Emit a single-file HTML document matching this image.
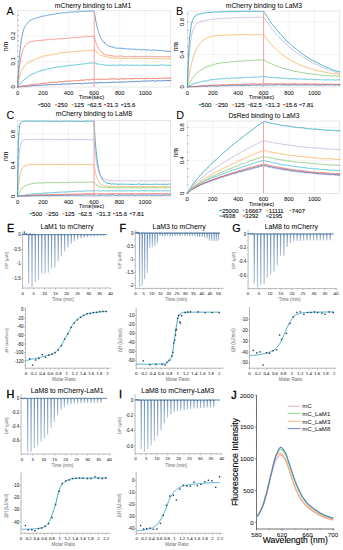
<!DOCTYPE html>
<html><head><meta charset="utf-8"><style>
html,body{margin:0;padding:0;background:#fff;}
svg{display:block;}
text{font-family:"Liberation Sans", sans-serif;}
</style></head><body>
<svg width="343" height="550" viewBox="0 0 343 550">
<defs><linearGradient id="sg" x1="0" y1="0" x2="0" y2="1"><stop offset="0" stop-color="#6d90b6"/><stop offset="1" stop-color="#c9d7e5"/></linearGradient>
<linearGradient id="sl" x1="0" y1="0" x2="0" y2="1"><stop offset="0" stop-color="#2f5f91"/><stop offset="1" stop-color="#7d9dc0"/></linearGradient></defs>
<rect width="343" height="550" fill="#fff"/>
<line x1="43.13" y1="10.80" x2="43.13" y2="87.00" stroke="#e6e6e6" stroke-width="0.5"/>
<line x1="68.67" y1="10.80" x2="68.67" y2="87.00" stroke="#e6e6e6" stroke-width="0.5"/>
<line x1="119.73" y1="10.80" x2="119.73" y2="87.00" stroke="#e6e6e6" stroke-width="0.5"/>
<line x1="145.27" y1="10.80" x2="145.27" y2="87.00" stroke="#e6e6e6" stroke-width="0.5"/>
<line x1="17.60" y1="61.40" x2="170.80" y2="61.40" stroke="#e6e6e6" stroke-width="0.5"/>
<line x1="17.60" y1="35.80" x2="170.80" y2="35.80" stroke="#e6e6e6" stroke-width="0.5"/>
<rect x="17.60" y="10.80" width="153.20" height="76.20" fill="none" stroke="#d6d6d6" stroke-width="0.6"/>
<line x1="17.60" y1="87.00" x2="18.80" y2="87.00" stroke="#555" stroke-width="0.6"/>
<line x1="17.60" y1="81.88" x2="18.80" y2="81.88" stroke="#555" stroke-width="0.6"/>
<line x1="17.60" y1="76.76" x2="18.80" y2="76.76" stroke="#555" stroke-width="0.6"/>
<line x1="17.60" y1="71.64" x2="18.80" y2="71.64" stroke="#555" stroke-width="0.6"/>
<line x1="17.60" y1="66.52" x2="18.80" y2="66.52" stroke="#555" stroke-width="0.6"/>
<line x1="17.60" y1="61.40" x2="18.80" y2="61.40" stroke="#555" stroke-width="0.6"/>
<line x1="17.60" y1="56.28" x2="18.80" y2="56.28" stroke="#555" stroke-width="0.6"/>
<line x1="17.60" y1="51.16" x2="18.80" y2="51.16" stroke="#555" stroke-width="0.6"/>
<line x1="17.60" y1="46.04" x2="18.80" y2="46.04" stroke="#555" stroke-width="0.6"/>
<line x1="17.60" y1="40.92" x2="18.80" y2="40.92" stroke="#555" stroke-width="0.6"/>
<line x1="17.60" y1="35.80" x2="18.80" y2="35.80" stroke="#555" stroke-width="0.6"/>
<line x1="17.60" y1="30.68" x2="18.80" y2="30.68" stroke="#555" stroke-width="0.6"/>
<line x1="17.60" y1="25.56" x2="18.80" y2="25.56" stroke="#555" stroke-width="0.6"/>
<line x1="17.60" y1="20.44" x2="18.80" y2="20.44" stroke="#555" stroke-width="0.6"/>
<line x1="17.60" y1="15.32" x2="18.80" y2="15.32" stroke="#555" stroke-width="0.6"/>
<path d="M17.6,87.0L17.9,86.9L18.2,87.0L18.6,87.0L18.9,86.9L19.2,87.0L19.5,86.8L19.8,86.5L20.2,86.8L20.5,86.8L20.8,86.5L21.1,86.5L21.4,86.6L21.7,86.7L22.1,86.5L22.4,86.3L22.7,86.7L23.0,86.5L23.3,86.8L23.7,86.6L24.0,86.7L24.3,86.4L24.6,86.5L24.9,86.2L25.3,86.2L25.6,86.2L26.4,86.7L27.1,86.2L27.9,86.0L28.7,85.9L29.4,86.2L30.2,85.9L31.0,86.0L31.7,85.9L32.5,85.5L33.3,85.8L34.1,85.6L34.8,85.4L35.6,85.6L36.4,85.5L37.1,85.4L37.9,85.4L38.7,85.6L39.5,85.3L40.2,85.0L41.0,85.5L41.8,85.0L42.5,85.1L43.3,85.2L44.1,84.6L44.9,84.8L45.6,85.2L46.4,84.9L47.2,84.8L47.9,84.9L48.7,84.7L49.5,84.8L50.3,84.6L51.0,84.4L51.8,84.8L52.6,84.6L53.3,84.7L54.1,84.5L54.9,84.8L55.6,84.6L56.4,84.5L57.2,84.3L58.0,84.2L58.7,84.6L59.5,84.5L60.3,84.2L61.0,84.7L61.8,84.3L62.6,84.2L63.4,83.9L64.1,84.0L64.9,84.2L65.7,84.1L66.4,84.1L67.2,83.7L68.0,84.1L68.8,84.0L69.5,83.8L70.3,83.9L71.1,83.9L71.8,84.0L72.6,83.8L73.4,83.8L74.2,83.5L74.9,83.6L75.7,83.7L76.5,83.5L77.2,83.7L78.0,83.3L78.8,83.5L79.6,83.4L80.3,83.7L81.1,83.4L81.9,83.8L82.6,83.8L83.4,83.4L84.2,83.5L84.9,83.2L85.7,82.8L86.5,83.4L87.3,83.3L88.0,83.1L88.8,83.0L89.6,83.1L90.3,83.1L91.1,82.9L91.9,82.9L92.7,83.2L93.4,83.0L94.2,82.9L94.2,83.1L94.5,82.8L94.9,83.1L95.2,82.7L95.5,82.8L95.8,82.8L96.2,83.0L96.5,82.9L96.8,83.2L97.1,83.0L97.5,82.7L97.8,83.2L98.1,82.6L98.5,83.1L98.8,82.6L99.1,82.9L99.4,82.6L99.8,82.7L100.1,83.0L100.4,82.4L100.7,82.4L101.1,82.7L101.4,82.7L101.7,82.7L102.1,82.8L102.4,82.4L102.7,82.7L103.0,82.6L103.4,82.8L103.7,82.7L104.0,82.8L104.3,82.3L104.7,82.6L105.0,82.3L105.3,82.5L105.7,82.7L106.0,82.6L106.3,82.6L106.6,82.5L107.0,82.6L107.3,82.5L108.3,82.7L109.2,82.6L110.1,82.0L111.0,82.5L111.9,82.5L112.9,82.2L113.8,82.0L114.7,82.5L115.6,82.2L116.5,82.3L117.5,82.5L118.4,81.9L119.3,82.1L120.2,82.0L121.1,82.2L122.1,81.9L123.0,82.1L123.9,81.9L124.8,82.1L125.7,82.1L126.7,81.5L127.6,81.9L128.5,81.7L129.4,81.7L130.3,81.8L131.3,81.8L132.2,81.5L133.1,81.7L134.0,81.6L134.9,81.5L135.9,81.3L136.8,81.3L137.7,81.4L138.6,81.5L139.5,81.7L140.5,81.2L141.4,81.1L142.3,81.3L143.2,81.2L144.1,81.1L145.1,81.0L146.0,81.0L146.9,81.2L147.8,80.8L148.7,81.3L149.6,80.9L150.6,80.9L151.5,80.8L152.4,80.6L153.3,80.6L154.2,81.1L155.2,81.2L156.1,80.7L157.0,81.0L157.9,80.8L158.8,80.6L159.8,81.0L160.7,81.1L161.6,80.6L162.5,80.6L163.4,80.6L164.4,80.6L165.3,80.7L166.2,80.8L167.1,80.5L168.0,80.6L169.0,80.7L169.9,80.3L170.8,80.4" fill="none" stroke="#3a6db8" stroke-width="0.85" stroke-linejoin="round" stroke-linecap="round"/>
<path d="M17.6,86.9L17.9,87.0L18.2,87.0L18.6,87.0L18.9,86.9L19.2,86.6L19.5,86.8L19.8,86.5L20.2,86.4L20.5,86.0L20.8,86.7L21.1,86.2L21.4,86.3L21.7,86.2L22.1,86.5L22.4,86.2L22.7,85.9L23.0,86.0L23.3,85.9L23.7,86.0L24.0,85.6L24.3,85.8L24.6,86.2L24.9,85.8L25.3,86.0L25.6,86.3L26.4,85.6L27.1,85.1L27.9,85.2L28.7,85.4L29.4,85.2L30.2,84.7L31.0,84.8L31.7,84.7L32.5,84.6L33.3,84.5L34.1,84.3L34.8,84.2L35.6,84.2L36.4,84.4L37.1,84.0L37.9,84.1L38.7,83.7L39.5,84.1L40.2,83.7L41.0,83.6L41.8,83.8L42.5,83.1L43.3,83.1L44.1,83.4L44.9,83.1L45.6,83.1L46.4,83.6L47.2,83.0L47.9,82.9L48.7,82.8L49.5,83.0L50.3,82.8L51.0,82.7L51.8,82.3L52.6,82.4L53.3,82.4L54.1,82.1L54.9,82.4L55.6,82.3L56.4,82.6L57.2,81.8L58.0,81.9L58.7,81.8L59.5,81.8L60.3,81.8L61.0,81.8L61.8,81.8L62.6,81.7L63.4,81.6L64.1,81.2L64.9,81.4L65.7,81.4L66.4,81.5L67.2,81.4L68.0,80.9L68.8,81.1L69.5,81.1L70.3,81.2L71.1,81.3L71.8,81.0L72.6,80.7L73.4,80.9L74.2,80.8L74.9,80.8L75.7,80.7L76.5,80.9L77.2,80.6L78.0,80.7L78.8,80.3L79.6,80.6L80.3,80.2L81.1,80.0L81.9,80.3L82.6,80.3L83.4,80.1L84.2,80.1L84.9,80.2L85.7,79.9L86.5,79.5L87.3,79.9L88.0,79.8L88.8,80.0L89.6,79.6L90.3,79.9L91.1,79.8L91.9,79.3L92.7,79.7L93.4,79.2L94.2,79.1L94.2,79.3L94.5,79.2L94.9,78.9L95.2,79.3L95.5,79.4L95.8,79.6L96.2,79.3L96.5,79.0L96.8,79.1L97.1,79.5L97.5,79.4L97.8,79.4L98.1,79.2L98.5,79.3L98.8,79.2L99.1,79.2L99.4,79.3L99.8,79.2L100.1,79.2L100.4,79.2L100.7,79.1L101.1,78.8L101.4,79.1L101.7,79.2L102.1,79.5L102.4,79.1L102.7,79.6L103.0,79.5L103.4,79.0L103.7,79.0L104.0,79.2L104.3,79.5L104.7,79.2L105.0,79.3L105.3,79.0L105.7,78.7L106.0,79.1L106.3,79.3L106.6,79.4L107.0,79.1L107.3,79.1L108.3,79.3L109.2,79.0L110.1,79.3L111.0,78.8L111.9,78.8L112.9,78.8L113.8,79.1L114.7,78.9L115.6,79.0L116.5,79.0L117.5,79.0L118.4,79.2L119.3,79.2L120.2,78.7L121.1,78.9L122.1,78.8L123.0,78.6L123.9,79.2L124.8,79.0L125.7,78.8L126.7,78.7L127.6,78.8L128.5,78.5L129.4,78.7L130.3,79.0L131.3,78.9L132.2,78.5L133.1,78.6L134.0,79.0L134.9,78.4L135.9,78.5L136.8,78.3L137.7,78.7L138.6,78.6L139.5,78.8L140.5,78.0L141.4,78.6L142.3,78.2L143.2,78.6L144.1,78.5L145.1,78.8L146.0,78.5L146.9,78.2L147.8,78.7L148.7,78.2L149.6,78.3L150.6,78.6L151.5,78.5L152.4,78.4L153.3,78.3L154.2,78.4L155.2,78.5L156.1,78.3L157.0,78.5L157.9,78.5L158.8,78.2L159.8,78.0L160.7,78.5L161.6,78.2L162.5,78.3L163.4,78.4L164.4,78.0L165.3,78.2L166.2,77.8L167.1,78.3L168.0,78.0L169.0,78.1L169.9,78.2L170.8,77.9" fill="none" stroke="#e8604f" stroke-width="0.85" stroke-linejoin="round" stroke-linecap="round"/>
<path d="M17.6,87.0L17.9,86.4L18.2,86.1L18.6,85.9L18.9,85.3L19.2,84.9L19.5,84.3L19.8,84.3L20.2,83.7L20.5,83.7L20.8,82.9L21.1,82.9L21.4,82.7L21.7,82.0L22.1,81.4L22.4,81.6L22.7,81.2L23.0,80.8L23.3,80.6L23.7,80.0L24.0,80.0L24.3,79.7L24.6,79.1L24.9,79.1L25.3,78.6L25.6,78.7L26.4,78.1L27.1,77.7L27.9,76.4L28.7,76.3L29.4,75.7L30.2,75.3L31.0,74.8L31.7,74.4L32.5,73.6L33.3,73.9L34.1,73.6L34.8,73.2L35.6,72.9L36.4,72.1L37.1,71.8L37.9,71.9L38.7,71.7L39.5,71.2L40.2,70.6L41.0,71.3L41.8,70.3L42.5,70.4L43.3,69.8L44.1,70.0L44.9,69.7L45.6,69.7L46.4,69.4L47.2,68.8L47.9,68.7L48.7,68.8L49.5,68.7L50.3,68.8L51.0,68.3L51.8,68.1L52.6,67.9L53.3,67.8L54.1,67.9L54.9,67.5L55.6,67.4L56.4,67.0L57.2,66.8L58.0,67.0L58.7,67.1L59.5,66.8L60.3,66.8L61.0,66.7L61.8,66.5L62.6,66.6L63.4,66.1L64.1,66.2L64.9,66.0L65.7,66.0L66.4,66.0L67.2,65.9L68.0,65.7L68.8,65.6L69.5,65.4L70.3,65.3L71.1,65.5L71.8,65.1L72.6,65.3L73.4,65.1L74.2,64.9L74.9,65.2L75.7,64.7L76.5,64.6L77.2,64.6L78.0,64.5L78.8,64.4L79.6,64.5L80.3,64.2L81.1,64.2L81.9,64.0L82.6,64.2L83.4,63.8L84.2,63.7L84.9,63.7L85.7,63.7L86.5,63.4L87.3,63.8L88.0,63.3L88.8,63.2L89.6,63.1L90.3,63.0L91.1,63.2L91.9,63.0L92.7,62.8L93.4,62.7L94.2,62.7L94.2,63.0L94.5,62.7L94.9,62.7L95.2,62.9L95.5,63.2L95.8,63.7L96.2,63.3L96.5,63.6L96.8,64.2L97.1,63.7L97.5,64.2L97.8,64.2L98.1,64.2L98.5,63.9L98.8,64.3L99.1,64.2L99.4,64.0L99.8,64.1L100.1,64.5L100.4,64.5L100.7,64.8L101.1,64.7L101.4,64.5L101.7,64.6L102.1,64.7L102.4,64.5L102.7,64.9L103.0,64.8L103.4,64.7L103.7,64.7L104.0,64.6L104.3,64.8L104.7,65.0L105.0,64.9L105.3,65.2L105.7,65.3L106.0,64.9L106.3,65.0L106.6,65.0L107.0,65.4L107.3,65.1L108.3,65.2L109.2,65.3L110.1,65.6L111.0,65.2L111.9,65.0L112.9,65.1L113.8,65.3L114.7,65.2L115.6,65.0L116.5,65.8L117.5,65.2L118.4,65.1L119.3,65.1L120.2,64.9L121.1,65.0L122.1,65.2L123.0,65.2L123.9,65.1L124.8,65.3L125.7,65.2L126.7,65.0L127.6,64.8L128.5,65.3L129.4,65.2L130.3,65.2L131.3,65.0L132.2,65.2L133.1,64.9L134.0,65.4L134.9,65.3L135.9,65.3L136.8,65.1L137.7,65.0L138.6,65.5L139.5,65.4L140.5,65.2L141.4,65.4L142.3,65.6L143.2,65.0L144.1,65.1L145.1,65.1L146.0,65.3L146.9,65.0L147.8,65.3L148.7,65.0L149.6,65.4L150.6,65.4L151.5,65.2L152.4,65.4L153.3,65.1L154.2,65.2L155.2,65.4L156.1,65.2L157.0,65.3L157.9,65.1L158.8,65.4L159.8,65.3L160.7,65.0L161.6,64.8L162.5,64.8L163.4,65.2L164.4,65.2L165.3,64.9L166.2,65.3L167.1,65.4L168.0,65.2L169.0,65.1L169.9,65.4L170.8,65.6" fill="none" stroke="#3cb8cc" stroke-width="0.85" stroke-linejoin="round" stroke-linecap="round"/>
<path d="M17.6,87.0L17.9,84.7L18.2,83.0L18.6,81.2L18.9,79.5L19.2,78.0L19.5,76.9L19.8,75.5L20.2,74.7L20.5,73.7L20.8,72.9L21.1,71.6L21.4,71.1L21.7,70.6L22.1,69.9L22.4,69.3L22.7,68.5L23.0,68.5L23.3,67.9L23.7,67.3L24.0,66.3L24.3,66.2L24.6,66.1L24.9,65.5L25.3,64.9L25.6,65.1L26.4,64.4L27.1,63.4L27.9,63.0L28.7,62.4L29.4,62.1L30.2,61.2L31.0,60.8L31.7,60.6L32.5,60.2L33.3,60.4L34.1,59.5L34.8,59.3L35.6,58.9L36.4,58.5L37.1,58.4L37.9,58.4L38.7,57.7L39.5,57.7L40.2,57.4L41.0,57.2L41.8,56.9L42.5,57.1L43.3,56.1L44.1,56.1L44.9,55.8L45.6,55.4L46.4,55.6L47.2,55.8L47.9,55.5L48.7,55.4L49.5,55.0L50.3,54.8L51.0,55.1L51.8,54.4L52.6,54.7L53.3,54.2L54.1,54.1L54.9,54.0L55.6,53.9L56.4,53.8L57.2,53.7L58.0,53.8L58.7,53.4L59.5,52.9L60.3,52.8L61.0,52.8L61.8,52.8L62.6,53.0L63.4,52.5L64.1,52.7L64.9,52.6L65.7,52.6L66.4,52.4L67.2,52.4L68.0,52.3L68.8,52.4L69.5,52.2L70.3,51.5L71.1,51.9L71.8,51.9L72.6,51.7L73.4,51.6L74.2,51.9L74.9,51.6L75.7,51.3L76.5,51.4L77.2,51.3L78.0,51.0L78.8,51.4L79.6,51.1L80.3,51.2L81.1,50.7L81.9,51.4L82.6,51.0L83.4,50.9L84.2,50.6L84.9,50.6L85.7,50.4L86.5,50.9L87.3,50.4L88.0,50.5L88.8,50.5L89.6,50.2L90.3,50.5L91.1,50.6L91.9,50.2L92.7,50.4L93.4,50.2L94.2,49.9L94.2,49.0L94.5,49.2L94.9,50.0L95.2,50.7L95.5,50.9L95.8,51.3L96.2,51.8L96.5,51.7L96.8,52.3L97.1,52.9L97.5,52.6L97.8,53.0L98.1,53.2L98.5,53.5L98.8,53.6L99.1,54.0L99.4,53.9L99.8,54.3L100.1,54.5L100.4,54.7L100.7,55.2L101.1,55.1L101.4,55.3L101.7,55.4L102.1,55.8L102.4,55.3L102.7,55.8L103.0,56.2L103.4,56.4L103.7,56.2L104.0,56.3L104.3,56.5L104.7,56.4L105.0,56.7L105.3,56.5L105.7,56.8L106.0,56.8L106.3,56.6L106.6,56.4L107.0,57.2L107.3,57.2L108.3,57.4L109.2,57.2L110.1,57.7L111.0,57.7L111.9,57.7L112.9,58.0L113.8,58.0L114.7,58.0L115.6,58.4L116.5,58.3L117.5,58.2L118.4,58.1L119.3,58.2L120.2,58.5L121.1,58.3L122.1,58.1L123.0,58.1L123.9,58.3L124.8,58.5L125.7,58.2L126.7,58.5L127.6,58.6L128.5,58.5L129.4,58.1L130.3,58.4L131.3,58.2L132.2,58.5L133.1,58.2L134.0,58.6L134.9,58.5L135.9,58.0L136.8,58.3L137.7,58.6L138.6,58.5L139.5,58.5L140.5,58.3L141.4,58.6L142.3,58.9L143.2,58.6L144.1,58.6L145.1,58.6L146.0,58.3L146.9,58.5L147.8,58.4L148.7,58.8L149.6,58.4L150.6,58.2L151.5,58.5L152.4,58.6L153.3,58.6L154.2,58.3L155.2,58.9L156.1,58.7L157.0,58.6L157.9,58.6L158.8,58.8L159.8,58.7L160.7,58.8L161.6,58.7L162.5,58.8L163.4,59.0L164.4,58.8L165.3,58.6L166.2,59.0L167.1,58.9L168.0,58.7L169.0,59.0L169.9,58.8L170.8,59.1" fill="none" stroke="#f5b25c" stroke-width="0.85" stroke-linejoin="round" stroke-linecap="round"/>
<path d="M17.6,86.8L17.9,82.2L18.2,78.4L18.6,75.4L18.9,72.0L19.2,69.2L19.5,66.6L19.8,64.0L20.2,62.4L20.5,60.0L20.8,58.4L21.1,56.5L21.4,55.3L21.7,54.2L22.1,52.8L22.4,51.7L22.7,50.8L23.0,49.8L23.3,49.3L23.7,48.9L24.0,47.6L24.3,47.0L24.6,46.6L24.9,46.1L25.3,45.4L25.6,45.3L26.4,44.5L27.1,43.7L27.9,42.9L28.7,43.0L29.4,42.1L30.2,42.2L31.0,42.0L31.7,41.3L32.5,41.4L33.3,41.5L34.1,41.2L34.8,40.8L35.6,40.7L36.4,40.9L37.1,40.6L37.9,40.5L38.7,40.7L39.5,40.4L40.2,40.4L41.0,40.5L41.8,40.4L42.5,40.2L43.3,40.1L44.1,40.2L44.9,40.1L45.6,39.7L46.4,39.9L47.2,39.7L47.9,39.5L48.7,39.6L49.5,39.2L50.3,39.8L51.0,39.4L51.8,39.5L52.6,39.0L53.3,39.0L54.1,39.7L54.9,39.4L55.6,39.0L56.4,38.9L57.2,38.9L58.0,39.0L58.7,38.8L59.5,38.7L60.3,38.8L61.0,38.5L61.8,39.1L62.6,38.5L63.4,38.7L64.1,38.3L64.9,38.5L65.7,38.5L66.4,38.2L67.2,38.4L68.0,38.3L68.8,38.4L69.5,38.0L70.3,37.9L71.1,37.7L71.8,37.9L72.6,37.6L73.4,37.7L74.2,37.7L74.9,37.5L75.7,37.3L76.5,37.5L77.2,37.5L78.0,37.4L78.8,37.3L79.6,37.4L80.3,37.0L81.1,37.2L81.9,37.0L82.6,37.2L83.4,36.8L84.2,36.8L84.9,36.9L85.7,36.3L86.5,36.6L87.3,36.2L88.0,36.4L88.8,36.6L89.6,36.5L90.3,36.3L91.1,36.3L91.9,36.2L92.7,36.2L93.4,36.5L94.2,36.1L94.2,36.5L94.5,37.4L94.9,38.9L95.2,40.2L95.5,41.2L95.8,42.1L96.2,43.5L96.5,44.4L96.8,45.2L97.1,46.1L97.5,46.7L97.8,46.8L98.1,48.0L98.5,48.2L98.8,49.2L99.1,49.4L99.4,50.0L99.8,50.3L100.1,50.6L100.4,50.8L100.7,51.4L101.1,51.8L101.4,52.3L101.7,52.3L102.1,52.7L102.4,52.7L102.7,53.1L103.0,53.0L103.4,54.0L103.7,53.8L104.0,53.7L104.3,54.1L104.7,54.4L105.0,54.4L105.3,54.8L105.7,54.6L106.0,54.2L106.3,54.6L106.6,55.1L107.0,55.2L107.3,55.2L108.3,55.1L109.2,55.6L110.1,55.8L111.0,55.5L111.9,55.6L112.9,56.0L113.8,56.2L114.7,56.3L115.6,56.2L116.5,56.6L117.5,56.0L118.4,56.3L119.3,56.1L120.2,55.8L121.1,56.0L122.1,56.5L123.0,56.1L123.9,56.1L124.8,56.5L125.7,56.5L126.7,56.4L127.6,56.7L128.5,56.1L129.4,56.9L130.3,56.6L131.3,56.4L132.2,56.4L133.1,56.4L134.0,56.4L134.9,56.5L135.9,56.2L136.8,56.9L137.7,56.5L138.6,56.6L139.5,56.5L140.5,56.4L141.4,56.7L142.3,56.6L143.2,56.4L144.1,56.5L145.1,56.7L146.0,56.1L146.9,56.1L147.8,56.9L148.7,56.5L149.6,56.1L150.6,56.4L151.5,56.6L152.4,56.7L153.3,56.7L154.2,56.7L155.2,56.7L156.1,56.5L157.0,56.7L157.9,56.8L158.8,56.9L159.8,56.7L160.7,56.9L161.6,56.7L162.5,56.5L163.4,56.6L164.4,56.6L165.3,56.7L166.2,56.7L167.1,56.8L168.0,56.8L169.0,56.6L169.9,57.0L170.8,56.5" fill="none" stroke="#f3877a" stroke-width="0.85" stroke-linejoin="round" stroke-linecap="round"/>
<path d="M17.6,87.0L17.9,80.5L18.2,74.4L18.6,69.1L18.9,64.1L19.2,59.9L19.5,55.7L19.8,52.6L20.2,49.8L20.5,46.7L20.8,44.4L21.1,41.7L21.4,39.4L21.7,37.7L22.1,36.4L22.4,34.8L22.7,32.9L23.0,32.0L23.3,30.9L23.7,29.7L24.0,28.5L24.3,27.9L24.6,27.4L24.9,26.6L25.3,26.0L25.6,25.6L26.4,24.5L27.1,23.3L27.9,22.6L28.7,21.7L29.4,21.1L30.2,20.1L31.0,20.3L31.7,19.7L32.5,19.4L33.3,18.9L34.1,18.5L34.8,18.5L35.6,18.3L36.4,18.2L37.1,17.8L37.9,17.3L38.7,17.1L39.5,17.1L40.2,16.8L41.0,16.5L41.8,16.2L42.5,16.3L43.3,16.0L44.1,16.2L44.9,15.9L45.6,15.2L46.4,15.8L47.2,15.3L47.9,15.0L48.7,15.0L49.5,14.9L50.3,14.7L51.0,14.5L51.8,14.4L52.6,14.7L53.3,14.2L54.1,14.2L54.9,14.0L55.6,13.8L56.4,13.6L57.2,13.4L58.0,13.6L58.7,13.2L59.5,13.1L60.3,13.0L61.0,12.9L61.8,13.1L62.6,13.0L63.4,12.7L64.1,13.1L64.9,12.7L65.7,12.8L66.4,12.7L67.2,12.9L68.0,12.6L68.8,12.4L69.5,12.1L70.3,12.1L71.1,12.2L71.8,12.2L72.6,12.2L73.4,11.9L74.2,12.0L74.9,11.8L75.7,11.5L76.5,11.8L77.2,12.0L78.0,11.8L78.8,11.9L79.6,11.8L80.3,11.2L81.1,11.4L81.9,11.7L82.6,11.2L83.4,11.1L84.2,11.3L84.9,11.4L85.7,11.2L86.5,11.1L87.3,11.1L88.0,11.1L88.8,11.1L89.6,11.1L90.3,11.1L91.1,11.1L91.9,11.1L92.7,11.1L93.4,11.1L94.2,11.1L94.2,11.1L94.5,13.1L94.9,15.3L95.2,16.9L95.5,18.9L95.8,20.8L96.2,22.3L96.5,23.8L96.8,25.5L97.1,27.4L97.5,28.3L97.8,29.5L98.1,30.8L98.5,31.6L98.8,32.4L99.1,33.7L99.4,34.7L99.8,34.9L100.1,36.2L100.4,37.1L100.7,37.4L101.1,38.1L101.4,38.9L101.7,39.2L102.1,40.0L102.4,40.5L102.7,40.8L103.0,41.1L103.4,41.8L103.7,42.0L104.0,42.5L104.3,42.2L104.7,43.3L105.0,43.2L105.3,43.7L105.7,44.0L106.0,44.1L106.3,44.3L106.6,44.5L107.0,44.9L107.3,45.3L108.3,45.8L109.2,46.0L110.1,46.4L111.0,46.5L111.9,47.0L112.9,47.1L113.8,47.2L114.7,47.7L115.6,48.1L116.5,48.2L117.5,48.4L118.4,47.9L119.3,48.5L120.2,48.1L121.1,48.4L122.1,48.2L123.0,48.4L123.9,48.7L124.8,48.8L125.7,48.8L126.7,48.8L127.6,49.0L128.5,49.0L129.4,48.7L130.3,49.4L131.3,49.1L132.2,49.4L133.1,49.2L134.0,49.1L134.9,49.4L135.9,49.2L136.8,49.8L137.7,49.3L138.6,49.7L139.5,49.5L140.5,49.6L141.4,50.2L142.3,49.9L143.2,49.7L144.1,49.5L145.1,49.8L146.0,49.9L146.9,50.2L147.8,49.7L148.7,49.7L149.6,50.1L150.6,50.2L151.5,50.5L152.4,50.1L153.3,49.7L154.2,50.2L155.2,50.1L156.1,50.3L157.0,50.7L157.9,50.2L158.8,50.8L159.8,50.6L160.7,50.6L161.6,50.5L162.5,50.7L163.4,50.7L164.4,51.0L165.3,51.1L166.2,50.9L167.1,51.1L168.0,51.3L169.0,51.3L169.9,51.2L170.8,51.5" fill="none" stroke="#4a8fd0" stroke-width="0.85" stroke-linejoin="round" stroke-linecap="round"/>
<line x1="94.20" y1="10.80" x2="94.20" y2="87.00" stroke="#f4a2a2" stroke-width="1.0"/>
<text x="17.60" y="94.89" font-size="5.8" fill="#111" text-anchor="middle" stroke="#111" stroke-width="0.05">0</text>
<text x="43.13" y="94.89" font-size="5.8" fill="#111" text-anchor="middle" stroke="#111" stroke-width="0.05">200</text>
<text x="68.67" y="94.89" font-size="5.8" fill="#111" text-anchor="middle" stroke="#111" stroke-width="0.05">400</text>
<text x="94.20" y="94.89" font-size="5.8" fill="#111" text-anchor="middle" stroke="#111" stroke-width="0.05">600</text>
<text x="119.73" y="94.89" font-size="5.8" fill="#111" text-anchor="middle" stroke="#111" stroke-width="0.05">800</text>
<text x="145.27" y="94.89" font-size="5.8" fill="#111" text-anchor="middle" stroke="#111" stroke-width="0.05">1000</text>
<text x="15.29" y="87.00" font-size="5.8" fill="#111" text-anchor="middle" stroke="#111" stroke-width="0.05" transform="rotate(-90 15.29 87.00)">0</text>
<text x="15.29" y="61.40" font-size="5.8" fill="#111" text-anchor="middle" stroke="#111" stroke-width="0.05" transform="rotate(-90 15.29 61.40)">0.1</text>
<text x="15.29" y="35.80" font-size="5.8" fill="#111" text-anchor="middle" stroke="#111" stroke-width="0.05" transform="rotate(-90 15.29 35.80)">0.2</text>
<text x="8.15" y="46.50" font-size="6.8" fill="#111" text-anchor="middle" stroke="#111" stroke-width="0.08" transform="rotate(-90 8.15 46.50)">nm</text>
<text x="91.50" y="99.39" font-size="5.8" fill="#111" text-anchor="middle" stroke="#111" stroke-width="0.05">Time(sec)</text>
<text x="93.00" y="8.15" font-size="6.8" fill="#000" text-anchor="middle">mCherry binding to LaM1</text>
<line x1="38.00" y1="104.70" x2="40.40" y2="104.70" stroke="#4a8fd0" stroke-width="1.4"/>
<text x="40.50" y="106.86" font-size="6.0" fill="#111" stroke="#111" stroke-width="0.1">500</text>
<line x1="55.00" y1="104.70" x2="57.40" y2="104.70" stroke="#f3877a" stroke-width="1.4"/>
<text x="57.50" y="106.86" font-size="6.0" fill="#111" stroke="#111" stroke-width="0.1">250</text>
<line x1="71.50" y1="104.70" x2="73.90" y2="104.70" stroke="#f5b25c" stroke-width="1.4"/>
<text x="74.00" y="106.86" font-size="6.0" fill="#111" stroke="#111" stroke-width="0.1">125</text>
<line x1="87.40" y1="104.70" x2="89.80" y2="104.70" stroke="#3cb8cc" stroke-width="1.4"/>
<text x="89.90" y="106.86" font-size="6.0" fill="#111" stroke="#111" stroke-width="0.1">62.5</text>
<line x1="103.90" y1="104.70" x2="106.30" y2="104.70" stroke="#e8604f" stroke-width="1.4"/>
<text x="106.40" y="106.86" font-size="6.0" fill="#111" stroke="#111" stroke-width="0.1">31.3</text>
<line x1="121.10" y1="104.70" x2="123.50" y2="104.70" stroke="#3a6db8" stroke-width="1.4"/>
<text x="123.60" y="106.86" font-size="6.0" fill="#111" stroke="#111" stroke-width="0.1">15.6</text>
<line x1="212.80" y1="11.00" x2="212.80" y2="87.00" stroke="#e6e6e6" stroke-width="0.5"/>
<line x1="238.20" y1="11.00" x2="238.20" y2="87.00" stroke="#e6e6e6" stroke-width="0.5"/>
<line x1="289.00" y1="11.00" x2="289.00" y2="87.00" stroke="#e6e6e6" stroke-width="0.5"/>
<line x1="314.40" y1="11.00" x2="314.40" y2="87.00" stroke="#e6e6e6" stroke-width="0.5"/>
<line x1="187.40" y1="54.50" x2="339.80" y2="54.50" stroke="#e6e6e6" stroke-width="0.5"/>
<line x1="187.40" y1="22.00" x2="339.80" y2="22.00" stroke="#e6e6e6" stroke-width="0.5"/>
<rect x="187.40" y="11.00" width="152.40" height="76.00" fill="none" stroke="#d6d6d6" stroke-width="0.6"/>
<line x1="187.40" y1="87.00" x2="188.60" y2="87.00" stroke="#555" stroke-width="0.6"/>
<line x1="187.40" y1="78.88" x2="188.60" y2="78.88" stroke="#555" stroke-width="0.6"/>
<line x1="187.40" y1="70.75" x2="188.60" y2="70.75" stroke="#555" stroke-width="0.6"/>
<line x1="187.40" y1="62.62" x2="188.60" y2="62.62" stroke="#555" stroke-width="0.6"/>
<line x1="187.40" y1="54.50" x2="188.60" y2="54.50" stroke="#555" stroke-width="0.6"/>
<line x1="187.40" y1="46.38" x2="188.60" y2="46.38" stroke="#555" stroke-width="0.6"/>
<line x1="187.40" y1="38.25" x2="188.60" y2="38.25" stroke="#555" stroke-width="0.6"/>
<line x1="187.40" y1="30.13" x2="188.60" y2="30.13" stroke="#555" stroke-width="0.6"/>
<line x1="187.40" y1="22.00" x2="188.60" y2="22.00" stroke="#555" stroke-width="0.6"/>
<line x1="187.40" y1="13.88" x2="188.60" y2="13.88" stroke="#555" stroke-width="0.6"/>
<path d="M187.4,87.0L187.7,87.0L188.0,86.9L188.4,86.9L188.7,86.6L189.0,87.0L189.3,87.0L189.6,86.7L189.9,86.9L190.3,86.9L190.6,86.5L190.9,86.9L191.2,87.0L191.5,87.0L191.8,86.7L192.2,86.7L192.5,87.0L192.8,86.9L193.1,86.6L193.4,86.6L193.8,86.8L194.1,86.6L194.4,86.5L194.7,86.9L195.0,86.7L195.3,86.5L196.1,86.7L196.9,86.9L197.6,86.5L198.4,86.3L199.2,86.2L199.9,86.8L200.7,86.0L201.5,86.5L202.2,86.2L203.0,86.1L203.8,86.1L204.5,86.2L205.3,86.4L206.1,86.1L206.8,86.3L207.6,86.6L208.4,85.7L209.1,86.0L209.9,85.8L210.7,86.2L211.4,85.8L212.2,85.8L213.0,85.7L213.7,86.0L214.5,86.1L215.3,86.0L216.0,86.3L216.8,86.2L217.6,85.9L218.3,86.0L219.1,85.9L219.9,85.8L220.6,85.5L221.4,85.6L222.2,85.8L222.9,85.5L223.7,85.9L224.5,85.8L225.3,85.5L226.0,85.9L226.8,85.7L227.6,85.9L228.3,85.6L229.1,85.3L229.9,85.7L230.6,85.5L231.4,85.7L232.2,85.7L232.9,85.7L233.7,85.3L234.5,85.1L235.2,85.4L236.0,85.6L236.8,85.3L237.5,85.5L238.3,85.3L239.1,85.4L239.8,85.4L240.6,85.3L241.4,85.5L242.1,85.4L242.9,85.6L243.7,85.4L244.4,85.5L245.2,85.3L246.0,85.4L246.7,85.3L247.5,85.2L248.3,85.5L249.0,85.4L249.8,85.4L250.6,85.1L251.3,84.9L252.1,85.0L252.9,85.2L253.6,84.9L254.4,85.4L255.2,84.9L255.9,85.2L256.7,85.6L257.5,84.7L258.2,84.8L259.0,85.2L259.8,85.0L260.5,85.1L261.3,85.0L262.1,85.3L262.8,85.1L263.6,84.9L263.6,84.9L263.9,84.8L264.3,85.0L264.6,84.6L264.9,85.1L265.2,84.9L265.6,85.3L265.9,85.2L266.2,84.8L266.5,85.1L266.9,84.9L267.2,85.0L267.5,85.1L267.8,85.0L268.2,85.1L268.5,85.0L268.8,84.8L269.1,84.9L269.5,85.1L269.8,85.1L270.1,84.9L270.4,85.0L270.8,84.8L271.1,84.5L271.4,84.8L271.7,85.0L272.1,85.0L272.4,85.1L272.7,85.1L273.0,85.1L273.4,85.0L273.7,85.0L274.0,84.8L274.3,85.0L274.7,85.0L275.0,85.2L275.3,84.7L275.6,84.9L276.0,84.7L276.3,84.8L276.7,84.7L277.6,85.0L278.5,84.9L279.4,84.5L280.3,85.2L281.3,84.8L282.2,84.7L283.1,84.9L284.0,84.8L284.9,84.8L285.8,85.1L286.7,84.9L287.7,85.1L288.6,85.1L289.5,85.1L290.4,85.0L291.3,84.9L292.2,84.9L293.1,85.2L294.1,84.6L295.0,84.8L295.9,84.8L296.8,85.0L297.7,85.0L298.6,84.9L299.6,84.9L300.5,85.2L301.4,84.8L302.3,84.5L303.2,85.3L304.1,84.8L305.0,84.9L306.0,85.0L306.9,84.7L307.8,85.2L308.7,84.9L309.6,84.7L310.5,85.0L311.4,85.0L312.4,84.9L313.3,85.0L314.2,84.7L315.1,85.1L316.0,84.8L316.9,85.2L317.8,84.9L318.8,85.0L319.7,85.4L320.6,85.0L321.5,85.1L322.4,85.0L323.3,84.7L324.2,85.2L325.2,85.1L326.1,84.7L327.0,84.9L327.9,84.7L328.8,84.9L329.7,85.1L330.7,85.0L331.6,84.8L332.5,84.8L333.4,85.0L334.3,85.0L335.2,85.0L336.1,85.1L337.1,84.6L338.0,85.0L338.9,85.2L339.8,85.0" fill="none" stroke="#3a6db8" stroke-width="0.85" stroke-linejoin="round" stroke-linecap="round"/>
<path d="M187.4,86.9L187.7,86.9L188.0,87.0L188.4,87.0L188.7,86.9L189.0,87.0L189.3,87.0L189.6,86.6L189.9,86.8L190.3,86.7L190.6,86.5L190.9,86.5L191.2,86.6L191.5,86.2L191.8,86.5L192.2,86.6L192.5,86.4L192.8,86.4L193.1,86.6L193.4,86.4L193.8,86.4L194.1,86.7L194.4,86.4L194.7,86.4L195.0,86.4L195.3,86.6L196.1,86.3L196.9,86.2L197.6,86.1L198.4,86.2L199.2,85.9L199.9,86.2L200.7,85.9L201.5,85.6L202.2,85.9L203.0,85.8L203.8,85.5L204.5,85.7L205.3,85.7L206.1,85.5L206.8,85.4L207.6,85.9L208.4,85.6L209.1,85.6L209.9,85.6L210.7,85.5L211.4,85.5L212.2,85.2L213.0,85.4L213.7,85.2L214.5,85.1L215.3,85.3L216.0,85.1L216.8,84.8L217.6,85.0L218.3,85.1L219.1,85.0L219.9,85.1L220.6,84.9L221.4,84.8L222.2,85.0L222.9,84.9L223.7,84.7L224.5,84.9L225.3,84.8L226.0,84.9L226.8,84.9L227.6,84.8L228.3,84.3L229.1,84.7L229.9,84.7L230.6,84.7L231.4,84.6L232.2,84.5L232.9,84.5L233.7,84.2L234.5,84.5L235.2,84.3L236.0,84.4L236.8,84.3L237.5,84.7L238.3,84.4L239.1,84.4L239.8,84.4L240.6,84.7L241.4,84.2L242.1,84.4L242.9,84.4L243.7,84.3L244.4,84.3L245.2,84.2L246.0,84.4L246.7,84.3L247.5,84.1L248.3,84.1L249.0,84.2L249.8,84.2L250.6,84.2L251.3,84.1L252.1,83.9L252.9,84.2L253.6,83.8L254.4,83.9L255.2,84.0L255.9,83.8L256.7,84.2L257.5,84.2L258.2,84.1L259.0,84.0L259.8,83.9L260.5,83.9L261.3,83.8L262.1,84.2L262.8,83.7L263.6,84.0L263.6,83.9L263.9,83.8L264.3,83.9L264.6,84.0L264.9,83.9L265.2,83.8L265.6,83.7L265.9,83.7L266.2,83.9L266.5,83.9L266.9,83.9L267.2,83.7L267.5,84.1L267.8,83.6L268.2,83.9L268.5,83.9L268.8,83.7L269.1,83.6L269.5,83.7L269.8,83.6L270.1,83.8L270.4,83.6L270.8,83.6L271.1,83.8L271.4,83.6L271.7,83.8L272.1,83.8L272.4,84.0L272.7,83.9L273.0,83.7L273.4,84.0L273.7,83.7L274.0,83.8L274.3,83.8L274.7,84.2L275.0,83.8L275.3,83.7L275.6,84.0L276.0,83.8L276.3,84.2L276.7,83.7L277.6,83.9L278.5,83.7L279.4,84.2L280.3,83.7L281.3,83.9L282.2,83.7L283.1,84.0L284.0,84.0L284.9,83.5L285.8,84.0L286.7,84.0L287.7,83.9L288.6,84.1L289.5,83.7L290.4,83.6L291.3,84.0L292.2,84.2L293.1,83.7L294.1,83.8L295.0,83.8L295.9,83.8L296.8,84.1L297.7,84.0L298.6,84.2L299.6,84.2L300.5,83.8L301.4,84.1L302.3,83.6L303.2,84.0L304.1,84.1L305.0,83.9L306.0,83.7L306.9,83.9L307.8,84.2L308.7,84.0L309.6,83.8L310.5,84.1L311.4,84.2L312.4,83.9L313.3,84.0L314.2,84.3L315.1,84.1L316.0,84.2L316.9,84.0L317.8,84.1L318.8,83.9L319.7,84.0L320.6,84.4L321.5,84.1L322.4,84.0L323.3,84.1L324.2,84.0L325.2,84.2L326.1,84.3L327.0,84.0L327.9,84.3L328.8,84.5L329.7,84.0L330.7,84.3L331.6,84.2L332.5,84.4L333.4,84.4L334.3,84.4L335.2,84.3L336.1,84.2L337.1,84.6L338.0,84.1L338.9,84.4L339.8,84.4" fill="none" stroke="#e8604f" stroke-width="0.85" stroke-linejoin="round" stroke-linecap="round"/>
<path d="M187.4,86.9L187.7,86.8L188.0,86.9L188.4,86.1L188.7,86.4L189.0,86.0L189.3,85.9L189.6,85.5L189.9,85.7L190.3,85.3L190.6,85.4L190.9,84.9L191.2,85.1L191.5,84.9L191.8,84.4L192.2,84.5L192.5,84.4L192.8,83.9L193.1,84.1L193.4,84.1L193.8,83.8L194.1,83.9L194.4,83.5L194.7,83.3L195.0,83.5L195.3,83.4L196.1,83.0L196.9,82.8L197.6,82.7L198.4,82.2L199.2,82.5L199.9,82.0L200.7,81.8L201.5,81.6L202.2,81.3L203.0,81.4L203.8,81.0L204.5,81.0L205.3,80.9L206.1,80.9L206.8,80.7L207.6,80.3L208.4,80.4L209.1,80.2L209.9,79.9L210.7,79.8L211.4,79.6L212.2,79.8L213.0,79.9L213.7,79.4L214.5,79.5L215.3,79.2L216.0,79.4L216.8,79.1L217.6,79.1L218.3,79.0L219.1,79.0L219.9,78.9L220.6,78.9L221.4,78.8L222.2,78.7L222.9,78.9L223.7,78.4L224.5,78.7L225.3,78.4L226.0,78.6L226.8,78.5L227.6,78.1L228.3,78.5L229.1,78.6L229.9,78.4L230.6,78.3L231.4,77.9L232.2,78.2L232.9,78.0L233.7,78.3L234.5,78.0L235.2,77.9L236.0,77.7L236.8,78.1L237.5,77.8L238.3,77.8L239.1,78.0L239.8,77.8L240.6,77.8L241.4,78.1L242.1,77.6L242.9,77.6L243.7,77.7L244.4,77.8L245.2,77.3L246.0,77.5L246.7,77.3L247.5,77.2L248.3,77.5L249.0,77.2L249.8,77.4L250.6,77.3L251.3,77.3L252.1,77.2L252.9,77.0L253.6,77.2L254.4,77.2L255.2,77.2L255.9,77.0L256.7,77.2L257.5,77.1L258.2,77.0L259.0,77.1L259.8,77.0L260.5,77.0L261.3,76.5L262.1,76.6L262.8,76.7L263.6,76.8L263.6,76.4L263.9,76.7L264.3,76.8L264.6,76.8L264.9,76.8L265.2,76.7L265.6,77.0L265.9,76.6L266.2,77.2L266.5,76.9L266.9,77.2L267.2,76.8L267.5,77.2L267.8,77.2L268.2,77.0L268.5,77.0L268.8,77.4L269.1,77.3L269.5,77.5L269.8,77.3L270.1,77.4L270.4,77.4L270.8,77.5L271.1,77.5L271.4,77.6L271.7,77.4L272.1,77.3L272.4,77.8L272.7,77.6L273.0,77.7L273.4,77.5L273.7,77.8L274.0,77.7L274.3,77.8L274.7,77.6L275.0,77.7L275.3,77.8L275.6,77.7L276.0,77.8L276.3,78.1L276.7,77.8L277.6,77.9L278.5,78.0L279.4,77.9L280.3,77.9L281.3,78.3L282.2,78.3L283.1,78.0L284.0,78.1L284.9,78.5L285.8,78.6L286.7,78.6L287.7,78.6L288.6,78.8L289.5,78.6L290.4,78.9L291.3,78.9L292.2,78.6L293.1,78.9L294.1,78.8L295.0,78.8L295.9,78.8L296.8,79.0L297.7,79.0L298.6,79.1L299.6,78.8L300.5,79.0L301.4,79.3L302.3,79.1L303.2,79.1L304.1,79.1L305.0,78.9L306.0,79.0L306.9,79.4L307.8,79.3L308.7,79.6L309.6,79.3L310.5,79.4L311.4,79.0L312.4,79.4L313.3,79.8L314.2,79.6L315.1,79.5L316.0,79.8L316.9,79.7L317.8,79.7L318.8,79.6L319.7,79.7L320.6,79.8L321.5,79.6L322.4,79.8L323.3,79.8L324.2,80.0L325.2,79.9L326.1,79.7L327.0,80.1L327.9,79.8L328.8,79.7L329.7,79.9L330.7,79.8L331.6,80.1L332.5,79.7L333.4,79.7L334.3,79.9L335.2,80.2L336.1,80.1L337.1,79.8L338.0,79.7L338.9,79.9L339.8,79.8" fill="none" stroke="#45bbd3" stroke-width="0.85" stroke-linejoin="round" stroke-linecap="round"/>
<path d="M187.4,87.0L187.7,86.4L188.0,85.7L188.4,85.0L188.7,84.7L189.0,83.7L189.3,83.1L189.6,82.9L189.9,82.4L190.3,81.6L190.6,81.2L190.9,81.0L191.2,80.0L191.5,79.6L191.8,79.3L192.2,78.4L192.5,78.3L192.8,78.0L193.1,77.4L193.4,77.2L193.8,76.8L194.1,76.2L194.4,76.0L194.7,75.6L195.0,74.9L195.3,74.7L196.1,73.9L196.9,73.2L197.6,72.5L198.4,71.7L199.2,71.3L199.9,70.4L200.7,70.3L201.5,69.7L202.2,69.4L203.0,68.8L203.8,68.2L204.5,67.6L205.3,67.6L206.1,67.1L206.8,66.9L207.6,66.6L208.4,66.4L209.1,65.9L209.9,65.9L210.7,65.4L211.4,65.2L212.2,65.0L213.0,64.9L213.7,64.7L214.5,64.0L215.3,64.4L216.0,63.7L216.8,63.7L217.6,63.7L218.3,63.7L219.1,63.2L219.9,63.0L220.6,63.3L221.4,63.1L222.2,62.7L222.9,62.7L223.7,62.4L224.5,62.7L225.3,62.4L226.0,62.6L226.8,62.0L227.6,62.3L228.3,62.5L229.1,62.1L229.9,62.0L230.6,61.6L231.4,61.9L232.2,61.8L232.9,61.6L233.7,61.4L234.5,61.6L235.2,61.3L236.0,61.4L236.8,61.4L237.5,61.3L238.3,61.3L239.1,61.4L239.8,61.0L240.6,61.3L241.4,60.9L242.1,60.9L242.9,61.0L243.7,61.0L244.4,60.9L245.2,60.7L246.0,60.6L246.7,60.7L247.5,60.5L248.3,60.7L249.0,60.5L249.8,60.8L250.6,60.4L251.3,60.4L252.1,60.5L252.9,60.2L253.6,60.2L254.4,60.7L255.2,60.2L255.9,60.4L256.7,60.0L257.5,59.7L258.2,60.2L259.0,60.0L259.8,60.0L260.5,59.9L261.3,59.8L262.1,59.7L262.8,60.0L263.6,59.6L263.6,59.9L263.9,59.9L264.3,60.0L264.6,60.2L264.9,60.7L265.2,60.8L265.6,60.9L265.9,61.1L266.2,61.0L266.5,61.6L266.9,61.5L267.2,61.6L267.5,61.8L267.8,62.0L268.2,62.0L268.5,62.3L268.8,62.4L269.1,62.6L269.5,62.6L269.8,63.3L270.1,63.0L270.4,63.4L270.8,63.5L271.1,63.8L271.4,64.1L271.7,64.0L272.1,64.2L272.4,64.1L272.7,64.6L273.0,64.3L273.4,64.6L273.7,64.8L274.0,65.0L274.3,65.2L274.7,65.3L275.0,65.4L275.3,65.4L275.6,65.6L276.0,65.9L276.3,65.9L276.7,66.1L277.6,66.3L278.5,66.3L279.4,66.9L280.3,67.3L281.3,67.8L282.2,68.1L283.1,68.4L284.0,68.3L284.9,68.8L285.8,69.0L286.7,69.3L287.7,69.5L288.6,69.5L289.5,70.1L290.4,70.3L291.3,70.6L292.2,70.5L293.1,71.0L294.1,71.2L295.0,71.5L295.9,71.7L296.8,71.6L297.7,71.4L298.6,72.2L299.6,72.0L300.5,72.3L301.4,72.7L302.3,72.7L303.2,72.8L304.1,73.1L305.0,72.8L306.0,73.6L306.9,73.3L307.8,73.5L308.7,73.7L309.6,73.7L310.5,73.8L311.4,74.0L312.4,74.1L313.3,74.1L314.2,74.7L315.1,74.2L316.0,74.2L316.9,74.5L317.8,74.6L318.8,75.1L319.7,75.0L320.6,75.2L321.5,75.2L322.4,75.0L323.3,75.4L324.2,75.4L325.2,75.7L326.1,75.5L327.0,75.6L327.9,75.8L328.8,75.8L329.7,75.5L330.7,76.0L331.6,76.1L332.5,76.1L333.4,75.8L334.3,75.7L335.2,76.1L336.1,76.3L337.1,76.3L338.0,76.1L338.9,76.5L339.8,76.2" fill="none" stroke="#84c877" stroke-width="0.85" stroke-linejoin="round" stroke-linecap="round"/>
<path d="M187.4,86.8L187.7,84.7L188.0,82.4L188.4,80.2L188.7,78.1L189.0,76.6L189.3,74.4L189.6,72.9L189.9,71.3L190.3,69.5L190.6,68.0L190.9,66.7L191.2,65.4L191.5,63.9L191.8,62.3L192.2,61.0L192.5,60.0L192.8,58.8L193.1,58.0L193.4,56.9L193.8,55.9L194.1,55.2L194.4,54.3L194.7,53.2L195.0,52.5L195.3,51.8L196.1,49.8L196.9,48.4L197.6,46.8L198.4,45.7L199.2,44.6L199.9,43.5L200.7,42.7L201.5,42.0L202.2,41.2L203.0,40.4L203.8,39.8L204.5,39.2L205.3,39.2L206.1,38.6L206.8,38.2L207.6,37.7L208.4,37.5L209.1,37.3L209.9,36.8L210.7,36.7L211.4,36.7L212.2,36.1L213.0,36.0L213.7,36.1L214.5,35.8L215.3,35.9L216.0,35.5L216.8,35.6L217.6,35.7L218.3,35.5L219.1,35.5L219.9,35.3L220.6,35.2L221.4,35.2L222.2,35.3L222.9,35.7L223.7,35.1L224.5,35.4L225.3,35.0L226.0,34.8L226.8,34.9L227.6,35.0L228.3,35.0L229.1,34.9L229.9,35.0L230.6,35.0L231.4,35.0L232.2,34.7L232.9,34.8L233.7,34.7L234.5,34.9L235.2,34.8L236.0,34.8L236.8,34.7L237.5,34.6L238.3,34.7L239.1,34.9L239.8,34.9L240.6,34.5L241.4,34.8L242.1,34.8L242.9,34.5L243.7,34.5L244.4,34.6L245.2,34.8L246.0,34.3L246.7,34.6L247.5,34.6L248.3,34.7L249.0,34.9L249.8,34.9L250.6,34.6L251.3,34.6L252.1,34.7L252.9,34.8L253.6,34.9L254.4,34.7L255.2,34.9L255.9,34.5L256.7,34.4L257.5,34.2L258.2,34.5L259.0,34.7L259.8,34.8L260.5,35.2L261.3,34.7L262.1,34.6L262.8,34.4L263.6,34.5L263.6,34.5L263.9,35.0L264.3,35.4L264.6,35.7L264.9,36.6L265.2,36.9L265.6,37.5L265.9,37.5L266.2,37.9L266.5,38.5L266.9,39.2L267.2,39.4L267.5,39.9L267.8,40.2L268.2,40.7L268.5,40.9L268.8,41.5L269.1,41.7L269.5,42.2L269.8,42.6L270.1,43.0L270.4,43.4L270.8,43.6L271.1,44.1L271.4,44.4L271.7,44.8L272.1,45.4L272.4,45.3L272.7,46.0L273.0,46.1L273.4,46.4L273.7,47.1L274.0,47.3L274.3,47.6L274.7,48.0L275.0,48.3L275.3,48.4L275.6,48.8L276.0,49.0L276.3,49.5L276.7,49.7L277.6,50.7L278.5,51.4L279.4,52.1L280.3,53.0L281.3,53.8L282.2,54.6L283.1,55.1L284.0,55.7L284.9,56.5L285.8,57.2L286.7,57.6L287.7,57.9L288.6,59.0L289.5,59.4L290.4,60.0L291.3,61.0L292.2,61.1L293.1,61.7L294.1,61.8L295.0,62.6L295.9,63.1L296.8,63.5L297.7,63.8L298.6,64.4L299.6,64.7L300.5,65.3L301.4,65.5L302.3,65.7L303.2,65.9L304.1,66.4L305.0,66.9L306.0,67.0L306.9,67.4L307.8,67.6L308.7,68.0L309.6,68.5L310.5,68.7L311.4,69.0L312.4,69.2L313.3,69.5L314.2,69.9L315.1,70.4L316.0,70.4L316.9,70.8L317.8,70.7L318.8,70.9L319.7,71.4L320.6,71.2L321.5,71.4L322.4,71.7L323.3,71.7L324.2,71.8L325.2,72.5L326.1,72.3L327.0,72.6L327.9,72.7L328.8,72.8L329.7,73.2L330.7,73.3L331.6,73.5L332.5,73.6L333.4,73.7L334.3,74.0L335.2,74.1L336.1,73.9L337.1,74.2L338.0,74.2L338.9,74.7L339.8,74.6" fill="none" stroke="#f5b25c" stroke-width="0.85" stroke-linejoin="round" stroke-linecap="round"/>
<path d="M187.4,87.0L187.7,79.6L188.0,73.2L188.4,67.1L188.7,62.2L189.0,57.6L189.3,53.6L189.6,50.0L189.9,47.0L190.3,44.0L190.6,41.6L190.9,39.5L191.2,37.5L191.5,35.7L191.8,34.1L192.2,32.8L192.5,31.6L192.8,30.5L193.1,29.6L193.4,28.6L193.8,28.0L194.1,27.7L194.4,26.5L194.7,26.1L195.0,25.8L195.3,25.2L196.1,24.4L196.9,23.2L197.6,22.9L198.4,22.8L199.2,22.0L199.9,21.8L200.7,21.2L201.5,21.4L202.2,21.4L203.0,20.8L203.8,20.7L204.5,20.6L205.3,20.7L206.1,20.1L206.8,19.8L207.6,20.3L208.4,19.7L209.1,19.8L209.9,19.2L210.7,19.5L211.4,19.5L212.2,19.2L213.0,19.2L213.7,19.3L214.5,19.0L215.3,19.1L216.0,19.2L216.8,18.5L217.6,18.8L218.3,18.8L219.1,18.6L219.9,18.9L220.6,18.8L221.4,18.6L222.2,18.5L222.9,18.4L223.7,18.2L224.5,18.4L225.3,18.2L226.0,18.1L226.8,18.3L227.6,18.1L228.3,18.2L229.1,17.9L229.9,17.9L230.6,18.0L231.4,18.2L232.2,17.9L232.9,18.0L233.7,17.7L234.5,17.8L235.2,17.9L236.0,17.6L236.8,17.6L237.5,17.8L238.3,17.5L239.1,17.7L239.8,17.7L240.6,17.6L241.4,17.7L242.1,17.7L242.9,17.6L243.7,17.3L244.4,17.3L245.2,17.6L246.0,17.2L246.7,17.5L247.5,17.4L248.3,17.3L249.0,17.4L249.8,17.0L250.6,17.4L251.3,17.6L252.1,17.2L252.9,17.5L253.6,17.4L254.4,17.9L255.2,17.2L255.9,17.2L256.7,17.2L257.5,17.2L258.2,17.0L259.0,17.3L259.8,17.2L260.5,17.4L261.3,17.4L262.1,17.1L262.8,17.2L263.6,17.5L263.6,17.2L263.9,17.8L264.3,18.4L264.6,18.7L264.9,19.3L265.2,19.9L265.6,20.3L265.9,20.3L266.2,21.3L266.5,21.5L266.9,21.9L267.2,22.4L267.5,23.1L267.8,23.4L268.2,23.8L268.5,24.1L268.8,24.8L269.1,25.3L269.5,25.4L269.8,25.8L270.1,26.4L270.4,26.9L270.8,27.2L271.1,27.7L271.4,28.0L271.7,28.7L272.1,28.9L272.4,29.4L272.7,29.9L273.0,30.1L273.4,30.5L273.7,31.0L274.0,31.3L274.3,31.9L274.7,32.1L275.0,32.4L275.3,32.8L275.6,33.1L276.0,33.8L276.3,34.2L276.7,34.4L277.6,35.4L278.5,36.1L279.4,37.3L280.3,38.6L281.3,39.2L282.2,40.4L283.1,41.5L284.0,41.7L284.9,42.9L285.8,43.7L286.7,44.6L287.7,45.2L288.6,46.3L289.5,46.9L290.4,48.1L291.3,48.9L292.2,49.2L293.1,49.9L294.1,50.8L295.0,51.5L295.9,52.2L296.8,53.1L297.7,53.4L298.6,54.2L299.6,54.8L300.5,55.5L301.4,56.0L302.3,56.7L303.2,57.2L304.1,58.1L305.0,58.4L306.0,58.7L306.9,59.7L307.8,60.1L308.7,60.5L309.6,61.0L310.5,61.6L311.4,62.4L312.4,62.6L313.3,63.3L314.2,63.7L315.1,64.0L316.0,64.5L316.9,64.8L317.8,64.9L318.8,65.7L319.7,66.1L320.6,66.8L321.5,67.1L322.4,67.6L323.3,67.9L324.2,68.3L325.2,68.6L326.1,68.9L327.0,69.4L327.9,69.8L328.8,70.2L329.7,70.2L330.7,70.6L331.6,70.7L332.5,71.1L333.4,71.6L334.3,71.7L335.2,72.4L336.1,72.1L337.1,72.5L338.0,73.0L338.9,73.4L339.8,73.5" fill="none" stroke="#c3b3e2" stroke-width="0.85" stroke-linejoin="round" stroke-linecap="round"/>
<path d="M187.4,87.0L187.7,76.4L188.0,67.0L188.4,59.3L188.7,52.8L189.0,47.0L189.3,42.6L189.6,38.3L189.9,35.0L190.3,32.1L190.6,29.4L190.9,27.5L191.2,25.2L191.5,24.1L191.8,22.3L192.2,21.7L192.5,20.4L192.8,19.9L193.1,19.2L193.4,18.3L193.8,17.7L194.1,17.5L194.4,16.7L194.7,16.6L195.0,16.2L195.3,15.9L196.1,15.3L196.9,15.2L197.6,14.3L198.4,14.2L199.2,14.1L199.9,14.0L200.7,14.0L201.5,13.7L202.2,13.3L203.0,13.3L203.8,13.3L204.5,13.1L205.3,12.7L206.1,12.9L206.8,12.8L207.6,12.4L208.4,12.5L209.1,12.5L209.9,12.5L210.7,12.6L211.4,12.5L212.2,12.3L213.0,12.2L213.7,12.1L214.5,12.0L215.3,12.0L216.0,11.9L216.8,12.1L217.6,12.2L218.3,11.9L219.1,12.0L219.9,11.9L220.6,11.8L221.4,11.9L222.2,11.9L222.9,11.7L223.7,11.6L224.5,11.7L225.3,11.5L226.0,11.6L226.8,11.7L227.6,11.6L228.3,11.3L229.1,11.6L229.9,11.3L230.6,11.3L231.4,11.3L232.2,11.6L232.9,11.3L233.7,11.4L234.5,11.5L235.2,11.5L236.0,11.3L236.8,11.4L237.5,11.4L238.3,11.3L239.1,11.5L239.8,11.6L240.6,11.3L241.4,11.3L242.1,11.3L242.9,11.5L243.7,11.3L244.4,11.3L245.2,11.3L246.0,11.5L246.7,11.3L247.5,11.4L248.3,11.6L249.0,11.4L249.8,11.3L250.6,11.4L251.3,11.4L252.1,11.3L252.9,11.3L253.6,11.3L254.4,11.4L255.2,11.3L255.9,11.3L256.7,11.4L257.5,11.4L258.2,11.3L259.0,11.3L259.8,11.5L260.5,11.7L261.3,11.5L262.1,11.5L262.8,11.3L263.6,11.3L263.6,11.5L263.9,12.1L264.3,12.5L264.6,13.1L264.9,13.5L265.2,14.1L265.6,14.1L265.9,14.9L266.2,15.6L266.5,16.2L266.9,16.6L267.2,17.3L267.5,17.6L267.8,18.1L268.2,18.3L268.5,19.0L268.8,19.5L269.1,20.1L269.5,20.5L269.8,20.8L270.1,21.3L270.4,21.5L270.8,22.2L271.1,22.4L271.4,23.0L271.7,23.5L272.1,24.2L272.4,24.5L272.7,24.6L273.0,25.0L273.4,25.6L273.7,25.9L274.0,26.5L274.3,26.9L274.7,27.4L275.0,27.6L275.3,28.1L275.6,28.6L276.0,29.0L276.3,29.2L276.7,29.7L277.6,31.0L278.5,31.7L279.4,33.0L280.3,34.1L281.3,34.9L282.2,35.9L283.1,37.1L284.0,38.0L284.9,39.2L285.8,40.0L286.7,41.2L287.7,41.5L288.6,42.9L289.5,43.3L290.4,44.4L291.3,45.3L292.2,45.9L293.1,46.7L294.1,47.4L295.0,48.0L295.9,48.9L296.8,49.6L297.7,50.5L298.6,51.0L299.6,51.8L300.5,52.6L301.4,53.2L302.3,53.8L303.2,54.4L304.1,55.0L305.0,55.8L306.0,56.4L306.9,56.8L307.8,57.8L308.7,58.2L309.6,58.4L310.5,59.6L311.4,59.8L312.4,60.1L313.3,61.0L314.2,60.8L315.1,62.2L316.0,62.0L316.9,62.5L317.8,63.0L318.8,63.7L319.7,64.0L320.6,64.7L321.5,64.8L322.4,65.6L323.3,65.8L324.2,66.1L325.2,66.8L326.1,67.1L327.0,67.4L327.9,68.0L328.8,68.0L329.7,68.5L330.7,69.1L331.6,69.2L332.5,69.7L333.4,70.0L334.3,70.2L335.2,70.7L336.1,70.7L337.1,71.3L338.0,71.3L338.9,71.8L339.8,71.9" fill="none" stroke="#2aa3bf" stroke-width="0.85" stroke-linejoin="round" stroke-linecap="round"/>
<line x1="263.60" y1="11.00" x2="263.60" y2="87.00" stroke="#f4a2a2" stroke-width="1.0"/>
<text x="187.40" y="94.89" font-size="5.8" fill="#111" text-anchor="middle" stroke="#111" stroke-width="0.05">0</text>
<text x="212.80" y="94.89" font-size="5.8" fill="#111" text-anchor="middle" stroke="#111" stroke-width="0.05">200</text>
<text x="238.20" y="94.89" font-size="5.8" fill="#111" text-anchor="middle" stroke="#111" stroke-width="0.05">400</text>
<text x="263.60" y="94.89" font-size="5.8" fill="#111" text-anchor="middle" stroke="#111" stroke-width="0.05">600</text>
<text x="289.00" y="94.89" font-size="5.8" fill="#111" text-anchor="middle" stroke="#111" stroke-width="0.05">800</text>
<text x="314.40" y="94.89" font-size="5.8" fill="#111" text-anchor="middle" stroke="#111" stroke-width="0.05">1000</text>
<text x="184.09" y="87.00" font-size="5.8" fill="#111" text-anchor="middle" stroke="#111" stroke-width="0.05" transform="rotate(-90 184.09 87.00)">0</text>
<text x="184.09" y="54.50" font-size="5.8" fill="#111" text-anchor="middle" stroke="#111" stroke-width="0.05" transform="rotate(-90 184.09 54.50)">0.4</text>
<text x="184.09" y="22.00" font-size="5.8" fill="#111" text-anchor="middle" stroke="#111" stroke-width="0.05" transform="rotate(-90 184.09 22.00)">0.8</text>
<text x="177.75" y="46.70" font-size="6.8" fill="#111" text-anchor="middle" stroke="#111" stroke-width="0.08" transform="rotate(-90 177.75 46.70)">nm</text>
<text x="261.50" y="99.39" font-size="5.8" fill="#111" text-anchor="middle" stroke="#111" stroke-width="0.05">Time(sec)</text>
<text x="263.90" y="8.15" font-size="6.8" fill="#000" text-anchor="middle">mCherry binding to LaM3</text>
<line x1="198.80" y1="104.70" x2="201.20" y2="104.70" stroke="#2aa3bf" stroke-width="1.4"/>
<text x="201.30" y="106.86" font-size="6.0" fill="#111" stroke="#111" stroke-width="0.1">500</text>
<line x1="215.40" y1="104.70" x2="217.80" y2="104.70" stroke="#c3b3e2" stroke-width="1.4"/>
<text x="217.90" y="106.86" font-size="6.0" fill="#111" stroke="#111" stroke-width="0.1">250</text>
<line x1="232.00" y1="104.70" x2="234.40" y2="104.70" stroke="#f5b25c" stroke-width="1.4"/>
<text x="234.50" y="106.86" font-size="6.0" fill="#111" stroke="#111" stroke-width="0.1">125</text>
<line x1="247.60" y1="104.70" x2="250.00" y2="104.70" stroke="#84c877" stroke-width="1.4"/>
<text x="250.10" y="106.86" font-size="6.0" fill="#111" stroke="#111" stroke-width="0.1">62.5</text>
<line x1="265.60" y1="104.70" x2="268.00" y2="104.70" stroke="#45bbd3" stroke-width="1.4"/>
<text x="268.10" y="106.86" font-size="6.0" fill="#111" stroke="#111" stroke-width="0.1">31.3</text>
<line x1="283.00" y1="104.70" x2="285.40" y2="104.70" stroke="#e8604f" stroke-width="1.4"/>
<text x="285.50" y="106.86" font-size="6.0" fill="#111" stroke="#111" stroke-width="0.1">15.6</text>
<line x1="299.40" y1="104.70" x2="301.80" y2="104.70" stroke="#3a6db8" stroke-width="1.4"/>
<text x="301.90" y="106.86" font-size="6.0" fill="#111" stroke="#111" stroke-width="0.1">7.81</text>
<line x1="43.00" y1="120.30" x2="43.00" y2="196.30" stroke="#e6e6e6" stroke-width="0.5"/>
<line x1="68.50" y1="120.30" x2="68.50" y2="196.30" stroke="#e6e6e6" stroke-width="0.5"/>
<line x1="119.50" y1="120.30" x2="119.50" y2="196.30" stroke="#e6e6e6" stroke-width="0.5"/>
<line x1="145.00" y1="120.30" x2="145.00" y2="196.30" stroke="#e6e6e6" stroke-width="0.5"/>
<line x1="17.50" y1="165.20" x2="170.50" y2="165.20" stroke="#e6e6e6" stroke-width="0.5"/>
<line x1="17.50" y1="134.10" x2="170.50" y2="134.10" stroke="#e6e6e6" stroke-width="0.5"/>
<rect x="17.50" y="120.30" width="153.00" height="76.00" fill="none" stroke="#d6d6d6" stroke-width="0.6"/>
<line x1="17.50" y1="196.30" x2="18.70" y2="196.30" stroke="#555" stroke-width="0.6"/>
<line x1="17.50" y1="188.53" x2="18.70" y2="188.53" stroke="#555" stroke-width="0.6"/>
<line x1="17.50" y1="180.75" x2="18.70" y2="180.75" stroke="#555" stroke-width="0.6"/>
<line x1="17.50" y1="172.98" x2="18.70" y2="172.98" stroke="#555" stroke-width="0.6"/>
<line x1="17.50" y1="165.20" x2="18.70" y2="165.20" stroke="#555" stroke-width="0.6"/>
<line x1="17.50" y1="157.43" x2="18.70" y2="157.43" stroke="#555" stroke-width="0.6"/>
<line x1="17.50" y1="149.65" x2="18.70" y2="149.65" stroke="#555" stroke-width="0.6"/>
<line x1="17.50" y1="141.88" x2="18.70" y2="141.88" stroke="#555" stroke-width="0.6"/>
<line x1="17.50" y1="134.10" x2="18.70" y2="134.10" stroke="#555" stroke-width="0.6"/>
<line x1="17.50" y1="126.33" x2="18.70" y2="126.33" stroke="#555" stroke-width="0.6"/>
<path d="M17.5,196.3L17.8,196.3L18.1,196.3L18.5,196.2L18.8,196.1L19.1,195.9L19.4,196.0L19.7,196.1L20.1,196.2L20.4,196.1L20.7,196.1L21.0,195.9L21.3,196.0L21.6,196.2L22.0,196.2L22.3,195.9L22.6,196.0L22.9,196.1L23.2,195.8L23.6,196.1L23.9,196.0L24.2,196.1L24.5,196.3L24.8,195.8L25.1,196.1L25.5,196.0L26.2,196.0L27.0,195.8L27.8,195.9L28.5,195.8L29.3,196.1L30.1,195.8L30.9,196.0L31.6,195.7L32.4,195.7L33.2,195.7L33.9,195.4L34.7,195.6L35.5,195.6L36.2,195.6L37.0,195.7L37.8,195.5L38.6,195.5L39.3,195.8L40.1,195.4L40.9,195.5L41.6,195.4L42.4,195.5L43.2,195.7L43.9,195.7L44.7,195.2L45.5,195.5L46.3,195.7L47.0,195.4L47.8,195.5L48.6,195.8L49.3,195.8L50.1,195.7L50.9,195.4L51.6,195.5L52.4,195.5L53.2,195.4L54.0,195.3L54.7,195.7L55.5,195.4L56.3,195.5L57.0,195.6L57.8,195.5L58.6,195.4L59.3,195.4L60.1,195.6L60.9,195.4L61.7,195.0L62.4,195.5L63.2,195.6L64.0,195.3L64.7,195.2L65.5,195.2L66.3,195.5L67.0,195.1L67.8,195.4L68.6,195.5L69.4,195.4L70.1,195.3L70.9,195.1L71.7,195.1L72.4,195.2L73.2,195.1L74.0,195.2L74.7,195.1L75.5,195.4L76.3,195.5L77.1,195.1L77.8,195.4L78.6,195.2L79.4,195.2L80.1,195.2L80.9,195.2L81.7,194.9L82.4,195.5L83.2,195.0L84.0,194.8L84.8,195.1L85.5,195.1L86.3,195.0L87.1,194.8L87.8,195.3L88.6,195.1L89.4,195.1L90.1,195.0L90.9,195.1L91.7,195.0L92.5,195.1L93.2,195.1L94.0,195.2L94.0,195.2L94.3,195.2L94.7,195.2L95.0,195.3L95.3,194.9L95.6,195.2L96.0,195.3L96.3,195.0L96.6,195.3L96.9,195.1L97.3,195.1L97.6,195.1L97.9,195.1L98.2,195.2L98.6,195.1L98.9,194.8L99.2,195.5L99.6,195.1L99.9,195.1L100.2,195.3L100.5,195.3L100.9,194.8L101.2,195.2L101.5,194.8L101.8,195.1L102.2,195.1L102.5,195.1L102.8,195.0L103.2,195.0L103.5,195.1L103.8,195.1L104.1,195.1L104.5,194.9L104.8,195.0L105.1,195.3L105.4,195.2L105.8,195.1L106.1,195.2L106.4,195.2L106.8,195.3L107.1,195.2L108.1,195.1L109.0,195.0L109.9,195.1L110.8,194.8L111.7,195.1L112.6,194.6L113.6,195.0L114.5,195.1L115.4,195.2L116.3,195.6L117.2,195.2L118.2,195.1L119.1,194.8L120.0,195.3L120.9,194.8L121.8,195.2L122.7,195.0L123.7,195.5L124.6,195.1L125.5,195.2L126.4,195.0L127.3,195.1L128.3,195.3L129.2,195.0L130.1,195.0L131.0,195.0L131.9,195.0L132.8,195.0L133.8,195.1L134.7,195.3L135.6,195.3L136.5,194.9L137.4,195.0L138.4,195.1L139.3,195.2L140.2,195.1L141.1,195.1L142.0,195.2L142.9,195.2L143.9,194.8L144.8,195.1L145.7,195.2L146.6,195.3L147.5,195.2L148.5,195.0L149.4,195.0L150.3,195.2L151.2,195.1L152.1,195.2L153.1,195.3L154.0,194.9L154.9,195.1L155.8,194.7L156.7,195.3L157.6,195.2L158.6,195.0L159.5,195.2L160.4,195.3L161.3,195.3L162.2,195.1L163.2,195.1L164.1,195.1L165.0,195.0L165.9,195.0L166.8,195.1L167.7,195.1L168.7,195.2L169.6,195.0L170.5,195.0" fill="none" stroke="#3a6db8" stroke-width="0.85" stroke-linejoin="round" stroke-linecap="round"/>
<path d="M17.5,196.3L17.8,196.2L18.1,196.3L18.5,196.3L18.8,196.3L19.1,196.0L19.4,196.0L19.7,195.8L20.1,196.0L20.4,195.9L20.7,195.8L21.0,195.8L21.3,196.0L21.6,195.9L22.0,195.9L22.3,196.0L22.6,195.7L22.9,195.6L23.2,195.8L23.6,195.4L23.9,195.8L24.2,195.7L24.5,195.7L24.8,195.8L25.1,195.6L25.5,195.6L26.2,195.3L27.0,195.4L27.8,195.4L28.5,195.5L29.3,195.6L30.1,195.4L30.9,195.4L31.6,195.1L32.4,195.2L33.2,194.9L33.9,195.0L34.7,195.0L35.5,195.1L36.2,195.0L37.0,194.9L37.8,194.9L38.6,195.1L39.3,194.9L40.1,194.5L40.9,194.9L41.6,194.9L42.4,195.0L43.2,195.0L43.9,194.6L44.7,194.8L45.5,194.7L46.3,194.4L47.0,194.3L47.8,194.8L48.6,194.5L49.3,194.6L50.1,194.6L50.9,194.5L51.6,194.6L52.4,194.3L53.2,194.5L54.0,194.5L54.7,194.3L55.5,194.4L56.3,194.4L57.0,194.4L57.8,194.2L58.6,194.3L59.3,194.4L60.1,194.5L60.9,194.4L61.7,194.5L62.4,194.3L63.2,194.3L64.0,194.6L64.7,194.3L65.5,194.2L66.3,194.2L67.0,194.4L67.8,194.0L68.6,194.3L69.4,194.4L70.1,194.4L70.9,194.2L71.7,194.0L72.4,194.0L73.2,194.1L74.0,194.3L74.7,194.2L75.5,194.2L76.3,194.1L77.1,194.3L77.8,194.0L78.6,193.9L79.4,194.0L80.1,193.9L80.9,194.1L81.7,194.2L82.4,194.1L83.2,193.8L84.0,193.8L84.8,194.0L85.5,193.7L86.3,193.9L87.1,193.6L87.8,193.8L88.6,193.9L89.4,193.7L90.1,193.9L90.9,193.9L91.7,194.0L92.5,193.7L93.2,193.8L94.0,193.7L94.0,193.8L94.3,193.5L94.7,193.8L95.0,193.8L95.3,193.5L95.6,193.5L96.0,193.7L96.3,194.0L96.6,193.8L96.9,193.6L97.3,193.7L97.6,193.5L97.9,193.9L98.2,193.6L98.6,193.8L98.9,193.5L99.2,193.7L99.6,193.6L99.9,193.8L100.2,194.0L100.5,193.9L100.9,193.8L101.2,193.9L101.5,193.5L101.8,193.5L102.2,193.7L102.5,193.9L102.8,193.8L103.2,193.8L103.5,193.5L103.8,193.7L104.1,193.7L104.5,193.8L104.8,194.0L105.1,193.9L105.4,193.9L105.8,193.7L106.1,193.7L106.4,193.9L106.8,193.8L107.1,193.5L108.1,193.9L109.0,193.9L109.9,193.8L110.8,193.8L111.7,193.8L112.6,193.7L113.6,193.5L114.5,194.0L115.4,193.7L116.3,193.7L117.2,193.7L118.2,193.8L119.1,193.8L120.0,193.6L120.9,193.8L121.8,193.8L122.7,193.7L123.7,193.7L124.6,193.8L125.5,193.6L126.4,193.7L127.3,193.7L128.3,193.7L129.2,193.9L130.1,193.9L131.0,193.9L131.9,193.7L132.8,193.8L133.8,193.9L134.7,193.7L135.6,193.7L136.5,194.0L137.4,193.5L138.4,193.7L139.3,193.8L140.2,193.6L141.1,193.7L142.0,193.8L142.9,193.4L143.9,193.9L144.8,193.7L145.7,193.6L146.6,193.9L147.5,193.8L148.5,193.7L149.4,193.4L150.3,193.9L151.2,193.7L152.1,193.6L153.1,193.7L154.0,193.9L154.9,193.7L155.8,193.7L156.7,193.7L157.6,193.6L158.6,193.6L159.5,193.7L160.4,193.7L161.3,193.9L162.2,193.8L163.2,193.7L164.1,193.8L165.0,193.7L165.9,193.9L166.8,193.5L167.7,193.4L168.7,193.8L169.6,193.7L170.5,193.8" fill="none" stroke="#e8604f" stroke-width="0.85" stroke-linejoin="round" stroke-linecap="round"/>
<path d="M17.5,196.1L17.8,196.2L18.1,196.1L18.5,196.1L18.8,196.0L19.1,196.1L19.4,195.8L19.7,195.9L20.1,195.7L20.4,195.7L20.7,195.5L21.0,195.6L21.3,195.4L21.6,195.6L22.0,195.3L22.3,195.4L22.6,195.3L22.9,195.2L23.2,195.1L23.6,195.5L23.9,195.1L24.2,195.3L24.5,194.8L24.8,195.3L25.1,195.1L25.5,195.1L26.2,194.5L27.0,194.9L27.8,194.5L28.5,194.5L29.3,194.7L30.1,194.3L30.9,194.1L31.6,194.1L32.4,193.9L33.2,194.0L33.9,193.9L34.7,193.9L35.5,193.7L36.2,193.4L37.0,193.6L37.8,193.5L38.6,193.6L39.3,193.6L40.1,193.1L40.9,193.5L41.6,193.4L42.4,193.2L43.2,193.2L43.9,192.8L44.7,193.4L45.5,192.9L46.3,192.8L47.0,193.1L47.8,193.0L48.6,192.7L49.3,192.5L50.1,192.9L50.9,192.9L51.6,192.5L52.4,192.4L53.2,192.6L54.0,192.9L54.7,192.2L55.5,192.5L56.3,192.2L57.0,192.4L57.8,192.4L58.6,192.3L59.3,192.0L60.1,192.0L60.9,192.5L61.7,192.3L62.4,191.8L63.2,192.1L64.0,192.2L64.7,192.0L65.5,191.9L66.3,191.9L67.0,191.9L67.8,191.9L68.6,191.8L69.4,191.7L70.1,191.8L70.9,191.7L71.7,191.7L72.4,191.4L73.2,191.5L74.0,191.5L74.7,191.4L75.5,191.4L76.3,191.3L77.1,191.3L77.8,191.1L78.6,191.1L79.4,191.3L80.1,191.3L80.9,191.1L81.7,191.1L82.4,191.2L83.2,191.3L84.0,191.4L84.8,191.0L85.5,190.9L86.3,190.8L87.1,191.1L87.8,190.7L88.6,191.0L89.4,190.8L90.1,190.7L90.9,190.9L91.7,190.8L92.5,191.0L93.2,190.8L94.0,190.9L94.0,190.6L94.3,190.6L94.7,190.5L95.0,190.6L95.3,190.8L95.6,190.7L96.0,190.8L96.3,190.6L96.6,190.7L96.9,190.9L97.3,190.8L97.6,190.8L97.9,190.8L98.2,190.7L98.6,190.5L98.9,190.9L99.2,190.9L99.6,191.2L99.9,190.8L100.2,190.9L100.5,191.2L100.9,190.8L101.2,190.7L101.5,190.9L101.8,190.9L102.2,191.0L102.5,190.7L102.8,191.1L103.2,190.9L103.5,190.5L103.8,190.8L104.1,190.8L104.5,190.9L104.8,191.0L105.1,190.9L105.4,190.8L105.8,191.0L106.1,190.8L106.4,190.7L106.8,190.7L107.1,191.1L108.1,191.0L109.0,191.1L109.9,190.7L110.8,190.8L111.7,190.7L112.6,191.0L113.6,191.0L114.5,190.8L115.4,190.8L116.3,191.0L117.2,190.8L118.2,190.8L119.1,190.8L120.0,191.0L120.9,191.2L121.8,190.9L122.7,190.8L123.7,190.9L124.6,190.9L125.5,191.0L126.4,190.7L127.3,190.9L128.3,190.8L129.2,191.0L130.1,191.0L131.0,190.8L131.9,191.0L132.8,191.1L133.8,190.9L134.7,190.7L135.6,190.8L136.5,190.6L137.4,190.9L138.4,190.9L139.3,191.1L140.2,190.9L141.1,190.6L142.0,190.8L142.9,190.7L143.9,190.7L144.8,190.9L145.7,190.9L146.6,190.8L147.5,190.8L148.5,190.8L149.4,190.8L150.3,190.8L151.2,191.0L152.1,190.9L153.1,191.0L154.0,190.7L154.9,191.2L155.8,190.9L156.7,190.5L157.6,190.9L158.6,191.0L159.5,190.9L160.4,190.7L161.3,190.9L162.2,190.8L163.2,190.8L164.1,190.9L165.0,190.4L165.9,190.8L166.8,190.9L167.7,190.9L168.7,190.8L169.6,190.8L170.5,190.7" fill="none" stroke="#45bbd3" stroke-width="0.85" stroke-linejoin="round" stroke-linecap="round"/>
<path d="M17.5,196.3L17.8,195.7L18.1,194.7L18.5,194.1L18.8,193.4L19.1,193.0L19.4,192.2L19.7,191.7L20.1,191.1L20.4,190.8L20.7,190.1L21.0,189.7L21.3,189.5L21.6,189.0L22.0,188.7L22.3,188.1L22.6,188.3L22.9,187.6L23.2,187.6L23.6,187.1L23.9,186.7L24.2,186.7L24.5,186.3L24.8,186.3L25.1,185.6L25.5,185.6L26.2,185.2L27.0,185.2L27.8,184.9L28.5,184.3L29.3,184.3L30.1,184.1L30.9,183.8L31.6,183.9L32.4,183.5L33.2,183.5L33.9,183.3L34.7,183.4L35.5,183.2L36.2,183.3L37.0,183.0L37.8,182.9L38.6,182.9L39.3,182.9L40.1,182.9L40.9,183.4L41.6,182.8L42.4,182.9L43.2,182.8L43.9,182.9L44.7,183.0L45.5,182.9L46.3,182.7L47.0,182.5L47.8,182.8L48.6,182.9L49.3,182.5L50.1,182.8L50.9,182.4L51.6,182.7L52.4,182.8L53.2,182.5L54.0,182.4L54.7,182.9L55.5,182.4L56.3,182.7L57.0,182.4L57.8,182.7L58.6,182.8L59.3,182.5L60.1,182.4L60.9,182.2L61.7,182.3L62.4,182.4L63.2,182.6L64.0,182.6L64.7,182.6L65.5,182.6L66.3,182.5L67.0,182.9L67.8,182.4L68.6,182.5L69.4,182.1L70.1,182.3L70.9,182.5L71.7,182.3L72.4,182.6L73.2,182.5L74.0,182.7L74.7,182.2L75.5,182.3L76.3,182.5L77.1,182.4L77.8,182.2L78.6,182.3L79.4,182.3L80.1,182.5L80.9,182.4L81.7,182.3L82.4,182.1L83.2,182.4L84.0,182.4L84.8,182.1L85.5,182.4L86.3,182.1L87.1,182.2L87.8,182.1L88.6,181.9L89.4,182.1L90.1,182.1L90.9,182.3L91.7,182.3L92.5,182.1L93.2,181.9L94.0,181.9L94.0,181.8L94.3,182.6L94.7,183.0L95.0,183.3L95.3,183.8L95.6,184.1L96.0,184.6L96.3,184.5L96.6,185.1L96.9,185.1L97.3,185.6L97.6,185.4L97.9,185.9L98.2,185.8L98.6,186.3L98.9,186.3L99.2,186.1L99.6,186.6L99.9,186.5L100.2,186.7L100.5,187.1L100.9,186.8L101.2,186.8L101.5,187.1L101.8,186.9L102.2,187.2L102.5,187.3L102.8,187.2L103.2,187.3L103.5,186.9L103.8,187.6L104.1,187.2L104.5,187.2L104.8,187.7L105.1,187.7L105.4,187.4L105.8,187.6L106.1,187.5L106.4,187.4L106.8,187.6L107.1,187.7L108.1,188.0L109.0,187.6L109.9,187.8L110.8,187.6L111.7,187.7L112.6,187.9L113.6,187.4L114.5,187.6L115.4,187.6L116.3,187.9L117.2,187.8L118.2,187.8L119.1,187.8L120.0,187.9L120.9,187.7L121.8,187.7L122.7,187.7L123.7,187.8L124.6,187.5L125.5,187.7L126.4,188.2L127.3,187.8L128.3,187.8L129.2,187.6L130.1,187.8L131.0,187.8L131.9,187.9L132.8,187.6L133.8,187.8L134.7,187.8L135.6,187.9L136.5,187.7L137.4,187.8L138.4,188.0L139.3,187.7L140.2,187.9L141.1,187.7L142.0,187.7L142.9,187.6L143.9,187.6L144.8,187.8L145.7,187.8L146.6,187.9L147.5,187.5L148.5,187.7L149.4,187.5L150.3,187.8L151.2,188.1L152.1,187.5L153.1,187.7L154.0,187.7L154.9,187.7L155.8,187.6L156.7,187.7L157.6,188.0L158.6,187.6L159.5,187.8L160.4,187.8L161.3,187.5L162.2,187.6L163.2,187.8L164.1,188.0L165.0,187.7L165.9,187.7L166.8,187.8L167.7,187.9L168.7,187.9L169.6,187.9L170.5,187.7" fill="none" stroke="#84c877" stroke-width="0.85" stroke-linejoin="round" stroke-linecap="round"/>
<path d="M17.5,196.2L17.8,192.0L18.1,188.7L18.5,185.4L18.8,182.6L19.1,180.4L19.4,178.3L19.7,176.1L20.1,174.9L20.4,173.4L20.7,172.4L21.0,171.3L21.3,170.7L21.6,169.7L22.0,168.8L22.3,168.1L22.6,167.7L22.9,167.3L23.2,167.0L23.6,166.8L23.9,166.4L24.2,166.1L24.5,166.0L24.8,165.6L25.1,165.7L25.5,165.7L26.2,165.3L27.0,165.2L27.8,165.0L28.5,164.5L29.3,164.6L30.1,164.5L30.9,164.3L31.6,164.3L32.4,164.5L33.2,164.3L33.9,164.4L34.7,164.4L35.5,164.4L36.2,164.7L37.0,164.6L37.8,164.4L38.6,164.3L39.3,164.5L40.1,164.4L40.9,164.3L41.6,164.2L42.4,164.3L43.2,164.2L43.9,164.5L44.7,164.5L45.5,164.4L46.3,164.5L47.0,164.5L47.8,164.2L48.6,164.5L49.3,164.6L50.1,164.3L50.9,164.1L51.6,164.4L52.4,164.2L53.2,164.5L54.0,164.5L54.7,164.5L55.5,164.4L56.3,164.1L57.0,164.6L57.8,164.2L58.6,164.6L59.3,164.5L60.1,164.3L60.9,164.3L61.7,164.4L62.4,164.7L63.2,164.4L64.0,164.6L64.7,164.0L65.5,164.5L66.3,164.4L67.0,164.6L67.8,164.5L68.6,164.6L69.4,164.3L70.1,164.5L70.9,164.3L71.7,164.5L72.4,164.5L73.2,164.2L74.0,164.6L74.7,164.7L75.5,164.4L76.3,164.6L77.1,164.5L77.8,164.3L78.6,164.5L79.4,164.3L80.1,164.5L80.9,164.2L81.7,164.2L82.4,164.5L83.2,164.5L84.0,164.6L84.8,164.4L85.5,164.2L86.3,164.6L87.1,164.3L87.8,164.6L88.6,164.6L89.4,164.7L90.1,164.1L90.9,164.4L91.7,164.4L92.5,164.5L93.2,164.3L94.0,164.7L94.0,164.4L94.3,166.2L94.7,168.6L95.0,170.3L95.3,171.8L95.6,173.4L96.0,174.6L96.3,175.6L96.6,176.8L96.9,177.7L97.3,178.7L97.6,179.4L97.9,180.1L98.2,180.5L98.6,181.2L98.9,181.9L99.2,182.7L99.6,182.6L99.9,183.0L100.2,183.6L100.5,184.0L100.9,184.2L101.2,184.1L101.5,184.7L101.8,184.8L102.2,184.8L102.5,184.9L102.8,185.2L103.2,185.3L103.5,185.5L103.8,185.3L104.1,185.5L104.5,185.8L104.8,186.0L105.1,186.0L105.4,185.9L105.8,186.1L106.1,185.9L106.4,186.1L106.8,186.1L107.1,186.1L108.1,186.2L109.0,186.5L109.9,186.5L110.8,186.1L111.7,186.7L112.6,186.6L113.6,186.4L114.5,186.6L115.4,186.7L116.3,186.8L117.2,186.5L118.2,186.4L119.1,186.4L120.0,186.6L120.9,186.4L121.8,186.7L122.7,186.6L123.7,186.7L124.6,186.6L125.5,186.5L126.4,186.4L127.3,186.7L128.3,186.4L129.2,186.7L130.1,186.7L131.0,186.6L131.9,186.8L132.8,186.6L133.8,186.5L134.7,186.6L135.6,186.5L136.5,186.6L137.4,186.6L138.4,186.8L139.3,186.6L140.2,186.7L141.1,186.7L142.0,186.6L142.9,186.6L143.9,186.8L144.8,186.8L145.7,186.6L146.6,186.5L147.5,186.5L148.5,186.4L149.4,186.4L150.3,186.5L151.2,186.6L152.1,186.7L153.1,186.7L154.0,186.7L154.9,186.5L155.8,186.5L156.7,186.6L157.6,186.6L158.6,186.5L159.5,186.5L160.4,186.5L161.3,186.5L162.2,186.7L163.2,186.7L164.1,186.5L165.0,186.5L165.9,186.6L166.8,186.6L167.7,186.2L168.7,186.7L169.6,186.6L170.5,186.5" fill="none" stroke="#f5b25c" stroke-width="0.85" stroke-linejoin="round" stroke-linecap="round"/>
<path d="M17.5,196.3L17.8,183.7L18.1,173.7L18.5,166.2L18.8,160.3L19.1,155.7L19.4,152.2L19.7,149.3L20.1,147.2L20.4,145.6L20.7,144.2L21.0,143.0L21.3,142.3L21.6,141.6L22.0,141.6L22.3,140.7L22.6,140.2L22.9,140.1L23.2,140.2L23.6,140.2L23.9,139.9L24.2,140.0L24.5,139.7L24.8,139.8L25.1,139.5L25.5,139.4L26.2,139.9L27.0,139.5L27.8,139.7L28.5,139.8L29.3,139.6L30.1,139.6L30.9,139.4L31.6,139.8L32.4,139.4L33.2,139.2L33.9,139.4L34.7,139.5L35.5,139.5L36.2,139.7L37.0,139.5L37.8,139.5L38.6,139.4L39.3,139.1L40.1,139.4L40.9,139.5L41.6,139.3L42.4,139.8L43.2,139.7L43.9,139.6L44.7,139.6L45.5,139.4L46.3,139.6L47.0,139.3L47.8,139.3L48.6,139.4L49.3,139.6L50.1,139.4L50.9,139.4L51.6,139.7L52.4,139.5L53.2,139.4L54.0,139.5L54.7,139.3L55.5,139.4L56.3,139.7L57.0,139.5L57.8,139.7L58.6,139.5L59.3,139.7L60.1,139.4L60.9,139.5L61.7,139.4L62.4,139.6L63.2,139.8L64.0,139.3L64.7,139.6L65.5,139.3L66.3,139.5L67.0,139.4L67.8,139.3L68.6,139.5L69.4,139.3L70.1,139.8L70.9,139.4L71.7,139.6L72.4,139.6L73.2,139.5L74.0,139.5L74.7,139.3L75.5,139.8L76.3,139.5L77.1,139.7L77.8,139.4L78.6,139.6L79.4,139.5L80.1,139.6L80.9,139.4L81.7,139.4L82.4,139.6L83.2,139.5L84.0,139.8L84.8,139.5L85.5,139.4L86.3,139.6L87.1,139.4L87.8,139.9L88.6,139.8L89.4,139.8L90.1,139.6L90.9,139.5L91.7,139.6L92.5,139.6L93.2,139.4L94.0,139.6L94.0,139.7L94.3,143.8L94.7,146.9L95.0,150.8L95.3,153.4L95.6,155.8L96.0,158.4L96.3,160.8L96.6,162.6L96.9,164.2L97.3,165.8L97.6,167.6L97.9,168.6L98.2,169.8L98.6,170.8L98.9,171.7L99.2,172.8L99.6,173.8L99.9,174.2L100.2,174.6L100.5,175.3L100.9,175.9L101.2,176.1L101.5,177.0L101.8,177.1L102.2,177.7L102.5,177.9L102.8,178.2L103.2,178.2L103.5,178.8L103.8,178.9L104.1,179.3L104.5,179.1L104.8,179.4L105.1,179.4L105.4,179.8L105.8,179.8L106.1,179.7L106.4,179.9L106.8,179.9L107.1,180.0L108.1,180.3L109.0,180.6L109.9,180.3L110.8,180.5L111.7,180.4L112.6,180.9L113.6,180.9L114.5,181.0L115.4,180.8L116.3,180.6L117.2,180.6L118.2,180.7L119.1,180.7L120.0,180.6L120.9,180.8L121.8,180.7L122.7,180.7L123.7,181.1L124.6,180.8L125.5,180.5L126.4,180.8L127.3,180.8L128.3,180.8L129.2,180.8L130.1,180.6L131.0,180.8L131.9,180.9L132.8,181.2L133.8,180.8L134.7,181.1L135.6,181.0L136.5,180.6L137.4,180.6L138.4,181.0L139.3,180.6L140.2,180.7L141.1,180.9L142.0,180.6L142.9,181.0L143.9,180.9L144.8,181.0L145.7,180.9L146.6,180.6L147.5,181.0L148.5,180.9L149.4,180.9L150.3,180.7L151.2,180.8L152.1,180.6L153.1,180.9L154.0,181.0L154.9,180.8L155.8,180.7L156.7,180.9L157.6,180.7L158.6,180.5L159.5,180.8L160.4,180.7L161.3,180.5L162.2,180.9L163.2,180.9L164.1,180.9L165.0,180.7L165.9,180.7L166.8,180.8L167.7,180.7L168.7,180.6L169.6,180.6L170.5,181.0" fill="none" stroke="#c3b3e2" stroke-width="0.85" stroke-linejoin="round" stroke-linecap="round"/>
<path d="M17.5,196.3L17.8,170.7L18.1,153.8L18.5,142.8L18.8,135.5L19.1,130.7L19.4,127.7L19.7,125.3L20.1,124.0L20.4,123.0L20.7,122.6L21.0,122.1L21.3,121.9L21.6,121.8L22.0,121.4L22.3,121.5L22.6,121.3L22.9,121.5L23.2,121.3L23.6,121.6L23.9,121.4L24.2,121.4L24.5,121.2L24.8,121.3L25.1,121.3L25.5,121.1L26.2,121.2L27.0,121.2L27.8,121.2L28.5,121.3L29.3,121.3L30.1,121.2L30.9,121.3L31.6,121.2L32.4,121.1L33.2,121.1L33.9,121.3L34.7,121.5L35.5,121.3L36.2,121.3L37.0,121.1L37.8,121.3L38.6,121.3L39.3,121.2L40.1,121.4L40.9,121.3L41.6,121.0L42.4,121.0L43.2,121.2L43.9,121.2L44.7,121.4L45.5,121.2L46.3,121.3L47.0,121.2L47.8,121.4L48.6,121.3L49.3,121.3L50.1,121.2L50.9,121.1L51.6,121.2L52.4,121.5L53.2,121.4L54.0,121.5L54.7,121.4L55.5,121.2L56.3,121.2L57.0,121.4L57.8,121.2L58.6,121.4L59.3,121.5L60.1,121.5L60.9,121.4L61.7,121.1L62.4,121.5L63.2,121.1L64.0,121.1L64.7,121.3L65.5,121.3L66.3,121.4L67.0,121.3L67.8,121.2L68.6,121.3L69.4,121.1L70.1,121.1L70.9,121.2L71.7,121.2L72.4,121.3L73.2,121.2L74.0,121.5L74.7,121.2L75.5,121.2L76.3,121.4L77.1,120.9L77.8,121.4L78.6,121.4L79.4,121.2L80.1,121.6L80.9,121.4L81.7,121.5L82.4,121.4L83.2,121.3L84.0,121.2L84.8,121.1L85.5,121.2L86.3,121.1L87.1,121.2L87.8,121.4L88.6,121.1L89.4,121.4L90.1,121.4L90.9,121.0L91.7,121.2L92.5,121.2L93.2,121.2L94.0,121.1L94.0,121.5L94.3,127.2L94.7,132.7L95.0,137.4L95.3,141.9L95.6,145.6L96.0,149.3L96.3,152.8L96.6,155.6L96.9,158.5L97.3,160.8L97.6,162.9L97.9,164.9L98.2,167.1L98.6,168.5L98.9,169.8L99.2,171.2L99.6,172.3L99.9,173.8L100.2,174.5L100.5,175.6L100.9,176.3L101.2,177.0L101.5,177.6L101.8,178.4L102.2,178.9L102.5,179.6L102.8,180.1L103.2,180.2L103.5,180.7L103.8,181.2L104.1,181.4L104.5,181.6L104.8,181.6L105.1,181.9L105.4,182.1L105.8,182.7L106.1,182.6L106.4,182.7L106.8,182.9L107.1,183.0L108.1,183.4L109.0,183.3L109.9,183.5L110.8,183.9L111.7,184.1L112.6,183.7L113.6,184.2L114.5,183.9L115.4,183.9L116.3,184.3L117.2,184.2L118.2,184.3L119.1,184.1L120.0,184.2L120.9,183.9L121.8,184.2L122.7,184.2L123.7,184.1L124.6,184.3L125.5,184.3L126.4,183.9L127.3,184.4L128.3,184.3L129.2,184.2L130.1,184.4L131.0,184.6L131.9,184.1L132.8,184.4L133.8,184.3L134.7,184.3L135.6,184.4L136.5,184.4L137.4,184.2L138.4,183.9L139.3,184.1L140.2,184.1L141.1,184.5L142.0,184.3L142.9,184.4L143.9,184.1L144.8,184.3L145.7,184.3L146.6,184.3L147.5,184.3L148.5,184.5L149.4,184.2L150.3,184.5L151.2,184.4L152.1,184.3L153.1,184.4L154.0,184.2L154.9,184.1L155.8,184.2L156.7,184.2L157.6,184.3L158.6,184.1L159.5,184.5L160.4,184.2L161.3,184.4L162.2,184.4L163.2,184.3L164.1,184.3L165.0,184.2L165.9,184.1L166.8,184.6L167.7,184.3L168.7,184.0L169.6,184.1L170.5,184.0" fill="none" stroke="#2aa3bf" stroke-width="0.85" stroke-linejoin="round" stroke-linecap="round"/>
<line x1="94.00" y1="120.30" x2="94.00" y2="196.30" stroke="#f4a2a2" stroke-width="1.0"/>
<text x="17.50" y="204.19" font-size="5.8" fill="#111" text-anchor="middle" stroke="#111" stroke-width="0.05">0</text>
<text x="43.00" y="204.19" font-size="5.8" fill="#111" text-anchor="middle" stroke="#111" stroke-width="0.05">200</text>
<text x="68.50" y="204.19" font-size="5.8" fill="#111" text-anchor="middle" stroke="#111" stroke-width="0.05">400</text>
<text x="94.00" y="204.19" font-size="5.8" fill="#111" text-anchor="middle" stroke="#111" stroke-width="0.05">600</text>
<text x="119.50" y="204.19" font-size="5.8" fill="#111" text-anchor="middle" stroke="#111" stroke-width="0.05">800</text>
<text x="145.00" y="204.19" font-size="5.8" fill="#111" text-anchor="middle" stroke="#111" stroke-width="0.05">1000</text>
<text x="15.19" y="196.30" font-size="5.8" fill="#111" text-anchor="middle" stroke="#111" stroke-width="0.05" transform="rotate(-90 15.19 196.30)">0</text>
<text x="15.19" y="165.20" font-size="5.8" fill="#111" text-anchor="middle" stroke="#111" stroke-width="0.05" transform="rotate(-90 15.19 165.20)">0.4</text>
<text x="15.19" y="134.10" font-size="5.8" fill="#111" text-anchor="middle" stroke="#111" stroke-width="0.05" transform="rotate(-90 15.19 134.10)">0.8</text>
<text x="7.95" y="156.20" font-size="6.8" fill="#111" text-anchor="middle" stroke="#111" stroke-width="0.08" transform="rotate(-90 7.95 156.20)">nm</text>
<text x="91.50" y="208.39" font-size="5.8" fill="#111" text-anchor="middle" stroke="#111" stroke-width="0.05">Time(sec)</text>
<text x="93.90" y="115.65" font-size="6.8" fill="#000" text-anchor="middle">mCherry binding to LaM8</text>
<line x1="29.60" y1="213.60" x2="32.00" y2="213.60" stroke="#2aa3bf" stroke-width="1.4"/>
<text x="32.10" y="215.76" font-size="6.0" fill="#111" stroke="#111" stroke-width="0.1">500</text>
<line x1="45.80" y1="213.60" x2="48.20" y2="213.60" stroke="#c3b3e2" stroke-width="1.4"/>
<text x="48.30" y="215.76" font-size="6.0" fill="#111" stroke="#111" stroke-width="0.1">250</text>
<line x1="62.20" y1="213.60" x2="64.60" y2="213.60" stroke="#f5b25c" stroke-width="1.4"/>
<text x="64.70" y="215.76" font-size="6.0" fill="#111" stroke="#111" stroke-width="0.1">125</text>
<line x1="78.00" y1="213.60" x2="80.40" y2="213.60" stroke="#84c877" stroke-width="1.4"/>
<text x="80.50" y="215.76" font-size="6.0" fill="#111" stroke="#111" stroke-width="0.1">62.5</text>
<line x1="96.40" y1="213.60" x2="98.80" y2="213.60" stroke="#45bbd3" stroke-width="1.4"/>
<text x="98.90" y="215.76" font-size="6.0" fill="#111" stroke="#111" stroke-width="0.1">31.3</text>
<line x1="113.00" y1="213.60" x2="115.40" y2="213.60" stroke="#e8604f" stroke-width="1.4"/>
<text x="115.50" y="215.76" font-size="6.0" fill="#111" stroke="#111" stroke-width="0.1">15.6</text>
<line x1="129.80" y1="213.60" x2="132.20" y2="213.60" stroke="#3a6db8" stroke-width="1.4"/>
<text x="132.30" y="215.76" font-size="6.0" fill="#111" stroke="#111" stroke-width="0.1">7.81</text>
<line x1="212.63" y1="121.00" x2="212.63" y2="193.30" stroke="#e6e6e6" stroke-width="0.5"/>
<line x1="238.07" y1="121.00" x2="238.07" y2="193.30" stroke="#e6e6e6" stroke-width="0.5"/>
<line x1="288.93" y1="121.00" x2="288.93" y2="193.30" stroke="#e6e6e6" stroke-width="0.5"/>
<line x1="314.37" y1="121.00" x2="314.37" y2="193.30" stroke="#e6e6e6" stroke-width="0.5"/>
<line x1="187.20" y1="160.30" x2="339.80" y2="160.30" stroke="#e6e6e6" stroke-width="0.5"/>
<line x1="187.20" y1="127.30" x2="339.80" y2="127.30" stroke="#e6e6e6" stroke-width="0.5"/>
<rect x="187.20" y="121.00" width="152.60" height="72.30" fill="none" stroke="#d6d6d6" stroke-width="0.6"/>
<line x1="187.20" y1="193.30" x2="188.40" y2="193.30" stroke="#555" stroke-width="0.6"/>
<line x1="187.20" y1="185.05" x2="188.40" y2="185.05" stroke="#555" stroke-width="0.6"/>
<line x1="187.20" y1="176.80" x2="188.40" y2="176.80" stroke="#555" stroke-width="0.6"/>
<line x1="187.20" y1="168.55" x2="188.40" y2="168.55" stroke="#555" stroke-width="0.6"/>
<line x1="187.20" y1="160.30" x2="188.40" y2="160.30" stroke="#555" stroke-width="0.6"/>
<line x1="187.20" y1="152.05" x2="188.40" y2="152.05" stroke="#555" stroke-width="0.6"/>
<line x1="187.20" y1="143.80" x2="188.40" y2="143.80" stroke="#555" stroke-width="0.6"/>
<line x1="187.20" y1="135.55" x2="188.40" y2="135.55" stroke="#555" stroke-width="0.6"/>
<line x1="187.20" y1="127.30" x2="188.40" y2="127.30" stroke="#555" stroke-width="0.6"/>
<path d="M187.2,193.3L187.5,193.3L187.8,192.9L188.2,192.3L188.5,192.0L188.8,192.1L189.1,191.7L189.4,191.4L189.7,191.5L190.1,191.0L190.4,190.4L190.7,190.1L191.0,190.3L191.3,189.7L191.7,189.9L192.0,189.7L192.3,189.8L192.6,189.0L192.9,189.1L193.2,188.4L193.6,188.6L193.9,188.4L194.2,188.5L194.5,187.8L194.8,187.9L195.1,187.7L195.9,187.7L196.7,186.7L197.5,186.3L198.2,186.2L199.0,185.7L199.8,185.3L200.5,184.9L201.3,184.7L202.1,184.1L202.8,184.1L203.6,183.9L204.4,183.5L205.1,183.6L205.9,183.0L206.7,182.4L207.4,182.2L208.2,182.1L209.0,181.7L209.7,181.8L210.5,181.2L211.3,180.8L212.0,180.5L212.8,180.5L213.6,179.9L214.3,179.5L215.1,179.7L215.9,179.2L216.7,179.3L217.4,179.1L218.2,178.5L219.0,178.3L219.7,178.0L220.5,177.9L221.3,177.6L222.0,177.2L222.8,176.8L223.6,176.9L224.3,176.9L225.1,176.2L225.9,176.1L226.6,175.8L227.4,175.7L228.2,175.1L228.9,175.2L229.7,174.9L230.5,175.1L231.2,174.7L232.0,174.5L232.8,174.1L233.5,173.9L234.3,173.8L235.1,173.2L235.9,173.4L236.6,173.1L237.4,172.8L238.2,172.8L238.9,172.3L239.7,172.1L240.5,172.0L241.2,171.5L242.0,171.5L242.8,171.3L243.5,171.3L244.3,171.2L245.1,170.8L245.8,170.6L246.6,170.4L247.4,170.0L248.1,170.3L248.9,169.9L249.7,169.8L250.4,169.1L251.2,169.2L252.0,169.0L252.7,168.9L253.5,168.4L254.3,168.4L255.1,168.1L255.8,168.3L256.6,167.6L257.4,167.5L258.1,167.3L258.9,167.0L259.7,167.0L260.4,166.8L261.2,166.5L262.0,166.4L262.7,166.3L263.5,166.1L263.5,166.2L263.8,166.0L264.2,166.1L264.5,166.3L264.8,166.1L265.1,166.7L265.5,166.6L265.8,166.3L266.1,166.7L266.4,167.0L266.8,166.6L267.1,166.8L267.4,167.2L267.7,166.9L268.1,167.3L268.4,167.4L268.7,167.3L269.0,167.4L269.4,167.6L269.7,167.5L270.0,167.7L270.3,167.6L270.7,167.7L271.0,167.6L271.3,167.9L271.7,168.1L272.0,168.1L272.3,168.0L272.6,167.8L273.0,168.0L273.3,168.3L273.6,168.1L273.9,168.5L274.3,168.2L274.6,168.5L274.9,168.4L275.2,168.4L275.6,168.6L275.9,168.6L276.2,168.9L276.6,168.8L277.5,168.8L278.4,168.4L279.3,169.2L280.3,169.4L281.2,169.7L282.1,169.6L283.0,170.2L283.9,170.2L284.8,170.1L285.8,170.5L286.7,170.2L287.6,170.4L288.5,170.8L289.4,170.9L290.3,171.2L291.3,171.3L292.2,171.1L293.1,171.2L294.0,171.4L294.9,171.5L295.8,171.8L296.7,171.7L297.7,172.2L298.6,172.0L299.5,171.9L300.4,172.0L301.3,172.4L302.2,172.5L303.2,172.3L304.1,172.3L305.0,173.0L305.9,172.9L306.8,172.9L307.7,172.8L308.7,173.2L309.6,173.1L310.5,173.3L311.4,173.0L312.3,173.4L313.2,173.5L314.2,173.7L315.1,173.5L316.0,173.6L316.9,174.0L317.8,173.9L318.7,174.2L319.6,174.2L320.6,174.3L321.5,174.4L322.4,174.4L323.3,174.5L324.2,174.3L325.1,174.3L326.1,174.6L327.0,174.8L327.9,174.5L328.8,175.0L329.7,175.1L330.6,174.7L331.6,174.8L332.5,174.8L333.4,175.0L334.3,175.2L335.2,175.2L336.1,175.0L337.1,175.3L338.0,175.4L338.9,175.5L339.8,175.5" fill="none" stroke="#c3b3e2" stroke-width="0.85" stroke-linejoin="round" stroke-linecap="round"/>
<path d="M187.2,193.2L187.5,192.9L187.8,192.9L188.2,192.6L188.5,192.3L188.8,191.8L189.1,191.8L189.4,191.4L189.7,191.5L190.1,191.1L190.4,190.6L190.7,190.3L191.0,190.4L191.3,190.1L191.7,189.6L192.0,189.6L192.3,189.4L192.6,189.0L192.9,188.9L193.2,188.5L193.6,188.4L193.9,188.4L194.2,188.2L194.5,188.0L194.8,188.0L195.1,187.8L195.9,187.0L196.7,187.0L197.5,186.2L198.2,185.9L199.0,185.6L199.8,185.2L200.5,184.8L201.3,184.3L202.1,184.3L202.8,183.9L203.6,183.6L204.4,182.9L205.1,182.8L205.9,182.8L206.7,182.4L207.4,182.1L208.2,181.7L209.0,181.4L209.7,180.8L210.5,181.2L211.3,180.4L212.0,180.2L212.8,180.2L213.6,179.8L214.3,179.6L215.1,179.2L215.9,178.8L216.7,179.0L217.4,178.2L218.2,178.3L219.0,177.7L219.7,177.6L220.5,177.2L221.3,177.1L222.0,176.8L222.8,176.7L223.6,176.6L224.3,176.1L225.1,175.8L225.9,175.4L226.6,175.8L227.4,175.3L228.2,174.8L228.9,175.0L229.7,174.6L230.5,173.9L231.2,173.8L232.0,174.0L232.8,173.4L233.5,173.2L234.3,173.0L235.1,172.9L235.9,172.6L236.6,172.6L237.4,172.3L238.2,171.9L238.9,171.8L239.7,171.3L240.5,171.4L241.2,171.5L242.0,171.0L242.8,170.7L243.5,170.4L244.3,170.3L245.1,170.2L245.8,169.6L246.6,169.8L247.4,169.3L248.1,169.3L248.9,169.2L249.7,168.6L250.4,169.0L251.2,168.5L252.0,168.1L252.7,168.1L253.5,167.7L254.3,167.6L255.1,167.5L255.8,166.8L256.6,167.0L257.4,166.8L258.1,166.8L258.9,166.5L259.7,166.1L260.4,165.9L261.2,165.8L262.0,165.8L262.7,165.3L263.5,165.5L263.5,165.3L263.8,165.4L264.2,165.5L264.5,165.5L264.8,165.7L265.1,165.8L265.5,165.4L265.8,165.7L266.1,165.7L266.4,165.9L266.8,165.9L267.1,166.0L267.4,166.0L267.7,165.8L268.1,166.3L268.4,166.3L268.7,166.5L269.0,167.1L269.4,166.8L269.7,166.7L270.0,166.6L270.3,166.9L270.7,166.7L271.0,166.7L271.3,167.1L271.7,166.8L272.0,166.8L272.3,167.1L272.6,167.4L273.0,167.1L273.3,167.4L273.6,167.5L273.9,167.5L274.3,167.7L274.6,167.5L274.9,167.6L275.2,167.6L275.6,167.7L275.9,168.0L276.2,168.0L276.6,167.9L277.5,168.3L278.4,167.9L279.3,168.6L280.3,168.8L281.2,168.7L282.1,168.9L283.0,169.2L283.9,169.3L284.8,169.4L285.8,169.5L286.7,169.6L287.6,169.9L288.5,169.9L289.4,170.0L290.3,170.2L291.3,170.9L292.2,170.7L293.1,170.8L294.0,170.8L294.9,170.9L295.8,170.9L296.7,171.0L297.7,171.3L298.6,171.4L299.5,171.2L300.4,171.7L301.3,171.6L302.2,171.5L303.2,171.8L304.1,172.3L305.0,172.0L305.9,172.3L306.8,172.3L307.7,172.2L308.7,172.4L309.6,172.6L310.5,172.5L311.4,172.7L312.3,172.8L313.2,172.9L314.2,172.9L315.1,173.1L316.0,173.2L316.9,173.2L317.8,173.5L318.7,173.6L319.6,173.2L320.6,173.6L321.5,173.6L322.4,173.7L323.3,173.7L324.2,173.8L325.1,173.9L326.1,174.1L327.0,173.8L327.9,174.2L328.8,174.0L329.7,174.5L330.6,174.4L331.6,174.1L332.5,174.4L333.4,174.5L334.3,174.4L335.2,174.7L336.1,174.6L337.1,175.0L338.0,174.8L338.9,174.8L339.8,174.7" fill="none" stroke="#3a6db8" stroke-width="0.85" stroke-linejoin="round" stroke-linecap="round"/>
<path d="M187.2,193.2L187.5,193.1L187.8,192.4L188.2,192.5L188.5,192.5L188.8,192.3L189.1,191.4L189.4,191.4L189.7,191.2L190.1,191.0L190.4,190.8L190.7,190.1L191.0,190.1L191.3,189.6L191.7,189.7L192.0,189.8L192.3,189.1L192.6,189.1L192.9,188.8L193.2,188.3L193.6,188.4L193.9,188.0L194.2,188.0L194.5,187.9L194.8,187.5L195.1,187.5L195.9,186.8L196.7,186.4L197.5,186.1L198.2,185.7L199.0,185.3L199.8,185.0L200.5,184.5L201.3,184.3L202.1,183.8L202.8,183.7L203.6,183.2L204.4,182.8L205.1,182.7L205.9,182.3L206.7,182.0L207.4,181.5L208.2,181.4L209.0,180.9L209.7,180.5L210.5,180.4L211.3,180.4L212.0,179.8L212.8,179.4L213.6,179.3L214.3,178.8L215.1,178.6L215.9,178.4L216.7,178.2L217.4,178.0L218.2,177.7L219.0,177.3L219.7,177.0L220.5,176.7L221.3,176.6L222.0,176.3L222.8,176.0L223.6,176.0L224.3,175.6L225.1,175.4L225.9,175.0L226.6,174.8L227.4,174.5L228.2,174.4L228.9,173.9L229.7,173.7L230.5,173.8L231.2,173.3L232.0,173.2L232.8,172.5L233.5,172.6L234.3,172.4L235.1,172.0L235.9,171.9L236.6,171.6L237.4,171.1L238.2,171.1L238.9,170.8L239.7,170.5L240.5,170.6L241.2,169.9L242.0,169.9L242.8,169.6L243.5,169.7L244.3,169.2L245.1,169.0L245.8,168.9L246.6,168.3L247.4,168.3L248.1,168.2L248.9,167.9L249.7,167.6L250.4,167.3L251.2,167.2L252.0,166.9L252.7,166.7L253.5,166.9L254.3,166.5L255.1,166.4L255.8,166.0L256.6,165.6L257.4,165.5L258.1,165.6L258.9,165.3L259.7,164.8L260.4,164.9L261.2,164.6L262.0,164.4L262.7,164.5L263.5,163.9L263.5,164.0L263.8,164.0L264.2,164.3L264.5,164.4L264.8,164.4L265.1,164.4L265.5,164.5L265.8,164.6L266.1,164.4L266.4,164.5L266.8,164.9L267.1,165.0L267.4,164.7L267.7,165.1L268.1,164.9L268.4,164.9L268.7,165.3L269.0,165.4L269.4,165.4L269.7,165.6L270.0,165.7L270.3,165.7L270.7,165.6L271.0,165.8L271.3,165.9L271.7,166.0L272.0,166.2L272.3,165.8L272.6,166.5L273.0,166.3L273.3,166.2L273.6,166.5L273.9,166.3L274.3,166.2L274.6,166.7L274.9,166.6L275.2,166.8L275.6,166.6L275.9,166.8L276.2,166.8L276.6,166.7L277.5,167.0L278.4,167.0L279.3,167.3L280.3,167.8L281.2,167.7L282.1,167.9L283.0,168.3L283.9,168.0L284.8,168.4L285.8,168.5L286.7,168.8L287.6,168.8L288.5,168.9L289.4,169.2L290.3,169.3L291.3,169.7L292.2,169.3L293.1,169.8L294.0,170.2L294.9,170.1L295.8,170.2L296.7,170.1L297.7,170.4L298.6,170.3L299.5,170.7L300.4,170.3L301.3,170.6L302.2,170.5L303.2,171.1L304.1,170.9L305.0,171.3L305.9,171.2L306.8,171.2L307.7,171.7L308.7,171.7L309.6,171.8L310.5,172.0L311.4,172.0L312.3,172.1L313.2,172.2L314.2,172.1L315.1,172.1L316.0,172.5L316.9,172.4L317.8,172.4L318.7,172.5L319.6,172.7L320.6,172.5L321.5,172.6L322.4,172.7L323.3,172.9L324.2,172.6L325.1,172.7L326.1,173.1L327.0,173.2L327.9,173.0L328.8,173.4L329.7,173.3L330.6,173.4L331.6,173.6L332.5,173.6L333.4,173.8L334.3,173.7L335.2,174.0L336.1,173.4L337.1,173.6L338.0,173.7L338.9,173.9L339.8,173.8" fill="none" stroke="#e8604f" stroke-width="0.85" stroke-linejoin="round" stroke-linecap="round"/>
<path d="M187.2,193.1L187.5,192.8L187.8,192.5L188.2,192.4L188.5,191.9L188.8,191.7L189.1,191.5L189.4,191.2L189.7,190.7L190.1,190.3L190.4,190.4L190.7,189.6L191.0,189.4L191.3,189.4L191.7,189.2L192.0,188.9L192.3,188.4L192.6,188.4L192.9,188.3L193.2,187.8L193.6,188.0L193.9,187.4L194.2,187.0L194.5,186.9L194.8,186.6L195.1,186.5L195.9,185.9L196.7,185.5L197.5,185.2L198.2,184.7L199.0,184.2L199.8,183.6L200.5,183.1L201.3,182.9L202.1,182.7L202.8,182.3L203.6,181.8L204.4,181.2L205.1,181.0L205.9,180.7L206.7,180.5L207.4,179.9L208.2,179.6L209.0,179.3L209.7,179.0L210.5,178.4L211.3,178.4L212.0,177.7L212.8,177.5L213.6,177.4L214.3,176.9L215.1,176.8L215.9,176.6L216.7,176.2L217.4,176.0L218.2,175.5L219.0,175.2L219.7,174.9L220.5,174.5L221.3,174.9L222.0,174.0L222.8,174.1L223.6,173.5L224.3,173.4L225.1,172.9L225.9,172.4L226.6,172.7L227.4,172.1L228.2,171.8L228.9,171.9L229.7,171.2L230.5,171.0L231.2,170.8L232.0,170.6L232.8,169.7L233.5,170.0L234.3,170.0L235.1,169.5L235.9,169.2L236.6,168.9L237.4,168.6L238.2,168.5L238.9,168.0L239.7,167.9L240.5,167.8L241.2,167.5L242.0,167.1L242.8,166.7L243.5,166.5L244.3,166.4L245.1,166.1L245.8,165.8L246.6,165.2L247.4,165.4L248.1,165.0L248.9,164.7L249.7,164.8L250.4,164.3L251.2,164.1L252.0,164.0L252.7,163.6L253.5,163.3L254.3,163.0L255.1,163.0L255.8,162.7L256.6,162.1L257.4,162.4L258.1,162.0L258.9,161.7L259.7,161.6L260.4,161.2L261.2,161.1L262.0,160.8L262.7,160.5L263.5,160.5L263.5,160.4L263.8,160.6L264.2,160.7L264.5,160.7L264.8,161.0L265.1,160.8L265.5,160.7L265.8,160.8L266.1,160.9L266.4,161.4L266.8,161.0L267.1,161.5L267.4,161.4L267.7,161.2L268.1,161.8L268.4,161.5L268.7,161.7L269.0,161.8L269.4,162.0L269.7,161.9L270.0,162.1L270.3,161.9L270.7,162.0L271.0,162.5L271.3,162.4L271.7,162.5L272.0,162.7L272.3,162.7L272.6,162.6L273.0,162.7L273.3,163.0L273.6,162.9L273.9,162.8L274.3,163.2L274.6,163.2L274.9,162.8L275.2,162.9L275.6,163.5L275.9,163.5L276.2,163.3L276.6,163.6L277.5,163.7L278.4,163.9L279.3,163.9L280.3,164.6L281.2,164.7L282.1,164.7L283.0,164.5L283.9,164.8L284.8,165.2L285.8,165.0L286.7,165.1L287.6,165.4L288.5,165.6L289.4,165.6L290.3,165.6L291.3,165.9L292.2,166.0L293.1,166.3L294.0,166.4L294.9,166.7L295.8,166.6L296.7,166.8L297.7,166.9L298.6,166.8L299.5,167.0L300.4,167.1L301.3,167.6L302.2,167.4L303.2,167.7L304.1,167.8L305.0,167.9L305.9,167.7L306.8,167.8L307.7,168.2L308.7,168.4L309.6,168.3L310.5,168.4L311.4,168.2L312.3,168.8L313.2,168.9L314.2,168.8L315.1,168.8L316.0,168.9L316.9,168.9L317.8,168.7L318.7,169.2L319.6,169.3L320.6,169.6L321.5,169.3L322.4,169.3L323.3,169.6L324.2,169.4L325.1,169.7L326.1,169.5L327.0,169.8L327.9,170.0L328.8,170.0L329.7,170.3L330.6,170.4L331.6,170.1L332.5,170.0L333.4,169.9L334.3,170.3L335.2,170.4L336.1,170.6L337.1,170.3L338.0,170.5L338.9,170.7L339.8,170.5" fill="none" stroke="#45bbd3" stroke-width="0.85" stroke-linejoin="round" stroke-linecap="round"/>
<path d="M187.2,193.2L187.5,193.2L187.8,192.5L188.2,192.2L188.5,191.9L188.8,191.6L189.1,190.9L189.4,190.6L189.7,190.3L190.1,190.5L190.4,190.1L190.7,189.5L191.0,189.6L191.3,189.2L191.7,189.1L192.0,188.2L192.3,188.1L192.6,187.9L192.9,187.7L193.2,187.6L193.6,187.3L193.9,186.9L194.2,186.9L194.5,186.3L194.8,186.4L195.1,186.2L195.9,185.3L196.7,185.0L197.5,184.4L198.2,184.0L199.0,183.8L199.8,182.9L200.5,182.8L201.3,181.9L202.1,181.9L202.8,181.5L203.6,180.7L204.4,180.3L205.1,179.9L205.9,179.8L206.7,179.0L207.4,179.0L208.2,178.5L209.0,178.1L209.7,177.7L210.5,177.1L211.3,177.0L212.0,176.4L212.8,176.0L213.6,176.1L214.3,175.6L215.1,175.2L215.9,174.8L216.7,174.3L217.4,174.4L218.2,173.6L219.0,173.2L219.7,173.1L220.5,172.9L221.3,172.4L222.0,172.1L222.8,171.6L223.6,171.4L224.3,170.9L225.1,170.8L225.9,170.2L226.6,170.5L227.4,169.9L228.2,169.4L228.9,169.4L229.7,168.7L230.5,168.7L231.2,168.2L232.0,168.1L232.8,167.7L233.5,167.3L234.3,167.0L235.1,166.8L235.9,166.0L236.6,166.1L237.4,166.0L238.2,165.4L238.9,165.1L239.7,164.7L240.5,164.3L241.2,164.5L242.0,163.9L242.8,163.6L243.5,163.5L244.3,163.2L245.1,163.4L245.8,162.7L246.6,162.1L247.4,162.4L248.1,161.9L248.9,161.5L249.7,161.1L250.4,160.7L251.2,161.0L252.0,160.4L252.7,160.0L253.5,160.1L254.3,159.6L255.1,159.0L255.8,158.9L256.6,158.7L257.4,159.0L258.1,158.3L258.9,158.0L259.7,157.8L260.4,157.5L261.2,156.8L262.0,157.0L262.7,156.9L263.5,156.5L263.5,156.6L263.8,156.6L264.2,156.7L264.5,156.6L264.8,156.8L265.1,157.1L265.5,157.0L265.8,156.9L266.1,157.2L266.4,157.0L266.8,157.1L267.1,157.4L267.4,157.3L267.7,157.1L268.1,157.2L268.4,157.6L268.7,157.5L269.0,157.8L269.4,158.0L269.7,157.7L270.0,157.8L270.3,157.9L270.7,158.0L271.0,158.0L271.3,158.2L271.7,158.1L272.0,158.1L272.3,158.3L272.6,158.2L273.0,158.7L273.3,158.6L273.6,158.3L273.9,158.3L274.3,158.6L274.6,158.7L274.9,159.0L275.2,158.8L275.6,158.8L275.9,159.2L276.2,158.9L276.6,159.0L277.5,159.2L278.4,159.6L279.3,159.5L280.3,159.9L281.2,159.6L282.1,160.0L283.0,160.3L283.9,160.0L284.8,160.2L285.8,160.6L286.7,160.3L287.6,161.0L288.5,160.9L289.4,160.8L290.3,161.5L291.3,161.1L292.2,161.4L293.1,161.5L294.0,161.8L294.9,161.7L295.8,162.0L296.7,162.1L297.7,162.1L298.6,162.4L299.5,162.0L300.4,162.6L301.3,162.6L302.2,162.6L303.2,162.7L304.1,162.6L305.0,162.7L305.9,163.0L306.8,163.1L307.7,163.1L308.7,163.1L309.6,163.2L310.5,163.4L311.4,163.8L312.3,163.2L313.2,163.4L314.2,163.6L315.1,163.7L316.0,163.9L316.9,164.1L317.8,164.0L318.7,164.1L319.6,164.2L320.6,164.4L321.5,164.3L322.4,164.2L323.3,164.4L324.2,164.4L325.1,164.8L326.1,164.6L327.0,164.6L327.9,164.9L328.8,165.0L329.7,164.7L330.6,165.0L331.6,164.8L332.5,165.0L333.4,164.9L334.3,165.1L335.2,165.3L336.1,165.2L337.1,165.2L338.0,165.1L338.9,165.4L339.8,165.4" fill="none" stroke="#84c877" stroke-width="0.85" stroke-linejoin="round" stroke-linecap="round"/>
<path d="M187.2,193.2L187.5,192.7L187.8,192.4L188.2,192.0L188.5,191.7L188.8,191.3L189.1,190.9L189.4,190.6L189.7,190.3L190.1,190.0L190.4,189.3L190.7,189.3L191.0,189.1L191.3,188.8L191.7,188.4L192.0,188.0L192.3,188.0L192.6,187.8L192.9,187.2L193.2,187.2L193.6,186.6L193.9,186.3L194.2,185.9L194.5,185.5L194.8,185.5L195.1,185.4L195.9,184.9L196.7,184.2L197.5,183.5L198.2,183.3L199.0,182.3L199.8,181.8L200.5,181.2L201.3,180.8L202.1,180.2L202.8,179.9L203.6,179.3L204.4,179.1L205.1,178.3L205.9,177.6L206.7,177.3L207.4,176.8L208.2,176.6L209.0,175.8L209.7,175.7L210.5,175.0L211.3,174.7L212.0,174.4L212.8,173.7L213.6,173.4L214.3,172.9L215.1,172.5L215.9,172.2L216.7,171.8L217.4,171.3L218.2,171.0L219.0,170.5L219.7,170.2L220.5,170.0L221.3,169.4L222.0,169.0L222.8,168.6L223.6,168.0L224.3,168.1L225.1,167.4L225.9,167.4L226.6,166.8L227.4,166.3L228.2,166.3L228.9,165.8L229.7,165.1L230.5,164.8L231.2,164.4L232.0,164.2L232.8,163.3L233.5,163.3L234.3,163.1L235.1,162.3L235.9,162.1L236.6,162.0L237.4,161.3L238.2,161.2L238.9,160.7L239.7,160.4L240.5,160.3L241.2,159.6L242.0,159.4L242.8,159.3L243.5,158.9L244.3,158.3L245.1,158.2L245.8,157.8L246.6,157.3L247.4,157.1L248.1,157.0L248.9,156.3L249.7,156.0L250.4,155.6L251.2,155.2L252.0,155.1L252.7,154.7L253.5,154.2L254.3,154.2L255.1,153.6L255.8,153.3L256.6,153.1L257.4,152.6L258.1,152.5L258.9,152.5L259.7,151.8L260.4,151.6L261.2,151.3L262.0,151.1L262.7,150.6L263.5,150.4L263.5,150.6L263.8,150.5L264.2,150.5L264.5,150.8L264.8,150.8L265.1,150.9L265.5,151.0L265.8,150.9L266.1,150.9L266.4,150.8L266.8,151.0L267.1,151.1L267.4,151.2L267.7,151.2L268.1,151.5L268.4,151.4L268.7,151.6L269.0,151.7L269.4,151.8L269.7,151.9L270.0,151.9L270.3,152.1L270.7,151.9L271.0,152.1L271.3,152.1L271.7,152.1L272.0,152.1L272.3,152.4L272.6,152.4L273.0,152.7L273.3,152.9L273.6,152.9L273.9,152.4L274.3,153.0L274.6,152.7L274.9,152.6L275.2,152.9L275.6,152.7L275.9,152.7L276.2,152.9L276.6,152.7L277.5,153.2L278.4,153.5L279.3,153.5L280.3,153.8L281.2,154.1L282.1,154.2L283.0,153.8L283.9,154.4L284.8,154.5L285.8,154.7L286.7,154.7L287.6,154.9L288.5,155.0L289.4,155.3L290.3,155.5L291.3,155.5L292.2,155.4L293.1,155.2L294.0,155.5L294.9,155.5L295.8,155.8L296.7,156.0L297.7,156.4L298.6,156.2L299.5,156.7L300.4,156.5L301.3,156.3L302.2,156.6L303.2,156.6L304.1,156.9L305.0,157.2L305.9,157.1L306.8,157.2L307.7,157.0L308.7,157.0L309.6,157.5L310.5,157.5L311.4,157.6L312.3,157.7L313.2,157.9L314.2,157.8L315.1,157.8L316.0,157.9L316.9,158.2L317.8,158.1L318.7,158.4L319.6,158.1L320.6,158.5L321.5,158.4L322.4,158.5L323.3,158.6L324.2,158.7L325.1,158.9L326.1,158.4L327.0,158.7L327.9,158.7L328.8,158.5L329.7,158.9L330.6,158.9L331.6,159.0L332.5,158.9L333.4,159.0L334.3,159.1L335.2,159.3L336.1,159.2L337.1,159.1L338.0,159.7L338.9,159.4L339.8,159.5" fill="none" stroke="#f5b25c" stroke-width="0.85" stroke-linejoin="round" stroke-linecap="round"/>
<path d="M187.2,193.3L187.5,193.1L187.8,192.2L188.2,192.0L188.5,191.5L188.8,191.1L189.1,190.8L189.4,190.2L189.7,190.0L190.1,189.5L190.4,189.0L190.7,188.5L191.0,188.1L191.3,187.8L191.7,187.0L192.0,186.9L192.3,186.8L192.6,186.4L192.9,186.0L193.2,185.6L193.6,185.3L193.9,185.1L194.2,184.3L194.5,184.2L194.8,184.0L195.1,183.6L195.9,182.9L196.7,181.9L197.5,181.3L198.2,180.5L199.0,180.5L199.8,179.3L200.5,178.5L201.3,177.7L202.1,177.4L202.8,177.1L203.6,176.1L204.4,175.7L205.1,175.3L205.9,174.6L206.7,173.7L207.4,173.1L208.2,172.6L209.0,172.4L209.7,171.2L210.5,171.3L211.3,170.6L212.0,170.3L212.8,169.3L213.6,168.9L214.3,168.3L215.1,168.0L215.9,167.5L216.7,166.9L217.4,166.8L218.2,165.8L219.0,165.3L219.7,165.0L220.5,164.5L221.3,163.9L222.0,163.2L222.8,162.9L223.6,162.5L224.3,162.1L225.1,161.8L225.9,161.2L226.6,160.6L227.4,160.2L228.2,159.7L228.9,159.1L229.7,158.7L230.5,158.3L231.2,157.8L232.0,157.4L232.8,157.0L233.5,156.5L234.3,156.4L235.1,155.4L235.9,155.4L236.6,154.6L237.4,154.3L238.2,153.7L238.9,153.5L239.7,153.2L240.5,152.4L241.2,152.2L242.0,151.7L242.8,151.3L243.5,150.8L244.3,150.4L245.1,150.0L245.8,149.9L246.6,149.3L247.4,148.8L248.1,148.1L248.9,148.0L249.7,147.6L250.4,147.0L251.2,146.8L252.0,146.4L252.7,146.0L253.5,145.9L254.3,145.1L255.1,144.8L255.8,144.5L256.6,144.3L257.4,143.6L258.1,143.1L258.9,143.0L259.7,142.7L260.4,142.1L261.2,142.0L262.0,141.8L262.7,141.1L263.5,140.8L263.5,140.7L263.8,140.8L264.2,140.7L264.5,140.9L264.8,141.0L265.1,141.1L265.5,141.0L265.8,141.0L266.1,141.1L266.4,141.2L266.8,141.9L267.1,141.6L267.4,141.6L267.7,141.5L268.1,141.9L268.4,141.5L268.7,141.7L269.0,141.9L269.4,141.9L269.7,142.0L270.0,142.2L270.3,142.0L270.7,142.2L271.0,142.5L271.3,142.4L271.7,142.4L272.0,142.6L272.3,142.3L272.6,142.7L273.0,142.3L273.3,142.5L273.6,142.9L273.9,142.8L274.3,142.7L274.6,142.9L274.9,143.2L275.2,143.0L275.6,142.8L275.9,143.4L276.2,143.1L276.6,143.3L277.5,143.4L278.4,143.6L279.3,143.8L280.3,143.7L281.2,143.9L282.1,144.3L283.0,144.1L283.9,144.7L284.8,144.5L285.8,144.7L286.7,144.7L287.6,144.9L288.5,145.0L289.4,145.3L290.3,145.2L291.3,145.4L292.2,145.3L293.1,145.8L294.0,145.7L294.9,145.9L295.8,146.0L296.7,146.3L297.7,146.2L298.6,146.6L299.5,146.7L300.4,146.5L301.3,147.0L302.2,146.6L303.2,146.9L304.1,146.9L305.0,147.1L305.9,147.1L306.8,147.3L307.7,147.4L308.7,147.5L309.6,147.3L310.5,147.4L311.4,147.5L312.3,147.7L313.2,147.9L314.2,148.2L315.1,147.9L316.0,147.9L316.9,148.2L317.8,148.1L318.7,148.1L319.6,148.3L320.6,148.2L321.5,148.4L322.4,148.8L323.3,148.7L324.2,148.7L325.1,148.7L326.1,148.9L327.0,148.9L327.9,149.1L328.8,149.0L329.7,149.0L330.6,148.9L331.6,149.0L332.5,149.2L333.4,149.2L334.3,149.3L335.2,149.3L336.1,149.2L337.1,149.9L338.0,149.5L338.9,149.5L339.8,149.4" fill="none" stroke="#c3b3e2" stroke-width="0.85" stroke-linejoin="round" stroke-linecap="round"/>
<path d="M187.2,193.3L187.5,192.7L187.8,192.0L188.2,191.7L188.5,191.4L188.8,190.6L189.1,190.2L189.4,189.4L189.7,189.1L190.1,188.2L190.4,188.0L190.7,187.7L191.0,187.1L191.3,186.8L191.7,186.1L192.0,185.4L192.3,185.2L192.6,184.6L192.9,184.5L193.2,183.8L193.6,183.1L193.9,183.3L194.2,182.4L194.5,182.0L194.8,182.1L195.1,181.6L195.9,180.6L196.7,179.3L197.5,178.6L198.2,177.7L199.0,176.6L199.8,175.9L200.5,175.0L201.3,174.2L202.1,173.1L202.8,172.6L203.6,171.4L204.4,171.0L205.1,170.2L205.9,169.2L206.7,168.5L207.4,168.1L208.2,167.0L209.0,166.5L209.7,165.6L210.5,164.6L211.3,164.2L212.0,163.2L212.8,162.6L213.6,161.5L214.3,161.1L215.1,160.6L215.9,159.9L216.7,159.1L217.4,158.3L218.2,157.6L219.0,156.7L219.7,156.2L220.5,155.5L221.3,154.8L222.0,154.2L222.8,153.4L223.6,152.7L224.3,152.0L225.1,151.6L225.9,151.1L226.6,150.3L227.4,149.5L228.2,149.3L228.9,148.3L229.7,147.5L230.5,147.0L231.2,146.4L232.0,145.3L232.8,144.8L233.5,144.4L234.3,143.5L235.1,142.9L235.9,142.6L236.6,141.4L237.4,141.4L238.2,140.6L238.9,140.2L239.7,139.3L240.5,139.0L241.2,138.1L242.0,137.4L242.8,136.9L243.5,136.4L244.3,135.5L245.1,135.3L245.8,134.4L246.6,134.0L247.4,133.3L248.1,132.8L248.9,132.2L249.7,131.6L250.4,131.2L251.2,130.5L252.0,129.8L252.7,129.3L253.5,128.9L254.3,128.3L255.1,127.7L255.8,127.0L256.6,126.4L257.4,125.9L258.1,125.5L258.9,124.8L259.7,124.5L260.4,124.2L261.2,123.2L262.0,122.9L262.7,122.2L263.5,121.7L263.5,121.4L263.8,121.8L264.2,121.6L264.5,121.8L264.8,122.0L265.1,122.2L265.5,121.9L265.8,122.0L266.1,122.0L266.4,121.9L266.8,122.2L267.1,122.3L267.4,122.4L267.7,122.5L268.1,122.6L268.4,122.8L268.7,122.4L269.0,123.1L269.4,122.8L269.7,122.8L270.0,122.9L270.3,123.2L270.7,123.1L271.0,123.2L271.3,123.4L271.7,123.3L272.0,123.4L272.3,123.5L272.6,123.4L273.0,123.7L273.3,123.6L273.6,123.8L273.9,123.7L274.3,123.8L274.6,123.8L274.9,124.1L275.2,124.1L275.6,124.2L275.9,124.1L276.2,124.1L276.6,124.1L277.5,124.5L278.4,124.6L279.3,125.0L280.3,125.3L281.2,125.2L282.1,125.3L283.0,125.6L283.9,125.8L284.8,125.6L285.8,125.9L286.7,126.2L287.6,125.7L288.5,126.2L289.4,126.4L290.3,126.3L291.3,126.7L292.2,126.4L293.1,127.1L294.0,127.2L294.9,127.1L295.8,127.3L296.7,127.1L297.7,127.7L298.6,127.6L299.5,127.6L300.4,127.6L301.3,127.7L302.2,127.9L303.2,127.7L304.1,128.2L305.0,128.2L305.9,128.2L306.8,128.5L307.7,128.6L308.7,128.7L309.6,128.8L310.5,129.0L311.4,128.9L312.3,129.2L313.2,129.0L314.2,129.4L315.1,128.8L316.0,129.0L316.9,129.2L317.8,129.4L318.7,129.6L319.6,129.4L320.6,129.6L321.5,129.6L322.4,129.9L323.3,129.7L324.2,130.0L325.1,130.0L326.1,130.3L327.0,130.2L327.9,130.1L328.8,130.3L329.7,130.3L330.6,130.2L331.6,130.4L332.5,130.2L333.4,130.9L334.3,130.5L335.2,130.5L336.1,130.9L337.1,130.9L338.0,130.6L338.9,131.0L339.8,131.0" fill="none" stroke="#2aa3bf" stroke-width="0.85" stroke-linejoin="round" stroke-linecap="round"/>
<line x1="263.50" y1="121.00" x2="263.50" y2="193.30" stroke="#f4a2a2" stroke-width="1.0"/>
<text x="187.20" y="201.19" font-size="5.8" fill="#111" text-anchor="middle" stroke="#111" stroke-width="0.05">0</text>
<text x="212.63" y="201.19" font-size="5.8" fill="#111" text-anchor="middle" stroke="#111" stroke-width="0.05">200</text>
<text x="238.07" y="201.19" font-size="5.8" fill="#111" text-anchor="middle" stroke="#111" stroke-width="0.05">400</text>
<text x="263.50" y="201.19" font-size="5.8" fill="#111" text-anchor="middle" stroke="#111" stroke-width="0.05">600</text>
<text x="288.93" y="201.19" font-size="5.8" fill="#111" text-anchor="middle" stroke="#111" stroke-width="0.05">800</text>
<text x="314.37" y="201.19" font-size="5.8" fill="#111" text-anchor="middle" stroke="#111" stroke-width="0.05">1000</text>
<text x="184.19" y="193.30" font-size="5.8" fill="#111" text-anchor="middle" stroke="#111" stroke-width="0.05" transform="rotate(-90 184.19 193.30)">0</text>
<text x="184.19" y="160.30" font-size="5.8" fill="#111" text-anchor="middle" stroke="#111" stroke-width="0.05" transform="rotate(-90 184.19 160.30)">0.4</text>
<text x="184.19" y="127.30" font-size="5.8" fill="#111" text-anchor="middle" stroke="#111" stroke-width="0.05" transform="rotate(-90 184.19 127.30)">0.8</text>
<text x="177.65" y="152.80" font-size="6.8" fill="#111" text-anchor="middle" stroke="#111" stroke-width="0.08" transform="rotate(-90 177.65 152.80)">nm</text>
<text x="261.50" y="206.19" font-size="5.8" fill="#111" text-anchor="middle" stroke="#111" stroke-width="0.05">Time(sec)</text>
<text x="263.90" y="117.75" font-size="6.8" fill="#000" text-anchor="middle">DsRed binding to LaM3</text>
<line x1="219.40" y1="210.50" x2="221.80" y2="210.50" stroke="#2aa3bf" stroke-width="1.4"/>
<text x="221.90" y="212.66" font-size="6.0" fill="#111" stroke="#111" stroke-width="0.1">25000</text>
<line x1="242.60" y1="210.50" x2="245.00" y2="210.50" stroke="#c3b3e2" stroke-width="1.4"/>
<text x="245.10" y="212.66" font-size="6.0" fill="#111" stroke="#111" stroke-width="0.1">16667</text>
<line x1="266.30" y1="210.50" x2="268.70" y2="210.50" stroke="#f5b25c" stroke-width="1.4"/>
<text x="268.80" y="212.66" font-size="6.0" fill="#111" stroke="#111" stroke-width="0.1">11111</text>
<line x1="289.20" y1="210.50" x2="291.60" y2="210.50" stroke="#84c877" stroke-width="1.4"/>
<text x="291.70" y="212.66" font-size="6.0" fill="#111" stroke="#111" stroke-width="0.1">7407</text>
<line x1="219.40" y1="216.00" x2="221.80" y2="216.00" stroke="#45bbd3" stroke-width="1.4"/>
<text x="221.90" y="218.16" font-size="6.0" fill="#111" stroke="#111" stroke-width="0.1">4938</text>
<line x1="242.60" y1="216.00" x2="245.00" y2="216.00" stroke="#e8604f" stroke-width="1.4"/>
<text x="245.10" y="218.16" font-size="6.0" fill="#111" stroke="#111" stroke-width="0.1">3292</text>
<line x1="266.30" y1="216.00" x2="268.70" y2="216.00" stroke="#3a6db8" stroke-width="1.4"/>
<text x="268.80" y="218.16" font-size="6.0" fill="#111" stroke="#111" stroke-width="0.1">2195</text>
<text x="6.40" y="15.20" font-size="10.8" fill="#000">A</text>
<text x="176.00" y="15.20" font-size="10.8" fill="#000">B</text>
<text x="6.40" y="118.60" font-size="10.8" fill="#000">C</text>
<text x="176.20" y="118.60" font-size="10.8" fill="#000">D</text>
<text x="7.00" y="231.70" font-size="10.8" fill="#000" stroke="#000" stroke-width="0.3">E</text>
<text x="67.05" y="229.48" font-size="6.9" fill="#000" text-anchor="middle" stroke="#000" stroke-width="0.03">LaM1 to mCherry</text>
<line x1="22.60" y1="231.50" x2="22.60" y2="288.00" stroke="#777" stroke-width="0.5"/>
<line x1="22.60" y1="288.00" x2="110.70" y2="288.00" stroke="#777" stroke-width="0.5"/>
<line x1="21.30" y1="234.60" x2="22.60" y2="234.60" stroke="#777" stroke-width="0.5"/>
<text x="20.80" y="236.22" font-size="4.5" fill="#333" text-anchor="end" stroke="#333" stroke-width="0.06">0</text>
<line x1="21.30" y1="249.20" x2="22.60" y2="249.20" stroke="#777" stroke-width="0.5"/>
<text x="20.80" y="250.82" font-size="4.5" fill="#333" text-anchor="end" stroke="#333" stroke-width="0.06">-0.5</text>
<line x1="21.30" y1="263.80" x2="22.60" y2="263.80" stroke="#777" stroke-width="0.5"/>
<text x="20.80" y="265.42" font-size="4.5" fill="#333" text-anchor="end" stroke="#333" stroke-width="0.06">-1</text>
<line x1="21.30" y1="278.40" x2="22.60" y2="278.40" stroke="#777" stroke-width="0.5"/>
<text x="20.80" y="280.02" font-size="4.5" fill="#333" text-anchor="end" stroke="#333" stroke-width="0.06">-1.5</text>
<line x1="21.80" y1="241.90" x2="22.60" y2="241.90" stroke="#777" stroke-width="0.4"/>
<line x1="21.80" y1="256.50" x2="22.60" y2="256.50" stroke="#777" stroke-width="0.4"/>
<line x1="21.80" y1="271.10" x2="22.60" y2="271.10" stroke="#777" stroke-width="0.4"/>
<line x1="21.80" y1="285.70" x2="22.60" y2="285.70" stroke="#777" stroke-width="0.4"/>
<line x1="22.60" y1="288.00" x2="22.60" y2="289.30" stroke="#777" stroke-width="0.5"/>
<text x="22.60" y="294.55" font-size="4.3" fill="#333" text-anchor="middle" stroke="#333" stroke-width="0.06">0</text>
<line x1="33.60" y1="288.00" x2="33.60" y2="289.30" stroke="#777" stroke-width="0.5"/>
<text x="33.60" y="294.55" font-size="4.3" fill="#333" text-anchor="middle" stroke="#333" stroke-width="0.06">5</text>
<line x1="44.60" y1="288.00" x2="44.60" y2="289.30" stroke="#777" stroke-width="0.5"/>
<text x="44.60" y="294.55" font-size="4.3" fill="#333" text-anchor="middle" stroke="#333" stroke-width="0.06">10</text>
<line x1="55.60" y1="288.00" x2="55.60" y2="289.30" stroke="#777" stroke-width="0.5"/>
<text x="55.60" y="294.55" font-size="4.3" fill="#333" text-anchor="middle" stroke="#333" stroke-width="0.06">15</text>
<line x1="66.60" y1="288.00" x2="66.60" y2="289.30" stroke="#777" stroke-width="0.5"/>
<text x="66.60" y="294.55" font-size="4.3" fill="#333" text-anchor="middle" stroke="#333" stroke-width="0.06">20</text>
<line x1="77.60" y1="288.00" x2="77.60" y2="289.30" stroke="#777" stroke-width="0.5"/>
<text x="77.60" y="294.55" font-size="4.3" fill="#333" text-anchor="middle" stroke="#333" stroke-width="0.06">25</text>
<line x1="88.60" y1="288.00" x2="88.60" y2="289.30" stroke="#777" stroke-width="0.5"/>
<text x="88.60" y="294.55" font-size="4.3" fill="#333" text-anchor="middle" stroke="#333" stroke-width="0.06">30</text>
<line x1="99.60" y1="288.00" x2="99.60" y2="289.30" stroke="#777" stroke-width="0.5"/>
<text x="99.60" y="294.55" font-size="4.3" fill="#333" text-anchor="middle" stroke="#333" stroke-width="0.06">35</text>
<line x1="110.60" y1="288.00" x2="110.60" y2="289.30" stroke="#777" stroke-width="0.5"/>
<text x="110.60" y="294.55" font-size="4.3" fill="#333" text-anchor="middle" stroke="#333" stroke-width="0.06">40</text>
<line x1="28.10" y1="288.00" x2="28.10" y2="288.80" stroke="#777" stroke-width="0.4"/>
<line x1="39.10" y1="288.00" x2="39.10" y2="288.80" stroke="#777" stroke-width="0.4"/>
<line x1="50.10" y1="288.00" x2="50.10" y2="288.80" stroke="#777" stroke-width="0.4"/>
<line x1="61.10" y1="288.00" x2="61.10" y2="288.80" stroke="#777" stroke-width="0.4"/>
<line x1="72.10" y1="288.00" x2="72.10" y2="288.80" stroke="#777" stroke-width="0.4"/>
<line x1="83.10" y1="288.00" x2="83.10" y2="288.80" stroke="#777" stroke-width="0.4"/>
<line x1="94.10" y1="288.00" x2="94.10" y2="288.80" stroke="#777" stroke-width="0.4"/>
<line x1="105.10" y1="288.00" x2="105.10" y2="288.80" stroke="#777" stroke-width="0.4"/>
<path d="M23.80,234.60L24.40,231.40L25.00,235.00L25.50,234.60" fill="none" stroke="#33628f" stroke-width="0.7" stroke-linejoin="round"/>
<path d="M25.90,234.60L26.50,233.00L27.10,235.00L27.60,234.60" fill="none" stroke="#33628f" stroke-width="0.7" stroke-linejoin="round"/>
<path d="M29.50,234.60L30.10,233.30L30.70,235.00L31.20,234.60" fill="none" stroke="#33628f" stroke-width="0.7" stroke-linejoin="round"/>
<path d="M32.70,234.60L33.30,233.80L33.90,235.00L34.40,234.60" fill="none" stroke="#33628f" stroke-width="0.7" stroke-linejoin="round"/>
<path d="M27.60,234.60Q28.40,234.60 28.50,235.60L28.60,283.60L29.25,283.60L29.30,235.60Q29.40,234.60 30.20,234.60Z" fill="url(#sg)"/>
<path d="M27.60,234.60Q28.40,234.60 28.50,235.60L28.60,283.60" fill="none" stroke="url(#sl)" stroke-width="0.5"/>
<path d="M30.87,234.60Q31.67,234.60 31.77,235.60L31.87,287.20L32.52,287.20L32.57,235.60Q32.67,234.60 33.47,234.60Z" fill="url(#sg)"/>
<path d="M30.87,234.60Q31.67,234.60 31.77,235.60L31.87,287.20" fill="none" stroke="url(#sl)" stroke-width="0.5"/>
<path d="M34.14,234.60Q34.94,234.60 35.04,235.60L35.14,282.10L35.79,282.10L35.84,235.60Q35.94,234.60 36.74,234.60Z" fill="url(#sg)"/>
<path d="M34.14,234.60Q34.94,234.60 35.04,235.60L35.14,282.10" fill="none" stroke="url(#sl)" stroke-width="0.5"/>
<path d="M37.41,234.60Q38.21,234.60 38.31,235.60L38.41,279.90L39.06,279.90L39.11,235.60Q39.21,234.60 40.01,234.60Z" fill="url(#sg)"/>
<path d="M37.41,234.60Q38.21,234.60 38.31,235.60L38.41,279.90" fill="none" stroke="url(#sl)" stroke-width="0.5"/>
<path d="M40.68,234.60Q41.48,234.60 41.58,235.60L41.68,273.40L42.33,273.40L42.38,235.60Q42.48,234.60 43.28,234.60Z" fill="url(#sg)"/>
<path d="M40.68,234.60Q41.48,234.60 41.58,235.60L41.68,273.40" fill="none" stroke="url(#sl)" stroke-width="0.5"/>
<path d="M43.95,234.60Q44.75,234.60 44.85,235.60L44.95,273.40L45.60,273.40L45.65,235.60Q45.75,234.60 46.55,234.60Z" fill="url(#sg)"/>
<path d="M43.95,234.60Q44.75,234.60 44.85,235.60L44.95,273.40" fill="none" stroke="url(#sl)" stroke-width="0.5"/>
<path d="M47.22,234.60Q48.02,234.60 48.12,235.60L48.22,272.60L48.87,272.60L48.92,235.60Q49.02,234.60 49.82,234.60Z" fill="url(#sg)"/>
<path d="M47.22,234.60Q48.02,234.60 48.12,235.60L48.22,272.60" fill="none" stroke="url(#sl)" stroke-width="0.5"/>
<path d="M50.49,234.60Q51.29,234.60 51.39,235.60L51.49,269.00L52.14,269.00L52.19,235.60Q52.29,234.60 53.09,234.60Z" fill="url(#sg)"/>
<path d="M50.49,234.60Q51.29,234.60 51.39,235.60L51.49,269.00" fill="none" stroke="url(#sl)" stroke-width="0.5"/>
<path d="M53.76,234.60Q54.56,234.60 54.66,235.60L54.76,267.50L55.41,267.50L55.46,235.60Q55.56,234.60 56.36,234.60Z" fill="url(#sg)"/>
<path d="M53.76,234.60Q54.56,234.60 54.66,235.60L54.76,267.50" fill="none" stroke="url(#sl)" stroke-width="0.5"/>
<path d="M57.03,234.60Q57.83,234.60 57.93,235.60L58.03,261.00L58.68,261.00L58.73,235.60Q58.83,234.60 59.63,234.60Z" fill="url(#sg)"/>
<path d="M57.03,234.60Q57.83,234.60 57.93,235.60L58.03,261.00" fill="none" stroke="url(#sl)" stroke-width="0.5"/>
<path d="M60.30,234.60Q61.10,234.60 61.20,235.60L61.30,255.90L61.95,255.90L62.00,235.60Q62.10,234.60 62.90,234.60Z" fill="url(#sg)"/>
<path d="M60.30,234.60Q61.10,234.60 61.20,235.60L61.30,255.90" fill="none" stroke="url(#sl)" stroke-width="0.5"/>
<path d="M63.57,234.60Q64.37,234.60 64.47,235.60L64.57,251.50L65.22,251.50L65.27,235.60Q65.37,234.60 66.17,234.60Z" fill="url(#sg)"/>
<path d="M63.57,234.60Q64.37,234.60 64.47,235.60L64.57,251.50" fill="none" stroke="url(#sl)" stroke-width="0.5"/>
<path d="M66.84,234.60Q67.64,234.60 67.74,235.60L67.84,247.60L68.49,247.60L68.54,235.60Q68.64,234.60 69.44,234.60Z" fill="url(#sg)"/>
<path d="M66.84,234.60Q67.64,234.60 67.74,235.60L67.84,247.60" fill="none" stroke="url(#sl)" stroke-width="0.5"/>
<path d="M70.11,234.60Q70.91,234.60 71.01,235.60L71.11,244.00L71.76,244.00L71.81,235.60Q71.91,234.60 72.71,234.60Z" fill="url(#sg)"/>
<path d="M70.11,234.60Q70.91,234.60 71.01,235.60L71.11,244.00" fill="none" stroke="url(#sl)" stroke-width="0.5"/>
<path d="M73.38,234.60Q74.18,234.60 74.28,235.60L74.38,241.30L75.03,241.30L75.08,235.60Q75.18,234.60 75.98,234.60Z" fill="url(#sg)"/>
<path d="M73.38,234.60Q74.18,234.60 74.28,235.60L74.38,241.30" fill="none" stroke="url(#sl)" stroke-width="0.5"/>
<path d="M76.65,234.60Q77.45,234.60 77.55,235.60L77.65,239.50L78.30,239.50L78.35,235.60Q78.45,234.60 79.25,234.60Z" fill="url(#sg)"/>
<path d="M76.65,234.60Q77.45,234.60 77.55,235.60L77.65,239.50" fill="none" stroke="url(#sl)" stroke-width="0.5"/>
<path d="M79.92,234.60Q80.72,234.60 80.82,235.60L80.92,238.30L81.57,238.30L81.62,235.60Q81.72,234.60 82.52,234.60Z" fill="url(#sg)"/>
<path d="M79.92,234.60Q80.72,234.60 80.82,235.60L80.92,238.30" fill="none" stroke="url(#sl)" stroke-width="0.5"/>
<path d="M83.19,234.60Q83.99,234.60 84.09,235.60L84.19,237.50L84.84,237.50L84.89,235.60Q84.99,234.60 85.79,234.60Z" fill="url(#sg)"/>
<path d="M83.19,234.60Q83.99,234.60 84.09,235.60L84.19,237.50" fill="none" stroke="url(#sl)" stroke-width="0.5"/>
<path d="M86.46,234.60Q87.26,234.60 87.36,235.60L87.46,237.00L88.11,237.00L88.16,235.60Q88.26,234.60 89.06,234.60Z" fill="url(#sg)"/>
<path d="M86.46,234.60Q87.26,234.60 87.36,235.60L87.46,237.00" fill="none" stroke="url(#sl)" stroke-width="0.5"/>
<path d="M89.73,234.60Q90.53,234.60 90.63,235.60L90.73,236.50L91.38,236.50L91.43,235.60Q91.53,234.60 92.33,234.60Z" fill="url(#sg)"/>
<path d="M89.73,234.60Q90.53,234.60 90.63,235.60L90.73,236.50" fill="none" stroke="url(#sl)" stroke-width="0.5"/>
<path d="M93.00,234.60Q93.80,234.60 93.90,235.60L94.00,236.10L94.65,236.10L94.70,235.60Q94.80,234.60 95.60,234.60Z" fill="url(#sg)"/>
<path d="M93.00,234.60Q93.80,234.60 93.90,235.60L94.00,236.10" fill="none" stroke="url(#sl)" stroke-width="0.5"/>
<path d="M96.27,234.60Q97.07,234.60 97.17,235.60L97.27,235.80L97.92,235.80L97.97,235.60Q98.07,234.60 98.87,234.60Z" fill="url(#sg)"/>
<path d="M96.27,234.60Q97.07,234.60 97.17,235.60L97.27,235.80" fill="none" stroke="url(#sl)" stroke-width="0.5"/>
<path d="M99.54,234.60Q100.34,234.60 100.44,235.60L100.54,235.60L101.19,235.60L101.24,235.60Q101.34,234.60 102.14,234.60Z" fill="url(#sg)"/>
<path d="M99.54,234.60Q100.34,234.60 100.44,235.60L100.54,235.60" fill="none" stroke="url(#sl)" stroke-width="0.5"/>
<path d="M102.81,234.60Q103.61,234.60 103.71,235.60L103.81,235.40L104.46,235.40L104.51,235.60Q104.61,234.60 105.41,234.60Z" fill="url(#sg)"/>
<path d="M102.81,234.60Q103.61,234.60 103.71,235.60L103.81,235.40" fill="none" stroke="url(#sl)" stroke-width="0.5"/>
<path d="M22.8,234.6L23.1,234.6L23.4,234.6L23.7,234.6L24.0,234.6L24.3,234.6L24.6,234.6L24.9,234.5L25.2,234.6L25.5,234.6L25.8,234.6L26.1,234.7L26.4,234.5L26.7,234.7L27.0,234.6L27.3,234.7L27.6,234.6L27.9,234.5L28.2,234.6L28.5,234.6L28.8,234.6L29.1,234.6L29.4,234.6L29.7,234.6L30.0,234.6L30.3,234.6L30.6,234.6L30.9,234.6L31.2,234.6L31.5,234.6L31.8,234.6L32.1,234.5L32.4,234.7L32.7,234.5L33.0,234.6L33.3,234.6L33.6,234.5L33.9,234.6L34.2,234.6L34.5,234.7L34.8,234.7L35.1,234.6L35.4,234.6L35.7,234.6L36.0,234.6L36.3,234.6L36.6,234.7L36.9,234.6L37.2,234.6L37.5,234.6L37.8,234.6L38.1,234.6L38.4,234.6L38.7,234.7L39.0,234.6L39.3,234.5L39.6,234.6L39.9,234.5L40.2,234.6L40.5,234.7L40.8,234.7L41.1,234.6L41.4,234.5L41.7,234.6L42.0,234.5L42.3,234.6L42.6,234.7L42.9,234.6L43.2,234.5L43.5,234.5L43.8,234.6L44.1,234.6L44.4,234.6L44.7,234.6L45.0,234.6L45.3,234.5L45.6,234.6L45.9,234.6L46.2,234.6L46.5,234.5L46.8,234.6L47.1,234.6L47.4,234.6L47.7,234.6L48.0,234.6L48.3,234.6L48.6,234.6L48.9,234.5L49.2,234.5L49.5,234.6L49.8,234.7L50.1,234.5L50.4,234.6L50.7,234.6L51.0,234.6L51.3,234.6L51.6,234.6L51.9,234.5L52.2,234.6L52.5,234.6L52.8,234.7L53.1,234.6L53.4,234.6L53.7,234.6L54.0,234.6L54.3,234.6L54.6,234.6L54.9,234.6L55.2,234.6L55.5,234.6L55.8,234.5L56.1,234.6L56.4,234.6L56.7,234.6L57.0,234.6L57.3,234.6L57.6,234.6L57.9,234.6L58.2,234.6L58.5,234.6L58.8,234.6L59.1,234.6L59.4,234.5L59.7,234.6L60.0,234.6L60.3,234.7L60.6,234.6L60.9,234.6L61.2,234.6L61.5,234.6L61.8,234.6L62.1,234.7L62.4,234.6L62.7,234.7L63.0,234.6L63.3,234.6L63.6,234.6L63.9,234.5L64.2,234.6L64.5,234.6L64.8,234.6L65.1,234.6L65.4,234.6L65.7,234.6L66.0,234.6L66.3,234.7L66.6,234.6L66.9,234.6L67.2,234.7L67.5,234.6L67.8,234.6L68.1,234.5L68.4,234.7L68.7,234.6L69.0,234.6L69.3,234.5L69.6,234.6L69.9,234.6L70.2,234.6L70.5,234.6L70.8,234.6L71.1,234.5L71.4,234.6L71.7,234.6L72.0,234.6L72.3,234.6L72.6,234.6L72.9,234.6L73.2,234.6L73.5,234.6L73.8,234.6L74.1,234.6L74.4,234.6L74.7,234.6L75.0,234.6L75.3,234.7L75.6,234.6L75.9,234.6L76.2,234.6L76.5,234.6L76.8,234.6L77.1,234.6L77.4,234.7L77.7,234.6L78.0,234.6L78.3,234.6L78.6,234.6L78.9,234.6L79.2,234.6L79.5,234.6L79.8,234.6L80.1,234.6L80.4,234.5L80.7,234.6L81.0,234.6L81.3,234.6L81.6,234.6L81.9,234.7L82.2,234.6L82.5,234.6L82.8,234.7L83.1,234.6L83.4,234.6L83.7,234.5L84.0,234.6L84.3,234.6L84.6,234.6L84.9,234.6L85.2,234.6L85.5,234.6L85.8,234.6L86.1,234.6L86.4,234.6L86.7,234.7L87.0,234.6L87.3,234.6L87.6,234.6L87.9,234.7L88.2,234.5L88.5,234.6L88.8,234.7L89.1,234.6L89.4,234.6L89.7,234.5L90.0,234.6L90.3,234.5L90.6,234.6L90.9,234.6L91.2,234.6L91.5,234.6L91.8,234.6L92.1,234.6L92.4,234.6L92.7,234.5L93.0,234.6L93.3,234.7L93.6,234.6L93.9,234.6L94.2,234.6L94.5,234.6L94.8,234.6L95.1,234.6L95.4,234.5L95.7,234.6L96.0,234.7L96.3,234.6L96.6,234.6L96.9,234.6L97.2,234.5L97.5,234.6L97.8,234.6L98.1,234.6L98.4,234.6L98.7,234.6L99.0,234.6L99.3,234.6L99.6,234.6L99.9,234.5L100.2,234.6L100.5,234.6L100.8,234.6L101.1,234.6L101.4,234.6L101.7,234.6L102.0,234.6L102.3,234.6L102.6,234.5L102.9,234.6L103.2,234.6L103.5,234.6L103.8,234.6L104.1,234.6L104.4,234.6L104.7,234.6L105.0,234.6L105.3,234.6L105.6,234.6L105.9,234.6L106.2,234.6" fill="none" stroke="#33628f" stroke-width="1.0" stroke-linejoin="round" stroke-linecap="round"/>
<text x="7.58" y="260.20" font-size="4.4" fill="#8c8c8c" text-anchor="middle" stroke="#8c8c8c" stroke-width="0.1" transform="rotate(-90 7.58 260.20)">DP (μW)</text>
<text x="62.80" y="300.66" font-size="4.6" fill="#8c8c8c" text-anchor="middle" stroke="#8c8c8c" stroke-width="0.1">Time (min)</text>
<line x1="25.40" y1="306.50" x2="25.40" y2="368.20" stroke="#777" stroke-width="0.5"/>
<line x1="25.40" y1="368.20" x2="110.60" y2="368.20" stroke="#777" stroke-width="0.5"/>
<line x1="24.10" y1="309.60" x2="25.40" y2="309.60" stroke="#777" stroke-width="0.5"/>
<text x="23.60" y="311.22" font-size="4.5" fill="#333" text-anchor="end" stroke="#333" stroke-width="0.06">0</text>
<line x1="24.10" y1="318.20" x2="25.40" y2="318.20" stroke="#777" stroke-width="0.5"/>
<text x="23.60" y="319.82" font-size="4.5" fill="#333" text-anchor="end" stroke="#333" stroke-width="0.06">-20</text>
<line x1="24.10" y1="326.80" x2="25.40" y2="326.80" stroke="#777" stroke-width="0.5"/>
<text x="23.60" y="328.42" font-size="4.5" fill="#333" text-anchor="end" stroke="#333" stroke-width="0.06">-40</text>
<line x1="24.10" y1="335.40" x2="25.40" y2="335.40" stroke="#777" stroke-width="0.5"/>
<text x="23.60" y="337.02" font-size="4.5" fill="#333" text-anchor="end" stroke="#333" stroke-width="0.06">-60</text>
<line x1="24.10" y1="344.00" x2="25.40" y2="344.00" stroke="#777" stroke-width="0.5"/>
<text x="23.60" y="345.62" font-size="4.5" fill="#333" text-anchor="end" stroke="#333" stroke-width="0.06">-80</text>
<line x1="24.10" y1="352.60" x2="25.40" y2="352.60" stroke="#777" stroke-width="0.5"/>
<text x="23.60" y="354.22" font-size="4.5" fill="#333" text-anchor="end" stroke="#333" stroke-width="0.06">-100</text>
<line x1="24.10" y1="361.20" x2="25.40" y2="361.20" stroke="#777" stroke-width="0.5"/>
<text x="23.60" y="362.82" font-size="4.5" fill="#333" text-anchor="end" stroke="#333" stroke-width="0.06">-120</text>
<line x1="24.60" y1="313.90" x2="25.40" y2="313.90" stroke="#777" stroke-width="0.4"/>
<line x1="24.60" y1="322.50" x2="25.40" y2="322.50" stroke="#777" stroke-width="0.4"/>
<line x1="24.60" y1="331.10" x2="25.40" y2="331.10" stroke="#777" stroke-width="0.4"/>
<line x1="24.60" y1="339.70" x2="25.40" y2="339.70" stroke="#777" stroke-width="0.4"/>
<line x1="24.60" y1="348.30" x2="25.40" y2="348.30" stroke="#777" stroke-width="0.4"/>
<line x1="24.60" y1="356.90" x2="25.40" y2="356.90" stroke="#777" stroke-width="0.4"/>
<line x1="24.60" y1="365.50" x2="25.40" y2="365.50" stroke="#777" stroke-width="0.4"/>
<line x1="24.60" y1="365.50" x2="25.40" y2="365.50" stroke="#777" stroke-width="0.4"/>
<line x1="25.90" y1="368.20" x2="25.90" y2="369.50" stroke="#777" stroke-width="0.5"/>
<text x="25.90" y="374.75" font-size="4.3" fill="#333" text-anchor="middle" stroke="#333" stroke-width="0.06">0</text>
<line x1="34.06" y1="368.20" x2="34.06" y2="369.50" stroke="#777" stroke-width="0.5"/>
<text x="34.06" y="374.75" font-size="4.3" fill="#333" text-anchor="middle" stroke="#333" stroke-width="0.06">0.2</text>
<line x1="42.22" y1="368.20" x2="42.22" y2="369.50" stroke="#777" stroke-width="0.5"/>
<text x="42.22" y="374.75" font-size="4.3" fill="#333" text-anchor="middle" stroke="#333" stroke-width="0.06">0.4</text>
<line x1="50.38" y1="368.20" x2="50.38" y2="369.50" stroke="#777" stroke-width="0.5"/>
<text x="50.38" y="374.75" font-size="4.3" fill="#333" text-anchor="middle" stroke="#333" stroke-width="0.06">0.6</text>
<line x1="58.54" y1="368.20" x2="58.54" y2="369.50" stroke="#777" stroke-width="0.5"/>
<text x="58.54" y="374.75" font-size="4.3" fill="#333" text-anchor="middle" stroke="#333" stroke-width="0.06">0.8</text>
<line x1="66.70" y1="368.20" x2="66.70" y2="369.50" stroke="#777" stroke-width="0.5"/>
<text x="66.70" y="374.75" font-size="4.3" fill="#333" text-anchor="middle" stroke="#333" stroke-width="0.06">1</text>
<line x1="74.86" y1="368.20" x2="74.86" y2="369.50" stroke="#777" stroke-width="0.5"/>
<text x="74.86" y="374.75" font-size="4.3" fill="#333" text-anchor="middle" stroke="#333" stroke-width="0.06">1.2</text>
<line x1="83.02" y1="368.20" x2="83.02" y2="369.50" stroke="#777" stroke-width="0.5"/>
<text x="83.02" y="374.75" font-size="4.3" fill="#333" text-anchor="middle" stroke="#333" stroke-width="0.06">1.4</text>
<line x1="91.18" y1="368.20" x2="91.18" y2="369.50" stroke="#777" stroke-width="0.5"/>
<text x="91.18" y="374.75" font-size="4.3" fill="#333" text-anchor="middle" stroke="#333" stroke-width="0.06">1.6</text>
<line x1="99.34" y1="368.20" x2="99.34" y2="369.50" stroke="#777" stroke-width="0.5"/>
<text x="99.34" y="374.75" font-size="4.3" fill="#333" text-anchor="middle" stroke="#333" stroke-width="0.06">1.8</text>
<line x1="107.50" y1="368.20" x2="107.50" y2="369.50" stroke="#777" stroke-width="0.5"/>
<text x="107.50" y="374.75" font-size="4.3" fill="#333" text-anchor="middle" stroke="#333" stroke-width="0.06">2</text>
<line x1="29.98" y1="368.20" x2="29.98" y2="369.00" stroke="#777" stroke-width="0.4"/>
<line x1="38.14" y1="368.20" x2="38.14" y2="369.00" stroke="#777" stroke-width="0.4"/>
<line x1="46.30" y1="368.20" x2="46.30" y2="369.00" stroke="#777" stroke-width="0.4"/>
<line x1="54.46" y1="368.20" x2="54.46" y2="369.00" stroke="#777" stroke-width="0.4"/>
<line x1="62.62" y1="368.20" x2="62.62" y2="369.00" stroke="#777" stroke-width="0.4"/>
<line x1="70.78" y1="368.20" x2="70.78" y2="369.00" stroke="#777" stroke-width="0.4"/>
<line x1="78.94" y1="368.20" x2="78.94" y2="369.00" stroke="#777" stroke-width="0.4"/>
<line x1="87.10" y1="368.20" x2="87.10" y2="369.00" stroke="#777" stroke-width="0.4"/>
<line x1="95.26" y1="368.20" x2="95.26" y2="369.00" stroke="#777" stroke-width="0.4"/>
<line x1="103.42" y1="368.20" x2="103.42" y2="369.00" stroke="#777" stroke-width="0.4"/>
<path d="M25.9,360.5L26.3,360.4L26.7,360.3L27.1,360.2L27.5,360.2L27.9,360.1L28.3,360.0L28.7,359.9L29.1,359.8L29.5,359.7L30.0,359.6L30.4,359.5L30.8,359.5L31.2,359.4L31.6,359.3L32.0,359.2L32.4,359.1L32.8,359.0L33.2,358.9L33.6,358.8L34.0,358.7L34.4,358.6L34.8,358.5L35.2,358.4L35.6,358.3L36.0,358.3L36.4,358.2L36.8,358.1L37.3,358.0L37.7,357.9L38.1,357.8L38.5,357.7L38.9,357.6L39.3,357.5L39.7,357.4L40.1,357.3L40.5,357.2L40.9,357.1L41.3,357.0L41.7,357.0L42.1,356.9L42.5,356.8L42.9,356.7L43.3,356.6L43.7,356.5L44.1,356.4L44.6,356.3L45.0,356.2L45.4,356.0L45.8,355.9L46.2,355.8L46.6,355.7L47.0,355.6L47.4,355.5L47.8,355.4L48.2,355.2L48.6,355.1L49.0,355.0L49.4,354.8L49.8,354.7L50.2,354.6L50.6,354.5L51.0,354.3L51.4,354.2L51.9,354.0L52.3,353.9L52.7,353.7L53.1,353.5L53.5,353.3L53.9,353.1L54.3,352.9L54.7,352.7L55.1,352.5L55.5,352.2L55.9,351.9L56.3,351.5L56.7,351.1L57.1,350.7L57.5,350.3L57.9,349.8L58.3,349.3L58.7,348.7L59.2,348.2L59.6,347.6L60.0,347.1L60.4,346.5L60.8,345.9L61.2,345.3L61.6,344.8L62.0,344.1L62.4,343.5L62.8,342.8L63.2,342.1L63.6,341.4L64.0,340.7L64.4,340.0L64.8,339.3L65.2,338.5L65.6,337.8L66.0,337.0L66.5,336.3L66.9,335.6L67.3,334.9L67.7,334.2L68.1,333.4L68.5,332.7L68.9,331.9L69.3,331.1L69.7,330.3L70.1,329.5L70.5,328.7L70.9,327.9L71.3,327.2L71.7,326.5L72.1,325.7L72.5,325.1L72.9,324.4L73.3,323.8L73.8,323.3L74.2,322.7L74.6,322.3L75.0,321.8L75.4,321.4L75.8,321.0L76.2,320.6L76.6,320.2L77.0,319.8L77.4,319.4L77.8,319.0L78.2,318.7L78.6,318.4L79.0,318.1L79.4,317.8L79.8,317.5L80.2,317.2L80.6,316.9L81.1,316.7L81.5,316.5L81.9,316.2L82.3,316.0L82.7,315.8L83.1,315.6L83.5,315.4L83.9,315.2L84.3,315.0L84.7,314.8L85.1,314.6L85.5,314.5L85.9,314.3L86.3,314.2L86.7,314.0L87.1,313.9L87.5,313.8L87.9,313.7L88.4,313.6L88.8,313.5L89.2,313.4L89.6,313.3L90.0,313.2L90.4,313.1L90.8,313.1L91.2,313.0L91.6,312.9L92.0,312.9L92.4,312.8L92.8,312.7L93.2,312.7L93.6,312.6L94.0,312.6L94.4,312.5L94.8,312.5L95.2,312.4L95.7,312.4L96.1,312.3L96.5,312.3L96.9,312.2L97.3,312.2L97.7,312.1L98.1,312.1L98.5,312.0L98.9,312.0L99.3,312.0L99.7,311.9L100.1,311.9L100.5,311.8L100.9,311.8L101.3,311.8L101.7,311.7L102.1,311.7L102.5,311.7L103.0,311.6L103.4,311.6L103.8,311.6L104.2,311.5L104.6,311.5L105.0,311.5L105.4,311.5L105.8,311.4L106.2,311.4L106.6,311.4" fill="none" stroke="#35a3c3" stroke-width="0.95" stroke-linejoin="round" stroke-linecap="round"/>
<rect x="29.00" y="358.00" width="1.4" height="1.4" fill="#1d3a66"/>
<rect x="31.90" y="364.40" width="1.4" height="1.4" fill="#1d3a66"/>
<rect x="35.00" y="359.30" width="1.4" height="1.4" fill="#1d3a66"/>
<rect x="38.30" y="357.70" width="1.4" height="1.4" fill="#1d3a66"/>
<rect x="41.60" y="353.90" width="1.4" height="1.4" fill="#1d3a66"/>
<rect x="44.70" y="356.60" width="1.4" height="1.4" fill="#1d3a66"/>
<rect x="48.20" y="354.50" width="1.4" height="1.4" fill="#1d3a66"/>
<rect x="51.40" y="353.50" width="1.4" height="1.4" fill="#1d3a66"/>
<rect x="54.40" y="351.90" width="1.4" height="1.4" fill="#1d3a66"/>
<rect x="57.50" y="349.30" width="1.4" height="1.4" fill="#1d3a66"/>
<rect x="60.70" y="344.90" width="1.4" height="1.4" fill="#1d3a66"/>
<rect x="63.90" y="338.34" width="1.4" height="1.4" fill="#1d3a66"/>
<rect x="67.10" y="333.15" width="1.4" height="1.4" fill="#1d3a66"/>
<rect x="70.30" y="326.68" width="1.4" height="1.4" fill="#1d3a66"/>
<rect x="73.50" y="322.41" width="1.4" height="1.4" fill="#1d3a66"/>
<rect x="76.70" y="319.15" width="1.4" height="1.4" fill="#1d3a66"/>
<rect x="79.90" y="316.75" width="1.4" height="1.4" fill="#1d3a66"/>
<rect x="83.10" y="314.75" width="1.4" height="1.4" fill="#1d3a66"/>
<rect x="86.30" y="313.08" width="1.4" height="1.4" fill="#1d3a66"/>
<rect x="89.50" y="312.75" width="1.4" height="1.4" fill="#1d3a66"/>
<rect x="92.70" y="311.88" width="1.4" height="1.4" fill="#1d3a66"/>
<rect x="95.90" y="311.72" width="1.4" height="1.4" fill="#1d3a66"/>
<rect x="99.10" y="310.93" width="1.4" height="1.4" fill="#1d3a66"/>
<rect x="102.30" y="310.74" width="1.4" height="1.4" fill="#1d3a66"/>
<rect x="105.50" y="310.85" width="1.4" height="1.4" fill="#1d3a66"/>
<text x="8.14" y="340.40" font-size="4.0" fill="#8c8c8c" text-anchor="middle" stroke="#8c8c8c" stroke-width="0.1" transform="rotate(-90 8.14 340.40)">ΔH (kcal/mol)</text>
<text x="63.80" y="380.96" font-size="4.6" fill="#8c8c8c" text-anchor="middle" stroke="#8c8c8c" stroke-width="0.1">Molar Ratio</text>
<text x="119.40" y="231.70" font-size="10.8" fill="#000" stroke="#000" stroke-width="0.3">F</text>
<text x="179.20" y="229.48" font-size="6.9" fill="#000" text-anchor="middle" stroke="#000" stroke-width="0.03">LaM3 to mCherry</text>
<line x1="135.30" y1="229.90" x2="135.30" y2="288.40" stroke="#777" stroke-width="0.5"/>
<line x1="135.30" y1="288.40" x2="223.60" y2="288.40" stroke="#777" stroke-width="0.5"/>
<line x1="134.00" y1="233.00" x2="135.30" y2="233.00" stroke="#777" stroke-width="0.5"/>
<text x="133.50" y="234.62" font-size="4.5" fill="#333" text-anchor="end" stroke="#333" stroke-width="0.06">0</text>
<line x1="134.00" y1="246.10" x2="135.30" y2="246.10" stroke="#777" stroke-width="0.5"/>
<text x="133.50" y="247.72" font-size="4.5" fill="#333" text-anchor="end" stroke="#333" stroke-width="0.06">-0.5</text>
<line x1="134.00" y1="259.20" x2="135.30" y2="259.20" stroke="#777" stroke-width="0.5"/>
<text x="133.50" y="260.82" font-size="4.5" fill="#333" text-anchor="end" stroke="#333" stroke-width="0.06">-1</text>
<line x1="134.00" y1="272.30" x2="135.30" y2="272.30" stroke="#777" stroke-width="0.5"/>
<text x="133.50" y="273.92" font-size="4.5" fill="#333" text-anchor="end" stroke="#333" stroke-width="0.06">-1.5</text>
<line x1="134.00" y1="285.40" x2="135.30" y2="285.40" stroke="#777" stroke-width="0.5"/>
<text x="133.50" y="287.02" font-size="4.5" fill="#333" text-anchor="end" stroke="#333" stroke-width="0.06">-2</text>
<line x1="134.50" y1="239.55" x2="135.30" y2="239.55" stroke="#777" stroke-width="0.4"/>
<line x1="134.50" y1="252.65" x2="135.30" y2="252.65" stroke="#777" stroke-width="0.4"/>
<line x1="134.50" y1="265.75" x2="135.30" y2="265.75" stroke="#777" stroke-width="0.4"/>
<line x1="134.50" y1="278.85" x2="135.30" y2="278.85" stroke="#777" stroke-width="0.4"/>
<line x1="135.40" y1="288.40" x2="135.40" y2="289.70" stroke="#777" stroke-width="0.5"/>
<text x="135.40" y="294.95" font-size="4.3" fill="#333" text-anchor="middle" stroke="#333" stroke-width="0.06">0</text>
<line x1="143.70" y1="288.40" x2="143.70" y2="289.70" stroke="#777" stroke-width="0.5"/>
<text x="143.70" y="294.95" font-size="4.3" fill="#333" text-anchor="middle" stroke="#333" stroke-width="0.06">5</text>
<line x1="152.00" y1="288.40" x2="152.00" y2="289.70" stroke="#777" stroke-width="0.5"/>
<text x="152.00" y="294.95" font-size="4.3" fill="#333" text-anchor="middle" stroke="#333" stroke-width="0.06">10</text>
<line x1="160.30" y1="288.40" x2="160.30" y2="289.70" stroke="#777" stroke-width="0.5"/>
<text x="160.30" y="294.95" font-size="4.3" fill="#333" text-anchor="middle" stroke="#333" stroke-width="0.06">15</text>
<line x1="168.60" y1="288.40" x2="168.60" y2="289.70" stroke="#777" stroke-width="0.5"/>
<text x="168.60" y="294.95" font-size="4.3" fill="#333" text-anchor="middle" stroke="#333" stroke-width="0.06">20</text>
<line x1="176.90" y1="288.40" x2="176.90" y2="289.70" stroke="#777" stroke-width="0.5"/>
<text x="176.90" y="294.95" font-size="4.3" fill="#333" text-anchor="middle" stroke="#333" stroke-width="0.06">25</text>
<line x1="185.20" y1="288.40" x2="185.20" y2="289.70" stroke="#777" stroke-width="0.5"/>
<text x="185.20" y="294.95" font-size="4.3" fill="#333" text-anchor="middle" stroke="#333" stroke-width="0.06">30</text>
<line x1="193.50" y1="288.40" x2="193.50" y2="289.70" stroke="#777" stroke-width="0.5"/>
<text x="193.50" y="294.95" font-size="4.3" fill="#333" text-anchor="middle" stroke="#333" stroke-width="0.06">35</text>
<line x1="201.80" y1="288.40" x2="201.80" y2="289.70" stroke="#777" stroke-width="0.5"/>
<text x="201.80" y="294.95" font-size="4.3" fill="#333" text-anchor="middle" stroke="#333" stroke-width="0.06">40</text>
<line x1="210.10" y1="288.40" x2="210.10" y2="289.70" stroke="#777" stroke-width="0.5"/>
<text x="210.10" y="294.95" font-size="4.3" fill="#333" text-anchor="middle" stroke="#333" stroke-width="0.06">45</text>
<line x1="218.40" y1="288.40" x2="218.40" y2="289.70" stroke="#777" stroke-width="0.5"/>
<text x="218.40" y="294.95" font-size="4.3" fill="#333" text-anchor="middle" stroke="#333" stroke-width="0.06">50</text>
<line x1="139.55" y1="288.40" x2="139.55" y2="289.20" stroke="#777" stroke-width="0.4"/>
<line x1="147.85" y1="288.40" x2="147.85" y2="289.20" stroke="#777" stroke-width="0.4"/>
<line x1="156.15" y1="288.40" x2="156.15" y2="289.20" stroke="#777" stroke-width="0.4"/>
<line x1="164.45" y1="288.40" x2="164.45" y2="289.20" stroke="#777" stroke-width="0.4"/>
<line x1="172.75" y1="288.40" x2="172.75" y2="289.20" stroke="#777" stroke-width="0.4"/>
<line x1="181.05" y1="288.40" x2="181.05" y2="289.20" stroke="#777" stroke-width="0.4"/>
<line x1="189.35" y1="288.40" x2="189.35" y2="289.20" stroke="#777" stroke-width="0.4"/>
<line x1="197.65" y1="288.40" x2="197.65" y2="289.20" stroke="#777" stroke-width="0.4"/>
<line x1="205.95" y1="288.40" x2="205.95" y2="289.20" stroke="#777" stroke-width="0.4"/>
<line x1="214.25" y1="288.40" x2="214.25" y2="289.20" stroke="#777" stroke-width="0.4"/>
<path d="M136.30,233.00L136.90,231.80L137.50,233.40L138.00,233.00" fill="none" stroke="#33628f" stroke-width="0.7" stroke-linejoin="round"/>
<path d="M137.60,233.00L138.20,232.20L138.80,233.40L139.30,233.00" fill="none" stroke="#33628f" stroke-width="0.7" stroke-linejoin="round"/>
<path d="M138.50,233.00Q139.30,233.00 139.40,234.00L139.50,286.90L140.15,286.90L140.20,234.00Q140.30,233.00 141.10,233.00Z" fill="url(#sg)"/>
<path d="M138.50,233.00Q139.30,233.00 139.40,234.00L139.50,286.90" fill="none" stroke="url(#sl)" stroke-width="0.5"/>
<path d="M141.05,233.00Q141.85,233.00 141.95,234.00L142.05,285.70L142.70,285.70L142.75,234.00Q142.85,233.00 143.65,233.00Z" fill="url(#sg)"/>
<path d="M141.05,233.00Q141.85,233.00 141.95,234.00L142.05,285.70" fill="none" stroke="url(#sl)" stroke-width="0.5"/>
<path d="M143.60,233.00Q144.40,233.00 144.50,234.00L144.60,279.30L145.25,279.30L145.30,234.00Q145.40,233.00 146.20,233.00Z" fill="url(#sg)"/>
<path d="M143.60,233.00Q144.40,233.00 144.50,234.00L144.60,279.30" fill="none" stroke="url(#sl)" stroke-width="0.5"/>
<path d="M146.15,233.00Q146.95,233.00 147.05,234.00L147.15,272.90L147.80,272.90L147.85,234.00Q147.95,233.00 148.75,233.00Z" fill="url(#sg)"/>
<path d="M146.15,233.00Q146.95,233.00 147.05,234.00L147.15,272.90" fill="none" stroke="url(#sl)" stroke-width="0.5"/>
<path d="M148.70,233.00Q149.50,233.00 149.60,234.00L149.70,247.80L150.35,247.80L150.40,234.00Q150.50,233.00 151.30,233.00Z" fill="url(#sg)"/>
<path d="M148.70,233.00Q149.50,233.00 149.60,234.00L149.70,247.80" fill="none" stroke="url(#sl)" stroke-width="0.5"/>
<path d="M151.25,233.00Q152.05,233.00 152.15,234.00L152.25,247.20L152.90,247.20L152.95,234.00Q153.05,233.00 153.85,233.00Z" fill="url(#sg)"/>
<path d="M151.25,233.00Q152.05,233.00 152.15,234.00L152.25,247.20" fill="none" stroke="url(#sl)" stroke-width="0.5"/>
<path d="M153.80,233.00Q154.60,233.00 154.70,234.00L154.80,246.10L155.45,246.10L155.50,234.00Q155.60,233.00 156.40,233.00Z" fill="url(#sg)"/>
<path d="M153.80,233.00Q154.60,233.00 154.70,234.00L154.80,246.10" fill="none" stroke="url(#sl)" stroke-width="0.5"/>
<path d="M156.35,233.00Q157.15,233.00 157.25,234.00L157.35,243.70L158.00,243.70L158.05,234.00Q158.15,233.00 158.95,233.00Z" fill="url(#sg)"/>
<path d="M156.35,233.00Q157.15,233.00 157.25,234.00L157.35,243.70" fill="none" stroke="url(#sl)" stroke-width="0.5"/>
<path d="M158.90,233.00Q159.70,233.00 159.80,234.00L159.90,236.00L160.55,236.00L160.60,234.00Q160.70,233.00 161.50,233.00Z" fill="url(#sg)"/>
<path d="M158.90,233.00Q159.70,233.00 159.80,234.00L159.90,236.00" fill="none" stroke="url(#sl)" stroke-width="0.5"/>
<path d="M161.40,233.00Q162.20,233.00 162.30,234.00L162.40,236.62L163.05,236.62L163.10,234.00Q163.20,233.00 164.00,233.00Z" fill="url(#sg)"/>
<path d="M161.40,233.00Q162.20,233.00 162.30,234.00L162.40,236.62" fill="none" stroke="url(#sl)" stroke-width="0.5"/>
<path d="M163.90,233.00Q164.70,233.00 164.80,234.00L164.90,236.50L165.55,236.50L165.60,234.00Q165.70,233.00 166.50,233.00Z" fill="url(#sg)"/>
<path d="M163.90,233.00Q164.70,233.00 164.80,234.00L164.90,236.50" fill="none" stroke="url(#sl)" stroke-width="0.5"/>
<path d="M166.40,233.00Q167.20,233.00 167.30,234.00L167.40,235.72L168.05,235.72L168.10,234.00Q168.20,233.00 169.00,233.00Z" fill="url(#sg)"/>
<path d="M166.40,233.00Q167.20,233.00 167.30,234.00L167.40,235.72" fill="none" stroke="url(#sl)" stroke-width="0.5"/>
<path d="M168.90,233.00Q169.70,233.00 169.80,234.00L169.90,236.35L170.55,236.35L170.60,234.00Q170.70,233.00 171.50,233.00Z" fill="url(#sg)"/>
<path d="M168.90,233.00Q169.70,233.00 169.80,234.00L169.90,236.35" fill="none" stroke="url(#sl)" stroke-width="0.5"/>
<path d="M171.40,233.00Q172.20,233.00 172.30,234.00L172.40,236.46L173.05,236.46L173.10,234.00Q173.20,233.00 174.00,233.00Z" fill="url(#sg)"/>
<path d="M171.40,233.00Q172.20,233.00 172.30,234.00L172.40,236.46" fill="none" stroke="url(#sl)" stroke-width="0.5"/>
<path d="M173.90,233.00Q174.70,233.00 174.80,234.00L174.90,236.12L175.55,236.12L175.60,234.00Q175.70,233.00 176.50,233.00Z" fill="url(#sg)"/>
<path d="M173.90,233.00Q174.70,233.00 174.80,234.00L174.90,236.12" fill="none" stroke="url(#sl)" stroke-width="0.5"/>
<path d="M176.40,233.00Q177.20,233.00 177.30,234.00L177.40,236.05L178.05,236.05L178.10,234.00Q178.20,233.00 179.00,233.00Z" fill="url(#sg)"/>
<path d="M176.40,233.00Q177.20,233.00 177.30,234.00L177.40,236.05" fill="none" stroke="url(#sl)" stroke-width="0.5"/>
<path d="M178.90,233.00Q179.70,233.00 179.80,234.00L179.90,236.47L180.55,236.47L180.60,234.00Q180.70,233.00 181.50,233.00Z" fill="url(#sg)"/>
<path d="M178.90,233.00Q179.70,233.00 179.80,234.00L179.90,236.47" fill="none" stroke="url(#sl)" stroke-width="0.5"/>
<path d="M181.40,233.00Q182.20,233.00 182.30,234.00L182.40,235.61L183.05,235.61L183.10,234.00Q183.20,233.00 184.00,233.00Z" fill="url(#sg)"/>
<path d="M181.40,233.00Q182.20,233.00 182.30,234.00L182.40,235.61" fill="none" stroke="url(#sl)" stroke-width="0.5"/>
<path d="M183.90,233.00Q184.70,233.00 184.80,234.00L184.90,236.16L185.55,236.16L185.60,234.00Q185.70,233.00 186.50,233.00Z" fill="url(#sg)"/>
<path d="M183.90,233.00Q184.70,233.00 184.80,234.00L184.90,236.16" fill="none" stroke="url(#sl)" stroke-width="0.5"/>
<path d="M186.40,233.00Q187.20,233.00 187.30,234.00L187.40,235.91L188.05,235.91L188.10,234.00Q188.20,233.00 189.00,233.00Z" fill="url(#sg)"/>
<path d="M186.40,233.00Q187.20,233.00 187.30,234.00L187.40,235.91" fill="none" stroke="url(#sl)" stroke-width="0.5"/>
<path d="M188.90,233.00Q189.70,233.00 189.80,234.00L189.90,236.13L190.55,236.13L190.60,234.00Q190.70,233.00 191.50,233.00Z" fill="url(#sg)"/>
<path d="M188.90,233.00Q189.70,233.00 189.80,234.00L189.90,236.13" fill="none" stroke="url(#sl)" stroke-width="0.5"/>
<path d="M191.40,233.00Q192.20,233.00 192.30,234.00L192.40,236.26L193.05,236.26L193.10,234.00Q193.20,233.00 194.00,233.00Z" fill="url(#sg)"/>
<path d="M191.40,233.00Q192.20,233.00 192.30,234.00L192.40,236.26" fill="none" stroke="url(#sl)" stroke-width="0.5"/>
<path d="M193.90,233.00Q194.70,233.00 194.80,234.00L194.90,236.10L195.55,236.10L195.60,234.00Q195.70,233.00 196.50,233.00Z" fill="url(#sg)"/>
<path d="M193.90,233.00Q194.70,233.00 194.80,234.00L194.90,236.10" fill="none" stroke="url(#sl)" stroke-width="0.5"/>
<path d="M196.40,233.00Q197.20,233.00 197.30,234.00L197.40,236.65L198.05,236.65L198.10,234.00Q198.20,233.00 199.00,233.00Z" fill="url(#sg)"/>
<path d="M196.40,233.00Q197.20,233.00 197.30,234.00L197.40,236.65" fill="none" stroke="url(#sl)" stroke-width="0.5"/>
<path d="M198.50,233.00Q199.30,233.00 199.40,234.00L199.50,237.00L200.15,237.00L200.20,234.00Q200.30,233.00 201.10,233.00Z" fill="url(#sg)"/>
<path d="M198.50,233.00Q199.30,233.00 199.40,234.00L199.50,237.00" fill="none" stroke="url(#sl)" stroke-width="0.5"/>
<path d="M201.10,233.00Q201.90,233.00 202.00,234.00L202.10,237.00L202.75,237.00L202.80,234.00Q202.90,233.00 203.70,233.00Z" fill="url(#sg)"/>
<path d="M201.10,233.00Q201.90,233.00 202.00,234.00L202.10,237.00" fill="none" stroke="url(#sl)" stroke-width="0.5"/>
<path d="M203.50,233.00Q204.30,233.00 204.40,234.00L204.50,237.50L205.15,237.50L205.20,234.00Q205.30,233.00 206.10,233.00Z" fill="url(#sg)"/>
<path d="M203.50,233.00Q204.30,233.00 204.40,234.00L204.50,237.50" fill="none" stroke="url(#sl)" stroke-width="0.5"/>
<path d="M206.00,233.00Q206.80,233.00 206.90,234.00L207.00,238.50L207.65,238.50L207.70,234.00Q207.80,233.00 208.60,233.00Z" fill="url(#sg)"/>
<path d="M206.00,233.00Q206.80,233.00 206.90,234.00L207.00,238.50" fill="none" stroke="url(#sl)" stroke-width="0.5"/>
<path d="M208.30,233.00Q209.10,233.00 209.20,234.00L209.30,240.50L209.95,240.50L210.00,234.00Q210.10,233.00 210.90,233.00Z" fill="url(#sg)"/>
<path d="M208.30,233.00Q209.10,233.00 209.20,234.00L209.30,240.50" fill="none" stroke="url(#sl)" stroke-width="0.5"/>
<path d="M210.60,233.00Q211.40,233.00 211.50,234.00L211.60,241.00L212.25,241.00L212.30,234.00Q212.40,233.00 213.20,233.00Z" fill="url(#sg)"/>
<path d="M210.60,233.00Q211.40,233.00 211.50,234.00L211.60,241.00" fill="none" stroke="url(#sl)" stroke-width="0.5"/>
<path d="M213.00,233.00Q213.80,233.00 213.90,234.00L214.00,241.20L214.65,241.20L214.70,234.00Q214.80,233.00 215.60,233.00Z" fill="url(#sg)"/>
<path d="M213.00,233.00Q213.80,233.00 213.90,234.00L214.00,241.20" fill="none" stroke="url(#sl)" stroke-width="0.5"/>
<path d="M215.20,233.00Q216.00,233.00 216.10,234.00L216.20,241.00L216.85,241.00L216.90,234.00Q217.00,233.00 217.80,233.00Z" fill="url(#sg)"/>
<path d="M215.20,233.00Q216.00,233.00 216.10,234.00L216.20,241.00" fill="none" stroke="url(#sl)" stroke-width="0.5"/>
<path d="M217.40,233.00Q218.20,233.00 218.30,234.00L218.40,240.60L219.05,240.60L219.10,234.00Q219.20,233.00 220.00,233.00Z" fill="url(#sg)"/>
<path d="M217.40,233.00Q218.20,233.00 218.30,234.00L218.40,240.60" fill="none" stroke="url(#sl)" stroke-width="0.5"/>
<path d="M135.6,233.0L135.9,233.0L136.2,233.0L136.5,233.0L136.8,233.0L137.1,232.9L137.4,233.0L137.7,233.1L138.0,233.0L138.3,232.9L138.6,233.1L138.9,233.0L139.2,232.9L139.5,233.0L139.8,233.0L140.1,233.0L140.4,233.1L140.7,233.0L141.0,233.0L141.3,232.9L141.6,232.9L141.9,233.0L142.2,233.0L142.5,233.0L142.8,233.0L143.1,233.0L143.4,232.9L143.7,232.9L144.0,233.0L144.3,233.0L144.6,233.0L144.9,232.9L145.2,233.0L145.5,232.9L145.8,233.0L146.1,233.0L146.4,233.0L146.7,233.0L147.0,233.0L147.3,233.0L147.6,233.1L147.9,233.0L148.2,233.1L148.5,233.0L148.8,233.0L149.1,233.0L149.4,233.0L149.7,233.0L150.0,233.0L150.3,233.0L150.6,233.0L150.9,233.0L151.2,233.0L151.5,233.0L151.8,232.9L152.1,233.0L152.4,233.1L152.7,233.0L153.0,233.0L153.3,233.0L153.6,233.0L153.9,233.0L154.2,232.9L154.5,232.9L154.8,233.0L155.1,233.0L155.4,233.1L155.7,232.9L156.0,233.0L156.3,232.9L156.6,233.0L156.9,233.0L157.2,233.0L157.5,233.0L157.8,233.0L158.1,233.0L158.4,233.1L158.7,233.0L159.0,233.0L159.3,233.0L159.6,233.0L159.9,233.1L160.2,232.9L160.5,233.0L160.8,232.9L161.1,233.0L161.4,233.0L161.7,233.2L162.0,233.0L162.3,233.1L162.6,233.1L162.9,233.0L163.2,233.0L163.5,233.1L163.8,233.0L164.1,233.0L164.4,233.0L164.7,232.9L165.0,233.0L165.3,233.0L165.6,233.0L165.9,233.0L166.2,233.0L166.5,233.0L166.8,233.0L167.1,233.0L167.4,233.0L167.7,233.0L168.0,232.9L168.3,233.0L168.6,233.0L168.9,232.9L169.2,233.0L169.5,233.0L169.8,233.0L170.1,233.0L170.4,233.0L170.7,233.0L171.0,233.0L171.3,233.0L171.6,233.1L171.9,232.9L172.2,233.0L172.5,233.0L172.8,233.0L173.1,233.0L173.4,232.9L173.7,233.1L174.0,233.0L174.3,233.0L174.6,232.9L174.9,233.0L175.2,233.0L175.5,233.0L175.8,233.0L176.1,233.0L176.4,233.0L176.7,233.0L177.0,233.0L177.3,233.0L177.6,233.0L177.9,233.0L178.2,233.0L178.5,233.0L178.8,233.0L179.1,233.0L179.4,233.1L179.7,233.0L180.0,233.0L180.3,233.0L180.6,233.1L180.9,232.9L181.2,233.1L181.5,233.0L181.8,232.9L182.1,233.0L182.4,233.1L182.7,233.0L183.0,232.9L183.3,233.0L183.6,233.1L183.9,232.9L184.2,233.0L184.5,233.0L184.8,233.1L185.1,233.0L185.4,233.1L185.7,233.0L186.0,233.0L186.3,233.0L186.6,233.0L186.9,232.9L187.2,233.0L187.5,233.0L187.8,233.0L188.1,233.0L188.4,233.0L188.7,233.0L189.0,233.0L189.3,233.0L189.6,233.0L189.9,232.9L190.2,233.0L190.5,232.9L190.8,233.0L191.1,233.0L191.4,233.0L191.7,233.0L192.0,233.1L192.3,233.1L192.6,232.9L192.9,233.1L193.2,233.0L193.5,233.0L193.8,233.0L194.1,233.0L194.4,233.1L194.7,233.0L195.0,233.0L195.3,233.0L195.6,233.0L195.9,233.0L196.2,233.1L196.5,233.0L196.8,233.0L197.1,233.0L197.4,233.0L197.7,233.0L198.0,233.0L198.3,232.9L198.6,233.0L198.9,233.1L199.2,233.0L199.5,233.0L199.8,233.0L200.1,233.0L200.4,233.0L200.7,233.0L201.0,232.9L201.3,233.0L201.6,233.0L201.9,233.0L202.2,233.0L202.5,233.0L202.8,233.0L203.1,233.0L203.4,233.0L203.7,233.0L204.0,233.0L204.3,232.9L204.6,232.9L204.9,233.0L205.2,233.0L205.5,233.0L205.8,233.0L206.1,233.1L206.4,232.9L206.7,233.0L207.0,233.0L207.3,233.0L207.6,233.1L207.9,232.9L208.2,233.0L208.5,233.0L208.8,233.0L209.1,233.0L209.4,233.0L209.7,233.0L210.0,233.0L210.3,233.0L210.6,233.0L210.9,232.9L211.2,233.1L211.5,233.0L211.8,233.0L212.1,233.0L212.4,233.0L212.7,233.0L213.0,233.0L213.3,233.1L213.6,233.0L213.9,233.0L214.2,233.0L214.5,233.0L214.8,233.0L215.1,233.0L215.4,233.0L215.7,233.0L216.0,233.0L216.3,233.0L216.6,233.1L216.9,233.0L217.2,233.0L217.5,233.0L217.8,233.1L218.1,233.0L218.4,233.0L218.7,233.0L219.0,233.0L219.3,233.0" fill="none" stroke="#33628f" stroke-width="1.0" stroke-linejoin="round" stroke-linecap="round"/>
<text x="121.38" y="260.10" font-size="4.4" fill="#8c8c8c" text-anchor="middle" stroke="#8c8c8c" stroke-width="0.1" transform="rotate(-90 121.38 260.10)">DP (μW)</text>
<text x="176.20" y="300.66" font-size="4.6" fill="#8c8c8c" text-anchor="middle" stroke="#8c8c8c" stroke-width="0.1">Time (min)</text>
<line x1="136.20" y1="308.00" x2="136.20" y2="368.20" stroke="#777" stroke-width="0.5"/>
<line x1="136.20" y1="368.20" x2="223.60" y2="368.20" stroke="#777" stroke-width="0.5"/>
<line x1="134.90" y1="315.40" x2="136.20" y2="315.40" stroke="#777" stroke-width="0.5"/>
<text x="134.40" y="317.02" font-size="4.5" fill="#333" text-anchor="end" stroke="#333" stroke-width="0.06">-10</text>
<line x1="134.90" y1="324.40" x2="136.20" y2="324.40" stroke="#777" stroke-width="0.5"/>
<text x="134.40" y="326.02" font-size="4.5" fill="#333" text-anchor="end" stroke="#333" stroke-width="0.06">-20</text>
<line x1="134.90" y1="333.40" x2="136.20" y2="333.40" stroke="#777" stroke-width="0.5"/>
<text x="134.40" y="335.02" font-size="4.5" fill="#333" text-anchor="end" stroke="#333" stroke-width="0.06">-30</text>
<line x1="134.90" y1="342.40" x2="136.20" y2="342.40" stroke="#777" stroke-width="0.5"/>
<text x="134.40" y="344.02" font-size="4.5" fill="#333" text-anchor="end" stroke="#333" stroke-width="0.06">-40</text>
<line x1="134.90" y1="351.40" x2="136.20" y2="351.40" stroke="#777" stroke-width="0.5"/>
<text x="134.40" y="353.02" font-size="4.5" fill="#333" text-anchor="end" stroke="#333" stroke-width="0.06">-50</text>
<line x1="134.90" y1="360.40" x2="136.20" y2="360.40" stroke="#777" stroke-width="0.5"/>
<text x="134.40" y="362.02" font-size="4.5" fill="#333" text-anchor="end" stroke="#333" stroke-width="0.06">-60</text>
<line x1="135.40" y1="319.90" x2="136.20" y2="319.90" stroke="#777" stroke-width="0.4"/>
<line x1="135.40" y1="328.90" x2="136.20" y2="328.90" stroke="#777" stroke-width="0.4"/>
<line x1="135.40" y1="337.90" x2="136.20" y2="337.90" stroke="#777" stroke-width="0.4"/>
<line x1="135.40" y1="346.90" x2="136.20" y2="346.90" stroke="#777" stroke-width="0.4"/>
<line x1="135.40" y1="355.90" x2="136.20" y2="355.90" stroke="#777" stroke-width="0.4"/>
<line x1="135.40" y1="364.90" x2="136.20" y2="364.90" stroke="#777" stroke-width="0.4"/>
<line x1="135.40" y1="310.90" x2="136.20" y2="310.90" stroke="#777" stroke-width="0.4"/>
<line x1="136.20" y1="368.20" x2="136.20" y2="369.50" stroke="#777" stroke-width="0.5"/>
<text x="136.20" y="374.75" font-size="4.3" fill="#333" text-anchor="middle" stroke="#333" stroke-width="0.06">0</text>
<line x1="144.50" y1="368.20" x2="144.50" y2="369.50" stroke="#777" stroke-width="0.5"/>
<text x="144.50" y="374.75" font-size="4.3" fill="#333" text-anchor="middle" stroke="#333" stroke-width="0.06">0.2</text>
<line x1="152.80" y1="368.20" x2="152.80" y2="369.50" stroke="#777" stroke-width="0.5"/>
<text x="152.80" y="374.75" font-size="4.3" fill="#333" text-anchor="middle" stroke="#333" stroke-width="0.06">0.4</text>
<line x1="161.10" y1="368.20" x2="161.10" y2="369.50" stroke="#777" stroke-width="0.5"/>
<text x="161.10" y="374.75" font-size="4.3" fill="#333" text-anchor="middle" stroke="#333" stroke-width="0.06">0.6</text>
<line x1="169.40" y1="368.20" x2="169.40" y2="369.50" stroke="#777" stroke-width="0.5"/>
<text x="169.40" y="374.75" font-size="4.3" fill="#333" text-anchor="middle" stroke="#333" stroke-width="0.06">0.8</text>
<line x1="177.70" y1="368.20" x2="177.70" y2="369.50" stroke="#777" stroke-width="0.5"/>
<text x="177.70" y="374.75" font-size="4.3" fill="#333" text-anchor="middle" stroke="#333" stroke-width="0.06">1</text>
<line x1="186.00" y1="368.20" x2="186.00" y2="369.50" stroke="#777" stroke-width="0.5"/>
<text x="186.00" y="374.75" font-size="4.3" fill="#333" text-anchor="middle" stroke="#333" stroke-width="0.06">1.2</text>
<line x1="194.30" y1="368.20" x2="194.30" y2="369.50" stroke="#777" stroke-width="0.5"/>
<text x="194.30" y="374.75" font-size="4.3" fill="#333" text-anchor="middle" stroke="#333" stroke-width="0.06">1.4</text>
<line x1="202.60" y1="368.20" x2="202.60" y2="369.50" stroke="#777" stroke-width="0.5"/>
<text x="202.60" y="374.75" font-size="4.3" fill="#333" text-anchor="middle" stroke="#333" stroke-width="0.06">1.6</text>
<line x1="210.90" y1="368.20" x2="210.90" y2="369.50" stroke="#777" stroke-width="0.5"/>
<text x="210.90" y="374.75" font-size="4.3" fill="#333" text-anchor="middle" stroke="#333" stroke-width="0.06">1.8</text>
<line x1="219.20" y1="368.20" x2="219.20" y2="369.50" stroke="#777" stroke-width="0.5"/>
<text x="219.20" y="374.75" font-size="4.3" fill="#333" text-anchor="middle" stroke="#333" stroke-width="0.06">2</text>
<line x1="140.35" y1="368.20" x2="140.35" y2="369.00" stroke="#777" stroke-width="0.4"/>
<line x1="148.65" y1="368.20" x2="148.65" y2="369.00" stroke="#777" stroke-width="0.4"/>
<line x1="156.95" y1="368.20" x2="156.95" y2="369.00" stroke="#777" stroke-width="0.4"/>
<line x1="165.25" y1="368.20" x2="165.25" y2="369.00" stroke="#777" stroke-width="0.4"/>
<line x1="173.55" y1="368.20" x2="173.55" y2="369.00" stroke="#777" stroke-width="0.4"/>
<line x1="181.85" y1="368.20" x2="181.85" y2="369.00" stroke="#777" stroke-width="0.4"/>
<line x1="190.15" y1="368.20" x2="190.15" y2="369.00" stroke="#777" stroke-width="0.4"/>
<line x1="198.45" y1="368.20" x2="198.45" y2="369.00" stroke="#777" stroke-width="0.4"/>
<line x1="206.75" y1="368.20" x2="206.75" y2="369.00" stroke="#777" stroke-width="0.4"/>
<line x1="215.05" y1="368.20" x2="215.05" y2="369.00" stroke="#777" stroke-width="0.4"/>
<path d="M136.2,364.2L136.6,364.2L137.0,364.2L137.5,364.2L137.9,364.2L138.3,364.2L138.7,364.2L139.1,364.2L139.5,364.2L140.0,364.2L140.4,364.2L140.8,364.2L141.2,364.2L141.6,364.2L142.0,364.2L142.5,364.2L142.9,364.2L143.3,364.2L143.7,364.2L144.1,364.2L144.5,364.2L145.0,364.2L145.4,364.2L145.8,364.2L146.2,364.2L146.6,364.2L147.0,364.2L147.5,364.2L147.9,364.2L148.3,364.2L148.7,364.1L149.1,364.1L149.5,364.1L150.0,364.1L150.4,364.1L150.8,364.1L151.2,364.1L151.6,364.1L152.0,364.1L152.5,364.1L152.9,364.1L153.3,364.1L153.7,364.1L154.1,364.1L154.6,364.1L155.0,364.1L155.4,364.1L155.8,364.0L156.2,364.0L156.6,364.0L157.1,364.0L157.5,364.0L157.9,364.0L158.3,364.0L158.7,364.0L159.1,364.0L159.6,364.0L160.0,364.0L160.4,363.9L160.8,363.9L161.2,363.9L161.6,363.9L162.1,363.9L162.5,363.9L162.9,363.9L163.3,363.9L163.7,363.8L164.1,363.8L164.6,363.8L165.0,363.8L165.4,363.8L165.8,363.7L166.2,363.5L166.6,363.3L167.1,363.1L167.5,362.8L167.9,362.5L168.3,362.1L168.7,361.7L169.1,361.4L169.6,360.8L170.0,360.2L170.4,359.4L170.8,358.4L171.2,357.4L171.7,356.1L172.1,354.6L172.5,352.7L172.9,350.7L173.3,348.2L173.7,345.1L174.2,341.8L174.6,338.7L175.0,335.7L175.4,332.8L175.8,329.9L176.2,327.2L176.7,324.7L177.1,322.1L177.5,319.8L177.9,318.1L178.3,317.0L178.7,316.1L179.2,315.4L179.6,314.7L180.0,314.2L180.4,313.8L180.8,313.5L181.2,313.3L181.7,313.0L182.1,312.8L182.5,312.6L182.9,312.4L183.3,312.3L183.7,312.2L184.2,312.2L184.6,312.2L185.0,312.2L185.4,312.2L185.8,312.2L186.3,312.2L186.7,312.2L187.1,312.2L187.5,312.2L187.9,312.2L188.3,312.2L188.8,312.2L189.2,312.2L189.6,312.2L190.0,312.2L190.4,312.2L190.8,312.2L191.3,312.2L191.7,312.2L192.1,312.2L192.5,312.2L192.9,312.2L193.3,312.2L193.8,312.2L194.2,312.2L194.6,312.2L195.0,312.2L195.4,312.2L195.8,312.2L196.3,312.2L196.7,312.2L197.1,312.2L197.5,312.2L197.9,312.2L198.3,312.2L198.8,312.2L199.2,312.2L199.6,312.2L200.0,312.2L200.4,312.2L200.8,312.2L201.3,312.2L201.7,312.2L202.1,312.2L202.5,312.2L202.9,312.2L203.4,312.2L203.8,312.2L204.2,312.2L204.6,312.2L205.0,312.2L205.4,312.2L205.9,312.2L206.3,312.2L206.7,312.2L207.1,312.2L207.5,312.2L207.9,312.2L208.4,312.2L208.8,312.2L209.2,312.2L209.6,312.2L210.0,312.2L210.4,312.2L210.9,312.2L211.3,312.2L211.7,312.2L212.1,312.2L212.5,312.2L212.9,312.2L213.4,312.2L213.8,312.2L214.2,312.2L214.6,312.2L215.0,312.2L215.4,312.2L215.9,312.2L216.3,312.2L216.7,312.2L217.1,312.2L217.5,312.2L217.9,312.2L218.4,312.2L218.8,312.2L219.2,312.2" fill="none" stroke="#35a3c3" stroke-width="0.95" stroke-linejoin="round" stroke-linecap="round"/>
<rect x="142.50" y="360.20" width="1.4" height="1.4" fill="#1d3a66"/>
<rect x="149.20" y="364.00" width="1.4" height="1.4" fill="#1d3a66"/>
<rect x="155.10" y="363.70" width="1.4" height="1.4" fill="#1d3a66"/>
<rect x="161.40" y="363.70" width="1.4" height="1.4" fill="#1d3a66"/>
<rect x="164.40" y="364.30" width="1.4" height="1.4" fill="#1d3a66"/>
<rect x="166.20" y="361.30" width="1.4" height="1.4" fill="#1d3a66"/>
<rect x="168.40" y="359.60" width="1.4" height="1.4" fill="#1d3a66"/>
<rect x="171.30" y="355.30" width="1.4" height="1.4" fill="#1d3a66"/>
<rect x="172.20" y="351.80" width="1.4" height="1.4" fill="#1d3a66"/>
<rect x="173.00" y="342.20" width="1.4" height="1.4" fill="#1d3a66"/>
<rect x="173.90" y="339.50" width="1.4" height="1.4" fill="#1d3a66"/>
<rect x="174.80" y="334.30" width="1.4" height="1.4" fill="#1d3a66"/>
<rect x="175.10" y="329.90" width="1.4" height="1.4" fill="#1d3a66"/>
<rect x="175.70" y="328.70" width="1.4" height="1.4" fill="#1d3a66"/>
<rect x="176.90" y="317.70" width="1.4" height="1.4" fill="#1d3a66"/>
<rect x="177.90" y="314.70" width="1.4" height="1.4" fill="#1d3a66"/>
<rect x="179.20" y="321.20" width="1.4" height="1.4" fill="#1d3a66"/>
<rect x="179.70" y="322.40" width="1.4" height="1.4" fill="#1d3a66"/>
<rect x="180.90" y="315.00" width="1.4" height="1.4" fill="#1d3a66"/>
<rect x="184.40" y="311.90" width="1.4" height="1.4" fill="#1d3a66"/>
<rect x="187.00" y="311.50" width="1.4" height="1.4" fill="#1d3a66"/>
<rect x="189.70" y="311.20" width="1.4" height="1.4" fill="#1d3a66"/>
<rect x="197.50" y="311.20" width="1.4" height="1.4" fill="#1d3a66"/>
<rect x="204.50" y="311.90" width="1.4" height="1.4" fill="#1d3a66"/>
<rect x="211.50" y="311.90" width="1.4" height="1.4" fill="#1d3a66"/>
<rect x="218.50" y="311.90" width="1.4" height="1.4" fill="#1d3a66"/>
<text x="121.56" y="340.30" font-size="4.6" fill="#8c8c8c" text-anchor="middle" stroke="#8c8c8c" stroke-width="0.1" transform="rotate(-90 121.56 340.30)">ΔH (kJ/mol)</text>
<text x="177.50" y="380.96" font-size="4.6" fill="#8c8c8c" text-anchor="middle" stroke="#8c8c8c" stroke-width="0.1">Molar Ratio</text>
<text x="232.20" y="231.70" font-size="10.8" fill="#000" stroke="#000" stroke-width="0.15">G</text>
<text x="291.30" y="229.48" font-size="6.9" fill="#000" text-anchor="middle" stroke="#000" stroke-width="0.03">LaM8 to mCherry</text>
<line x1="248.10" y1="229.90" x2="248.10" y2="288.60" stroke="#777" stroke-width="0.5"/>
<line x1="248.10" y1="288.60" x2="337.00" y2="288.60" stroke="#777" stroke-width="0.5"/>
<line x1="246.80" y1="233.90" x2="248.10" y2="233.90" stroke="#777" stroke-width="0.5"/>
<text x="246.30" y="235.52" font-size="4.5" fill="#333" text-anchor="end" stroke="#333" stroke-width="0.06">0</text>
<line x1="246.80" y1="247.70" x2="248.10" y2="247.70" stroke="#777" stroke-width="0.5"/>
<text x="246.30" y="249.32" font-size="4.5" fill="#333" text-anchor="end" stroke="#333" stroke-width="0.06">-0.2</text>
<line x1="246.80" y1="261.50" x2="248.10" y2="261.50" stroke="#777" stroke-width="0.5"/>
<text x="246.30" y="263.12" font-size="4.5" fill="#333" text-anchor="end" stroke="#333" stroke-width="0.06">-0.4</text>
<line x1="246.80" y1="275.30" x2="248.10" y2="275.30" stroke="#777" stroke-width="0.5"/>
<text x="246.30" y="276.92" font-size="4.5" fill="#333" text-anchor="end" stroke="#333" stroke-width="0.06">-0.6</text>
<line x1="247.30" y1="240.80" x2="248.10" y2="240.80" stroke="#777" stroke-width="0.4"/>
<line x1="247.30" y1="254.60" x2="248.10" y2="254.60" stroke="#777" stroke-width="0.4"/>
<line x1="247.30" y1="268.40" x2="248.10" y2="268.40" stroke="#777" stroke-width="0.4"/>
<line x1="247.30" y1="282.20" x2="248.10" y2="282.20" stroke="#777" stroke-width="0.4"/>
<line x1="247.90" y1="288.60" x2="247.90" y2="289.90" stroke="#777" stroke-width="0.5"/>
<text x="247.90" y="295.15" font-size="4.3" fill="#333" text-anchor="middle" stroke="#333" stroke-width="0.06">0</text>
<line x1="258.90" y1="288.60" x2="258.90" y2="289.90" stroke="#777" stroke-width="0.5"/>
<text x="258.90" y="295.15" font-size="4.3" fill="#333" text-anchor="middle" stroke="#333" stroke-width="0.06">5</text>
<line x1="269.90" y1="288.60" x2="269.90" y2="289.90" stroke="#777" stroke-width="0.5"/>
<text x="269.90" y="295.15" font-size="4.3" fill="#333" text-anchor="middle" stroke="#333" stroke-width="0.06">10</text>
<line x1="280.90" y1="288.60" x2="280.90" y2="289.90" stroke="#777" stroke-width="0.5"/>
<text x="280.90" y="295.15" font-size="4.3" fill="#333" text-anchor="middle" stroke="#333" stroke-width="0.06">15</text>
<line x1="291.90" y1="288.60" x2="291.90" y2="289.90" stroke="#777" stroke-width="0.5"/>
<text x="291.90" y="295.15" font-size="4.3" fill="#333" text-anchor="middle" stroke="#333" stroke-width="0.06">20</text>
<line x1="302.90" y1="288.60" x2="302.90" y2="289.90" stroke="#777" stroke-width="0.5"/>
<text x="302.90" y="295.15" font-size="4.3" fill="#333" text-anchor="middle" stroke="#333" stroke-width="0.06">25</text>
<line x1="313.90" y1="288.60" x2="313.90" y2="289.90" stroke="#777" stroke-width="0.5"/>
<text x="313.90" y="295.15" font-size="4.3" fill="#333" text-anchor="middle" stroke="#333" stroke-width="0.06">30</text>
<line x1="324.90" y1="288.60" x2="324.90" y2="289.90" stroke="#777" stroke-width="0.5"/>
<text x="324.90" y="295.15" font-size="4.3" fill="#333" text-anchor="middle" stroke="#333" stroke-width="0.06">35</text>
<line x1="335.90" y1="288.60" x2="335.90" y2="289.90" stroke="#777" stroke-width="0.5"/>
<text x="335.90" y="295.15" font-size="4.3" fill="#333" text-anchor="middle" stroke="#333" stroke-width="0.06">40</text>
<line x1="253.40" y1="288.60" x2="253.40" y2="289.40" stroke="#777" stroke-width="0.4"/>
<line x1="264.40" y1="288.60" x2="264.40" y2="289.40" stroke="#777" stroke-width="0.4"/>
<line x1="275.40" y1="288.60" x2="275.40" y2="289.40" stroke="#777" stroke-width="0.4"/>
<line x1="286.40" y1="288.60" x2="286.40" y2="289.40" stroke="#777" stroke-width="0.4"/>
<line x1="297.40" y1="288.60" x2="297.40" y2="289.40" stroke="#777" stroke-width="0.4"/>
<line x1="308.40" y1="288.60" x2="308.40" y2="289.40" stroke="#777" stroke-width="0.4"/>
<line x1="319.40" y1="288.60" x2="319.40" y2="289.40" stroke="#777" stroke-width="0.4"/>
<line x1="330.40" y1="288.60" x2="330.40" y2="289.40" stroke="#777" stroke-width="0.4"/>
<path d="M249.30,233.90L249.90,233.30L250.50,234.30L251.00,233.90" fill="none" stroke="#33628f" stroke-width="0.7" stroke-linejoin="round"/>
<path d="M251.30,233.90L251.90,233.30L252.50,234.30L253.00,233.90" fill="none" stroke="#33628f" stroke-width="0.7" stroke-linejoin="round"/>
<path d="M253.10,233.90Q253.90,233.90 254.00,234.90L254.10,283.40L254.75,283.40L254.80,234.90Q254.90,233.90 255.70,233.90Z" fill="url(#sg)"/>
<path d="M253.10,233.90Q253.90,233.90 254.00,234.90L254.10,283.40" fill="none" stroke="url(#sl)" stroke-width="0.5"/>
<path d="M256.40,233.90Q257.20,233.90 257.30,234.90L257.40,287.80L258.05,287.80L258.10,234.90Q258.20,233.90 259.00,233.90Z" fill="url(#sg)"/>
<path d="M256.40,233.90Q257.20,233.90 257.30,234.90L257.40,287.80" fill="none" stroke="url(#sl)" stroke-width="0.5"/>
<path d="M259.70,233.90Q260.50,233.90 260.60,234.90L260.70,284.90L261.35,284.90L261.40,234.90Q261.50,233.90 262.30,233.90Z" fill="url(#sg)"/>
<path d="M259.70,233.90Q260.50,233.90 260.60,234.90L260.70,284.90" fill="none" stroke="url(#sl)" stroke-width="0.5"/>
<path d="M263.00,233.90Q263.80,233.90 263.90,234.90L264.00,284.10L264.65,284.10L264.70,234.90Q264.80,233.90 265.60,233.90Z" fill="url(#sg)"/>
<path d="M263.00,233.90Q263.80,233.90 263.90,234.90L264.00,284.10" fill="none" stroke="url(#sl)" stroke-width="0.5"/>
<path d="M266.30,233.90Q267.10,233.90 267.20,234.90L267.30,277.60L267.95,277.60L268.00,234.90Q268.10,233.90 268.90,233.90Z" fill="url(#sg)"/>
<path d="M266.30,233.90Q267.10,233.90 267.20,234.90L267.30,277.60" fill="none" stroke="url(#sl)" stroke-width="0.5"/>
<path d="M269.60,233.90Q270.40,233.90 270.50,234.90L270.60,274.60L271.25,274.60L271.30,234.90Q271.40,233.90 272.20,233.90Z" fill="url(#sg)"/>
<path d="M269.60,233.90Q270.40,233.90 270.50,234.90L270.60,274.60" fill="none" stroke="url(#sl)" stroke-width="0.5"/>
<path d="M272.90,233.90Q273.70,233.90 273.80,234.90L273.90,271.70L274.55,271.70L274.60,234.90Q274.70,233.90 275.50,233.90Z" fill="url(#sg)"/>
<path d="M272.90,233.90Q273.70,233.90 273.80,234.90L273.90,271.70" fill="none" stroke="url(#sl)" stroke-width="0.5"/>
<path d="M276.20,233.90Q277.00,233.90 277.10,234.90L277.20,265.20L277.85,265.20L277.90,234.90Q278.00,233.90 278.80,233.90Z" fill="url(#sg)"/>
<path d="M276.20,233.90Q277.00,233.90 277.10,234.90L277.20,265.20" fill="none" stroke="url(#sl)" stroke-width="0.5"/>
<path d="M279.50,233.90Q280.30,233.90 280.40,234.90L280.50,255.70L281.15,255.70L281.20,234.90Q281.30,233.90 282.10,233.90Z" fill="url(#sg)"/>
<path d="M279.50,233.90Q280.30,233.90 280.40,234.90L280.50,255.70" fill="none" stroke="url(#sl)" stroke-width="0.5"/>
<path d="M282.80,233.90Q283.60,233.90 283.70,234.90L283.80,255.70L284.45,255.70L284.50,234.90Q284.60,233.90 285.40,233.90Z" fill="url(#sg)"/>
<path d="M282.80,233.90Q283.60,233.90 283.70,234.90L283.80,255.70" fill="none" stroke="url(#sl)" stroke-width="0.5"/>
<path d="M286.10,233.90Q286.90,233.90 287.00,234.90L287.10,247.00L287.75,247.00L287.80,234.90Q287.90,233.90 288.70,233.90Z" fill="url(#sg)"/>
<path d="M286.10,233.90Q286.90,233.90 287.00,234.90L287.10,247.00" fill="none" stroke="url(#sl)" stroke-width="0.5"/>
<path d="M289.40,233.90Q290.20,233.90 290.30,234.90L290.40,243.30L291.05,243.30L291.10,234.90Q291.20,233.90 292.00,233.90Z" fill="url(#sg)"/>
<path d="M289.40,233.90Q290.20,233.90 290.30,234.90L290.40,243.30" fill="none" stroke="url(#sl)" stroke-width="0.5"/>
<path d="M292.70,233.90Q293.50,233.90 293.60,234.90L293.70,241.10L294.35,241.10L294.40,234.90Q294.50,233.90 295.30,233.90Z" fill="url(#sg)"/>
<path d="M292.70,233.90Q293.50,233.90 293.60,234.90L293.70,241.10" fill="none" stroke="url(#sl)" stroke-width="0.5"/>
<path d="M296.00,233.90Q296.80,233.90 296.90,234.90L297.00,241.00L297.65,241.00L297.70,234.90Q297.80,233.90 298.60,233.90Z" fill="url(#sg)"/>
<path d="M296.00,233.90Q296.80,233.90 296.90,234.90L297.00,241.00" fill="none" stroke="url(#sl)" stroke-width="0.5"/>
<path d="M299.30,233.90Q300.10,233.90 300.20,234.90L300.30,240.80L300.95,240.80L301.00,234.90Q301.10,233.90 301.90,233.90Z" fill="url(#sg)"/>
<path d="M299.30,233.90Q300.10,233.90 300.20,234.90L300.30,240.80" fill="none" stroke="url(#sl)" stroke-width="0.5"/>
<path d="M302.60,233.90Q303.40,233.90 303.50,234.90L303.60,240.60L304.25,240.60L304.30,234.90Q304.40,233.90 305.20,233.90Z" fill="url(#sg)"/>
<path d="M302.60,233.90Q303.40,233.90 303.50,234.90L303.60,240.60" fill="none" stroke="url(#sl)" stroke-width="0.5"/>
<path d="M305.90,233.90Q306.70,233.90 306.80,234.90L306.90,240.50L307.55,240.50L307.60,234.90Q307.70,233.90 308.50,233.90Z" fill="url(#sg)"/>
<path d="M305.90,233.90Q306.70,233.90 306.80,234.90L306.90,240.50" fill="none" stroke="url(#sl)" stroke-width="0.5"/>
<path d="M309.20,233.90Q310.00,233.90 310.10,234.90L310.20,240.40L310.85,240.40L310.90,234.90Q311.00,233.90 311.80,233.90Z" fill="url(#sg)"/>
<path d="M309.20,233.90Q310.00,233.90 310.10,234.90L310.20,240.40" fill="none" stroke="url(#sl)" stroke-width="0.5"/>
<path d="M312.50,233.90Q313.30,233.90 313.40,234.90L313.50,240.40L314.15,240.40L314.20,234.90Q314.30,233.90 315.10,233.90Z" fill="url(#sg)"/>
<path d="M312.50,233.90Q313.30,233.90 313.40,234.90L313.50,240.40" fill="none" stroke="url(#sl)" stroke-width="0.5"/>
<path d="M315.80,233.90Q316.60,233.90 316.70,234.90L316.80,240.40L317.45,240.40L317.50,234.90Q317.60,233.90 318.40,233.90Z" fill="url(#sg)"/>
<path d="M315.80,233.90Q316.60,233.90 316.70,234.90L316.80,240.40" fill="none" stroke="url(#sl)" stroke-width="0.5"/>
<path d="M319.10,233.90Q319.90,233.90 320.00,234.90L320.10,240.40L320.75,240.40L320.80,234.90Q320.90,233.90 321.70,233.90Z" fill="url(#sg)"/>
<path d="M319.10,233.90Q319.90,233.90 320.00,234.90L320.10,240.40" fill="none" stroke="url(#sl)" stroke-width="0.5"/>
<path d="M322.40,233.90Q323.20,233.90 323.30,234.90L323.40,240.40L324.05,240.40L324.10,234.90Q324.20,233.90 325.00,233.90Z" fill="url(#sg)"/>
<path d="M322.40,233.90Q323.20,233.90 323.30,234.90L323.40,240.40" fill="none" stroke="url(#sl)" stroke-width="0.5"/>
<path d="M325.70,233.90Q326.50,233.90 326.60,234.90L326.70,240.40L327.35,240.40L327.40,234.90Q327.50,233.90 328.30,233.90Z" fill="url(#sg)"/>
<path d="M325.70,233.90Q326.50,233.90 326.60,234.90L326.70,240.40" fill="none" stroke="url(#sl)" stroke-width="0.5"/>
<path d="M329.00,233.90Q329.80,233.90 329.90,234.90L330.00,240.40L330.65,240.40L330.70,234.90Q330.80,233.90 331.60,233.90Z" fill="url(#sg)"/>
<path d="M329.00,233.90Q329.80,233.90 329.90,234.90L330.00,240.40" fill="none" stroke="url(#sl)" stroke-width="0.5"/>
<path d="M248.3,233.9L248.6,233.9L248.9,233.9L249.2,233.9L249.5,233.9L249.8,233.9L250.1,233.9L250.4,233.9L250.7,233.9L251.0,233.8L251.3,233.9L251.6,233.8L251.9,233.9L252.2,233.9L252.5,233.8L252.8,233.9L253.1,233.9L253.4,233.9L253.7,233.9L254.0,233.9L254.3,234.0L254.6,233.9L254.9,233.9L255.2,233.8L255.5,233.9L255.8,233.9L256.1,233.9L256.4,233.9L256.7,233.9L257.0,234.0L257.3,233.9L257.6,233.9L257.9,233.9L258.2,234.0L258.5,234.0L258.8,233.9L259.1,233.9L259.4,233.9L259.7,233.9L260.0,233.9L260.3,233.9L260.6,233.9L260.9,233.9L261.2,233.9L261.5,233.9L261.8,233.8L262.1,233.9L262.4,234.0L262.7,233.9L263.0,233.9L263.3,233.8L263.6,233.9L263.9,233.8L264.2,233.8L264.5,233.9L264.8,234.0L265.1,233.9L265.4,233.8L265.7,233.9L266.0,233.9L266.3,234.0L266.6,233.8L266.9,233.8L267.2,233.9L267.5,233.9L267.8,233.9L268.1,233.9L268.4,233.8L268.7,233.9L269.0,233.9L269.3,233.9L269.6,233.9L269.9,233.9L270.2,233.9L270.5,233.9L270.8,233.9L271.1,234.0L271.4,233.9L271.7,234.0L272.0,233.8L272.3,233.9L272.6,233.9L272.9,233.9L273.2,233.9L273.5,233.9L273.8,233.9L274.1,233.9L274.4,233.9L274.7,233.9L275.0,233.9L275.3,234.0L275.6,233.9L275.9,233.9L276.2,233.9L276.5,233.9L276.8,233.9L277.1,233.9L277.4,233.9L277.7,234.0L278.0,233.9L278.3,233.9L278.6,233.8L278.9,233.9L279.2,233.9L279.5,233.9L279.8,233.9L280.1,233.9L280.4,234.0L280.7,233.9L281.0,233.9L281.3,233.9L281.6,233.8L281.9,233.9L282.2,233.9L282.5,233.9L282.8,233.8L283.1,233.8L283.4,233.9L283.7,233.9L284.0,233.9L284.3,233.9L284.6,233.9L284.9,233.9L285.2,233.8L285.5,233.8L285.8,233.9L286.1,233.9L286.4,233.9L286.7,233.9L287.0,233.9L287.3,234.0L287.6,233.9L287.9,233.9L288.2,234.0L288.5,233.9L288.8,234.0L289.1,233.8L289.4,234.0L289.7,233.9L290.0,233.8L290.3,233.9L290.6,233.9L290.9,234.0L291.2,234.0L291.5,233.9L291.8,233.9L292.1,233.9L292.4,233.9L292.7,233.9L293.0,233.9L293.3,233.9L293.6,233.9L293.9,233.9L294.2,234.0L294.5,234.0L294.8,233.8L295.1,233.9L295.4,233.8L295.7,233.8L296.0,233.9L296.3,233.9L296.6,233.9L296.9,233.9L297.2,233.9L297.5,233.9L297.8,233.9L298.1,233.9L298.4,233.9L298.7,233.9L299.0,233.9L299.3,233.9L299.6,233.9L299.9,233.9L300.2,233.9L300.5,233.9L300.8,233.9L301.1,234.0L301.4,233.8L301.7,234.0L302.0,233.9L302.3,233.9L302.6,233.8L302.9,233.9L303.2,233.9L303.5,233.9L303.8,233.9L304.1,233.8L304.4,233.9L304.7,233.9L305.0,233.8L305.3,233.9L305.6,233.8L305.9,233.8L306.2,233.9L306.5,233.9L306.8,233.9L307.1,233.9L307.4,234.0L307.7,234.0L308.0,233.9L308.3,234.0L308.6,233.9L308.9,233.9L309.2,233.9L309.5,233.9L309.8,233.9L310.1,233.9L310.4,233.8L310.7,233.9L311.0,233.9L311.3,233.8L311.6,233.9L311.9,233.9L312.2,233.9L312.5,233.9L312.8,233.9L313.1,233.8L313.4,233.9L313.7,233.9L314.0,233.9L314.3,234.0L314.6,233.8L314.9,233.9L315.2,233.9L315.5,234.0L315.8,234.0L316.1,233.9L316.4,233.9L316.7,233.9L317.0,233.9L317.3,233.8L317.6,234.0L317.9,233.9L318.2,233.9L318.5,233.8L318.8,233.9L319.1,233.9L319.4,233.8L319.7,233.9L320.0,233.9L320.3,233.9L320.6,233.9L320.9,233.9L321.2,233.9L321.5,233.9L321.8,233.9L322.1,233.9L322.4,233.9L322.7,233.9L323.0,233.8L323.3,234.0L323.6,233.9L323.9,233.9L324.2,233.9L324.5,233.9L324.8,234.0L325.1,233.9L325.4,233.9L325.7,233.9L326.0,233.9L326.3,233.8L326.6,233.9L326.9,233.9L327.2,233.9L327.5,233.9L327.8,233.8L328.1,234.0L328.4,233.9L328.7,234.0L329.0,233.9L329.3,233.8L329.6,233.9L329.9,233.8L330.2,233.9L330.5,233.9L330.8,233.9L331.1,233.9L331.4,233.9L331.7,234.0L332.0,233.9L332.3,233.8L332.6,233.9L332.9,233.8L333.2,233.9" fill="none" stroke="#33628f" stroke-width="1.0" stroke-linejoin="round" stroke-linecap="round"/>
<text x="234.58" y="260.30" font-size="4.4" fill="#8c8c8c" text-anchor="middle" stroke="#8c8c8c" stroke-width="0.1" transform="rotate(-90 234.58 260.30)">DP (μW)</text>
<text x="289.70" y="300.66" font-size="4.6" fill="#8c8c8c" text-anchor="middle" stroke="#8c8c8c" stroke-width="0.1">Time (min)</text>
<line x1="249.50" y1="307.00" x2="249.50" y2="368.20" stroke="#777" stroke-width="0.5"/>
<line x1="249.50" y1="368.20" x2="336.00" y2="368.20" stroke="#777" stroke-width="0.5"/>
<line x1="248.20" y1="319.20" x2="249.50" y2="319.20" stroke="#777" stroke-width="0.5"/>
<text x="247.70" y="320.82" font-size="4.5" fill="#333" text-anchor="end" stroke="#333" stroke-width="0.06">-10</text>
<line x1="248.20" y1="330.10" x2="249.50" y2="330.10" stroke="#777" stroke-width="0.5"/>
<text x="247.70" y="331.72" font-size="4.5" fill="#333" text-anchor="end" stroke="#333" stroke-width="0.06">-20</text>
<line x1="248.20" y1="341.00" x2="249.50" y2="341.00" stroke="#777" stroke-width="0.5"/>
<text x="247.70" y="342.62" font-size="4.5" fill="#333" text-anchor="end" stroke="#333" stroke-width="0.06">-30</text>
<line x1="248.20" y1="351.90" x2="249.50" y2="351.90" stroke="#777" stroke-width="0.5"/>
<text x="247.70" y="353.52" font-size="4.5" fill="#333" text-anchor="end" stroke="#333" stroke-width="0.06">-40</text>
<line x1="248.20" y1="362.80" x2="249.50" y2="362.80" stroke="#777" stroke-width="0.5"/>
<text x="247.70" y="364.42" font-size="4.5" fill="#333" text-anchor="end" stroke="#333" stroke-width="0.06">-50</text>
<line x1="248.70" y1="324.65" x2="249.50" y2="324.65" stroke="#777" stroke-width="0.4"/>
<line x1="248.70" y1="335.55" x2="249.50" y2="335.55" stroke="#777" stroke-width="0.4"/>
<line x1="248.70" y1="346.45" x2="249.50" y2="346.45" stroke="#777" stroke-width="0.4"/>
<line x1="248.70" y1="357.35" x2="249.50" y2="357.35" stroke="#777" stroke-width="0.4"/>
<line x1="248.70" y1="368.25" x2="249.50" y2="368.25" stroke="#777" stroke-width="0.4"/>
<line x1="248.70" y1="313.75" x2="249.50" y2="313.75" stroke="#777" stroke-width="0.4"/>
<line x1="248.70" y1="368.25" x2="249.50" y2="368.25" stroke="#777" stroke-width="0.4"/>
<line x1="249.50" y1="368.20" x2="249.50" y2="369.50" stroke="#777" stroke-width="0.5"/>
<text x="249.50" y="374.75" font-size="4.3" fill="#333" text-anchor="middle" stroke="#333" stroke-width="0.06">0</text>
<line x1="257.97" y1="368.20" x2="257.97" y2="369.50" stroke="#777" stroke-width="0.5"/>
<text x="257.97" y="374.75" font-size="4.3" fill="#333" text-anchor="middle" stroke="#333" stroke-width="0.06">0.2</text>
<line x1="266.44" y1="368.20" x2="266.44" y2="369.50" stroke="#777" stroke-width="0.5"/>
<text x="266.44" y="374.75" font-size="4.3" fill="#333" text-anchor="middle" stroke="#333" stroke-width="0.06">0.4</text>
<line x1="274.91" y1="368.20" x2="274.91" y2="369.50" stroke="#777" stroke-width="0.5"/>
<text x="274.91" y="374.75" font-size="4.3" fill="#333" text-anchor="middle" stroke="#333" stroke-width="0.06">0.6</text>
<line x1="283.38" y1="368.20" x2="283.38" y2="369.50" stroke="#777" stroke-width="0.5"/>
<text x="283.38" y="374.75" font-size="4.3" fill="#333" text-anchor="middle" stroke="#333" stroke-width="0.06">0.8</text>
<line x1="291.85" y1="368.20" x2="291.85" y2="369.50" stroke="#777" stroke-width="0.5"/>
<text x="291.85" y="374.75" font-size="4.3" fill="#333" text-anchor="middle" stroke="#333" stroke-width="0.06">1</text>
<line x1="300.32" y1="368.20" x2="300.32" y2="369.50" stroke="#777" stroke-width="0.5"/>
<text x="300.32" y="374.75" font-size="4.3" fill="#333" text-anchor="middle" stroke="#333" stroke-width="0.06">1.2</text>
<line x1="308.79" y1="368.20" x2="308.79" y2="369.50" stroke="#777" stroke-width="0.5"/>
<text x="308.79" y="374.75" font-size="4.3" fill="#333" text-anchor="middle" stroke="#333" stroke-width="0.06">1.4</text>
<line x1="317.26" y1="368.20" x2="317.26" y2="369.50" stroke="#777" stroke-width="0.5"/>
<text x="317.26" y="374.75" font-size="4.3" fill="#333" text-anchor="middle" stroke="#333" stroke-width="0.06">1.6</text>
<line x1="325.73" y1="368.20" x2="325.73" y2="369.50" stroke="#777" stroke-width="0.5"/>
<text x="325.73" y="374.75" font-size="4.3" fill="#333" text-anchor="middle" stroke="#333" stroke-width="0.06">1.8</text>
<line x1="334.20" y1="368.20" x2="334.20" y2="369.50" stroke="#777" stroke-width="0.5"/>
<text x="334.20" y="374.75" font-size="4.3" fill="#333" text-anchor="middle" stroke="#333" stroke-width="0.06">2</text>
<line x1="253.74" y1="368.20" x2="253.74" y2="369.00" stroke="#777" stroke-width="0.4"/>
<line x1="262.20" y1="368.20" x2="262.20" y2="369.00" stroke="#777" stroke-width="0.4"/>
<line x1="270.68" y1="368.20" x2="270.68" y2="369.00" stroke="#777" stroke-width="0.4"/>
<line x1="279.14" y1="368.20" x2="279.14" y2="369.00" stroke="#777" stroke-width="0.4"/>
<line x1="287.62" y1="368.20" x2="287.62" y2="369.00" stroke="#777" stroke-width="0.4"/>
<line x1="296.09" y1="368.20" x2="296.09" y2="369.00" stroke="#777" stroke-width="0.4"/>
<line x1="304.56" y1="368.20" x2="304.56" y2="369.00" stroke="#777" stroke-width="0.4"/>
<line x1="313.03" y1="368.20" x2="313.03" y2="369.00" stroke="#777" stroke-width="0.4"/>
<line x1="321.50" y1="368.20" x2="321.50" y2="369.00" stroke="#777" stroke-width="0.4"/>
<line x1="329.97" y1="368.20" x2="329.97" y2="369.00" stroke="#777" stroke-width="0.4"/>
<path d="M250.4,355.6L250.8,355.6L251.2,355.5L251.6,355.5L252.1,355.5L252.5,355.5L252.9,355.4L253.3,355.4L253.7,355.3L254.1,355.3L254.6,355.2L255.0,355.2L255.4,355.1L255.8,355.1L256.2,355.0L256.6,355.0L257.1,354.9L257.5,354.9L257.9,354.8L258.3,354.8L258.7,354.7L259.1,354.6L259.6,354.6L260.0,354.5L260.4,354.4L260.8,354.4L261.2,354.3L261.6,354.2L262.1,354.1L262.5,354.1L262.9,354.0L263.3,353.9L263.7,353.8L264.1,353.7L264.6,353.6L265.0,353.5L265.4,353.4L265.8,353.3L266.2,353.2L266.6,353.1L267.1,353.0L267.5,352.9L267.9,352.7L268.3,352.6L268.7,352.5L269.1,352.4L269.6,352.2L270.0,352.1L270.4,351.9L270.8,351.7L271.2,351.5L271.6,351.3L272.1,351.1L272.5,350.9L272.9,350.7L273.3,350.4L273.7,350.2L274.1,349.9L274.6,349.6L275.0,349.3L275.4,348.9L275.8,348.5L276.2,348.0L276.6,347.6L277.1,347.1L277.5,346.6L277.9,346.1L278.3,345.6L278.7,345.1L279.1,344.5L279.6,343.9L280.0,343.2L280.4,342.5L280.8,341.8L281.2,341.1L281.6,340.3L282.1,339.4L282.5,338.4L282.9,337.4L283.3,336.4L283.7,335.4L284.1,334.3L284.6,333.3L285.0,332.4L285.4,331.4L285.8,330.5L286.2,329.6L286.6,328.7L287.1,327.8L287.5,326.8L287.9,325.9L288.3,325.0L288.7,324.2L289.1,323.3L289.6,322.5L290.0,321.8L290.4,321.1L290.8,320.5L291.2,319.9L291.6,319.4L292.1,318.8L292.5,318.3L292.9,317.8L293.3,317.3L293.7,316.8L294.1,316.4L294.6,316.0L295.0,315.7L295.4,315.3L295.8,315.1L296.2,314.8L296.6,314.6L297.1,314.5L297.5,314.3L297.9,314.2L298.3,314.0L298.7,313.9L299.1,313.7L299.6,313.6L300.0,313.5L300.4,313.4L300.8,313.3L301.2,313.1L301.6,313.0L302.1,313.0L302.5,312.9L302.9,312.8L303.3,312.7L303.7,312.7L304.1,312.6L304.6,312.6L305.0,312.5L305.4,312.5L305.8,312.5L306.2,312.5L306.6,312.5L307.1,312.4L307.5,312.4L307.9,312.4L308.3,312.4L308.7,312.4L309.1,312.4L309.6,312.4L310.0,312.3L310.4,312.3L310.8,312.3L311.2,312.3L311.6,312.3L312.1,312.3L312.5,312.3L312.9,312.3L313.3,312.3L313.7,312.2L314.1,312.2L314.6,312.2L315.0,312.2L315.4,312.2L315.8,312.2L316.2,312.2L316.6,312.2L317.1,312.2L317.5,312.2L317.9,312.1L318.3,312.1L318.7,312.1L319.1,312.1L319.6,312.1L320.0,312.1L320.4,312.1L320.8,312.1L321.2,312.1L321.6,312.1L322.1,312.1L322.5,312.1L322.9,312.1L323.3,312.1L323.7,312.1L324.1,312.0L324.6,312.0L325.0,312.0L325.4,312.0L325.8,312.0L326.2,312.0L326.6,312.0L327.1,312.0L327.5,312.0L327.9,312.0L328.3,312.0L328.7,312.0L329.1,312.0L329.6,312.0L330.0,312.0L330.4,312.0L330.8,312.0L331.2,312.0L331.6,312.0L332.1,312.0L332.5,312.0L332.9,312.0L333.3,312.0" fill="none" stroke="#35a3c3" stroke-width="0.95" stroke-linejoin="round" stroke-linecap="round"/>
<rect x="252.60" y="349.70" width="1.4" height="1.4" fill="#1d3a66"/>
<rect x="256.10" y="352.10" width="1.4" height="1.4" fill="#1d3a66"/>
<rect x="259.30" y="351.20" width="1.4" height="1.4" fill="#1d3a66"/>
<rect x="262.40" y="364.30" width="1.4" height="1.4" fill="#1d3a66"/>
<rect x="265.90" y="352.10" width="1.4" height="1.4" fill="#1d3a66"/>
<rect x="268.90" y="352.60" width="1.4" height="1.4" fill="#1d3a66"/>
<rect x="272.40" y="350.00" width="1.4" height="1.4" fill="#1d3a66"/>
<rect x="275.90" y="349.20" width="1.4" height="1.4" fill="#1d3a66"/>
<rect x="278.90" y="334.30" width="1.4" height="1.4" fill="#1d3a66"/>
<rect x="280.80" y="338.80" width="1.4" height="1.4" fill="#1d3a66"/>
<rect x="285.70" y="332.70" width="1.4" height="1.4" fill="#1d3a66"/>
<rect x="289.40" y="322.80" width="1.4" height="1.4" fill="#1d3a66"/>
<rect x="292.50" y="316.20" width="1.4" height="1.4" fill="#1d3a66"/>
<rect x="296.20" y="311.80" width="1.4" height="1.4" fill="#1d3a66"/>
<rect x="299.50" y="311.20" width="1.4" height="1.4" fill="#1d3a66"/>
<rect x="303.20" y="313.60" width="1.4" height="1.4" fill="#1d3a66"/>
<rect x="306.90" y="311.80" width="1.4" height="1.4" fill="#1d3a66"/>
<rect x="310.20" y="311.80" width="1.4" height="1.4" fill="#1d3a66"/>
<rect x="313.80" y="311.20" width="1.4" height="1.4" fill="#1d3a66"/>
<rect x="317.00" y="311.80" width="1.4" height="1.4" fill="#1d3a66"/>
<rect x="321.20" y="312.50" width="1.4" height="1.4" fill="#1d3a66"/>
<rect x="324.30" y="313.60" width="1.4" height="1.4" fill="#1d3a66"/>
<rect x="328.50" y="311.20" width="1.4" height="1.4" fill="#1d3a66"/>
<rect x="332.60" y="311.80" width="1.4" height="1.4" fill="#1d3a66"/>
<text x="234.66" y="340.30" font-size="4.6" fill="#8c8c8c" text-anchor="middle" stroke="#8c8c8c" stroke-width="0.1" transform="rotate(-90 234.66 340.30)">ΔH (kJ/mol)</text>
<text x="290.40" y="380.96" font-size="4.6" fill="#8c8c8c" text-anchor="middle" stroke="#8c8c8c" stroke-width="0.1">Molar Ratio</text>
<text x="6.40" y="397.90" font-size="10.8" fill="#000" stroke="#000" stroke-width="0.35">H</text>
<text x="67.15" y="393.38" font-size="6.9" fill="#000" text-anchor="middle" stroke="#000" stroke-width="0.03">LaM8 to mCherry-LaM1</text>
<line x1="21.10" y1="394.10" x2="21.10" y2="454.00" stroke="#777" stroke-width="0.5"/>
<line x1="21.10" y1="454.00" x2="110.60" y2="454.00" stroke="#777" stroke-width="0.5"/>
<line x1="19.80" y1="398.40" x2="21.10" y2="398.40" stroke="#777" stroke-width="0.5"/>
<text x="19.30" y="400.02" font-size="4.5" fill="#333" text-anchor="end" stroke="#333" stroke-width="0.06">0</text>
<line x1="19.80" y1="412.40" x2="21.10" y2="412.40" stroke="#777" stroke-width="0.5"/>
<text x="19.30" y="414.02" font-size="4.5" fill="#333" text-anchor="end" stroke="#333" stroke-width="0.06">-0.2</text>
<line x1="19.80" y1="426.40" x2="21.10" y2="426.40" stroke="#777" stroke-width="0.5"/>
<text x="19.30" y="428.02" font-size="4.5" fill="#333" text-anchor="end" stroke="#333" stroke-width="0.06">-0.4</text>
<line x1="19.80" y1="440.40" x2="21.10" y2="440.40" stroke="#777" stroke-width="0.5"/>
<text x="19.30" y="442.02" font-size="4.5" fill="#333" text-anchor="end" stroke="#333" stroke-width="0.06">-0.6</text>
<line x1="20.30" y1="405.40" x2="21.10" y2="405.40" stroke="#777" stroke-width="0.4"/>
<line x1="20.30" y1="419.40" x2="21.10" y2="419.40" stroke="#777" stroke-width="0.4"/>
<line x1="20.30" y1="433.40" x2="21.10" y2="433.40" stroke="#777" stroke-width="0.4"/>
<line x1="20.30" y1="447.40" x2="21.10" y2="447.40" stroke="#777" stroke-width="0.4"/>
<line x1="21.90" y1="454.00" x2="21.90" y2="455.30" stroke="#777" stroke-width="0.5"/>
<text x="21.90" y="460.55" font-size="4.3" fill="#333" text-anchor="middle" stroke="#333" stroke-width="0.06">0</text>
<line x1="32.85" y1="454.00" x2="32.85" y2="455.30" stroke="#777" stroke-width="0.5"/>
<text x="32.85" y="460.55" font-size="4.3" fill="#333" text-anchor="middle" stroke="#333" stroke-width="0.06">5</text>
<line x1="43.80" y1="454.00" x2="43.80" y2="455.30" stroke="#777" stroke-width="0.5"/>
<text x="43.80" y="460.55" font-size="4.3" fill="#333" text-anchor="middle" stroke="#333" stroke-width="0.06">10</text>
<line x1="54.75" y1="454.00" x2="54.75" y2="455.30" stroke="#777" stroke-width="0.5"/>
<text x="54.75" y="460.55" font-size="4.3" fill="#333" text-anchor="middle" stroke="#333" stroke-width="0.06">15</text>
<line x1="65.70" y1="454.00" x2="65.70" y2="455.30" stroke="#777" stroke-width="0.5"/>
<text x="65.70" y="460.55" font-size="4.3" fill="#333" text-anchor="middle" stroke="#333" stroke-width="0.06">20</text>
<line x1="76.65" y1="454.00" x2="76.65" y2="455.30" stroke="#777" stroke-width="0.5"/>
<text x="76.65" y="460.55" font-size="4.3" fill="#333" text-anchor="middle" stroke="#333" stroke-width="0.06">25</text>
<line x1="87.60" y1="454.00" x2="87.60" y2="455.30" stroke="#777" stroke-width="0.5"/>
<text x="87.60" y="460.55" font-size="4.3" fill="#333" text-anchor="middle" stroke="#333" stroke-width="0.06">30</text>
<line x1="98.55" y1="454.00" x2="98.55" y2="455.30" stroke="#777" stroke-width="0.5"/>
<text x="98.55" y="460.55" font-size="4.3" fill="#333" text-anchor="middle" stroke="#333" stroke-width="0.06">35</text>
<line x1="109.50" y1="454.00" x2="109.50" y2="455.30" stroke="#777" stroke-width="0.5"/>
<text x="109.50" y="460.55" font-size="4.3" fill="#333" text-anchor="middle" stroke="#333" stroke-width="0.06">40</text>
<line x1="27.38" y1="454.00" x2="27.38" y2="454.80" stroke="#777" stroke-width="0.4"/>
<line x1="38.33" y1="454.00" x2="38.33" y2="454.80" stroke="#777" stroke-width="0.4"/>
<line x1="49.27" y1="454.00" x2="49.27" y2="454.80" stroke="#777" stroke-width="0.4"/>
<line x1="60.22" y1="454.00" x2="60.22" y2="454.80" stroke="#777" stroke-width="0.4"/>
<line x1="71.17" y1="454.00" x2="71.17" y2="454.80" stroke="#777" stroke-width="0.4"/>
<line x1="82.12" y1="454.00" x2="82.12" y2="454.80" stroke="#777" stroke-width="0.4"/>
<line x1="93.07" y1="454.00" x2="93.07" y2="454.80" stroke="#777" stroke-width="0.4"/>
<line x1="104.03" y1="454.00" x2="104.03" y2="454.80" stroke="#777" stroke-width="0.4"/>
<path d="M22.30,398.40L22.90,397.90L23.50,398.80L24.00,398.40" fill="none" stroke="#33628f" stroke-width="0.7" stroke-linejoin="round"/>
<path d="M24.30,398.40L24.90,397.90L25.50,398.80L26.00,398.40" fill="none" stroke="#33628f" stroke-width="0.7" stroke-linejoin="round"/>
<path d="M26.60,398.40Q27.40,398.40 27.50,399.40L27.60,451.80L28.25,451.80L28.30,399.40Q28.40,398.40 29.20,398.40Z" fill="url(#sg)"/>
<path d="M26.60,398.40Q27.40,398.40 27.50,399.40L27.60,451.80" fill="none" stroke="url(#sl)" stroke-width="0.5"/>
<path d="M29.93,398.40Q30.73,398.40 30.83,399.40L30.93,451.80L31.58,451.80L31.63,399.40Q31.73,398.40 32.53,398.40Z" fill="url(#sg)"/>
<path d="M29.93,398.40Q30.73,398.40 30.83,399.40L30.93,451.80" fill="none" stroke="url(#sl)" stroke-width="0.5"/>
<path d="M33.26,398.40Q34.06,398.40 34.16,399.40L34.26,448.10L34.91,448.10L34.96,399.40Q35.06,398.40 35.86,398.40Z" fill="url(#sg)"/>
<path d="M33.26,398.40Q34.06,398.40 34.16,399.40L34.26,448.10" fill="none" stroke="url(#sl)" stroke-width="0.5"/>
<path d="M36.59,398.40Q37.39,398.40 37.49,399.40L37.59,445.20L38.24,445.20L38.29,399.40Q38.39,398.40 39.19,398.40Z" fill="url(#sg)"/>
<path d="M36.59,398.40Q37.39,398.40 37.49,399.40L37.59,445.20" fill="none" stroke="url(#sl)" stroke-width="0.5"/>
<path d="M39.92,398.40Q40.72,398.40 40.82,399.40L40.92,441.60L41.57,441.60L41.62,399.40Q41.72,398.40 42.52,398.40Z" fill="url(#sg)"/>
<path d="M39.92,398.40Q40.72,398.40 40.82,399.40L40.92,441.60" fill="none" stroke="url(#sl)" stroke-width="0.5"/>
<path d="M43.25,398.40Q44.05,398.40 44.15,399.40L44.25,438.60L44.90,438.60L44.95,399.40Q45.05,398.40 45.85,398.40Z" fill="url(#sg)"/>
<path d="M43.25,398.40Q44.05,398.40 44.15,399.40L44.25,438.60" fill="none" stroke="url(#sl)" stroke-width="0.5"/>
<path d="M46.58,398.40Q47.38,398.40 47.48,399.40L47.58,434.30L48.23,434.30L48.28,399.40Q48.38,398.40 49.18,398.40Z" fill="url(#sg)"/>
<path d="M46.58,398.40Q47.38,398.40 47.48,399.40L47.58,434.30" fill="none" stroke="url(#sl)" stroke-width="0.5"/>
<path d="M49.91,398.40Q50.71,398.40 50.81,399.40L50.91,427.70L51.56,427.70L51.61,399.40Q51.71,398.40 52.51,398.40Z" fill="url(#sg)"/>
<path d="M49.91,398.40Q50.71,398.40 50.81,399.40L50.91,427.70" fill="none" stroke="url(#sl)" stroke-width="0.5"/>
<path d="M53.24,398.40Q54.04,398.40 54.14,399.40L54.24,421.90L54.89,421.90L54.94,399.40Q55.04,398.40 55.84,398.40Z" fill="url(#sg)"/>
<path d="M53.24,398.40Q54.04,398.40 54.14,399.40L54.24,421.90" fill="none" stroke="url(#sl)" stroke-width="0.5"/>
<path d="M56.57,398.40Q57.37,398.40 57.47,399.40L57.57,415.30L58.22,415.30L58.27,399.40Q58.37,398.40 59.17,398.40Z" fill="url(#sg)"/>
<path d="M56.57,398.40Q57.37,398.40 57.47,399.40L57.57,415.30" fill="none" stroke="url(#sl)" stroke-width="0.5"/>
<path d="M59.90,398.40Q60.70,398.40 60.80,399.40L60.90,409.50L61.55,409.50L61.60,399.40Q61.70,398.40 62.50,398.40Z" fill="url(#sg)"/>
<path d="M59.90,398.40Q60.70,398.40 60.80,399.40L60.90,409.50" fill="none" stroke="url(#sl)" stroke-width="0.5"/>
<path d="M63.23,398.40Q64.03,398.40 64.13,399.40L64.23,407.30L64.88,407.30L64.93,399.40Q65.03,398.40 65.83,398.40Z" fill="url(#sg)"/>
<path d="M63.23,398.40Q64.03,398.40 64.13,399.40L64.23,407.30" fill="none" stroke="url(#sl)" stroke-width="0.5"/>
<path d="M66.56,398.40Q67.36,398.40 67.46,399.40L67.56,405.10L68.21,405.10L68.26,399.40Q68.36,398.40 69.16,398.40Z" fill="url(#sg)"/>
<path d="M66.56,398.40Q67.36,398.40 67.46,399.40L67.56,405.10" fill="none" stroke="url(#sl)" stroke-width="0.5"/>
<path d="M69.89,398.40Q70.69,398.40 70.79,399.40L70.89,404.20L71.54,404.20L71.59,399.40Q71.69,398.40 72.49,398.40Z" fill="url(#sg)"/>
<path d="M69.89,398.40Q70.69,398.40 70.79,399.40L70.89,404.20" fill="none" stroke="url(#sl)" stroke-width="0.5"/>
<path d="M73.22,398.40Q74.02,398.40 74.12,399.40L74.22,403.70L74.87,403.70L74.92,399.40Q75.02,398.40 75.82,398.40Z" fill="url(#sg)"/>
<path d="M73.22,398.40Q74.02,398.40 74.12,399.40L74.22,403.70" fill="none" stroke="url(#sl)" stroke-width="0.5"/>
<path d="M76.55,398.40Q77.35,398.40 77.45,399.40L77.55,403.40L78.20,403.40L78.25,399.40Q78.35,398.40 79.15,398.40Z" fill="url(#sg)"/>
<path d="M76.55,398.40Q77.35,398.40 77.45,399.40L77.55,403.40" fill="none" stroke="url(#sl)" stroke-width="0.5"/>
<path d="M79.88,398.40Q80.68,398.40 80.78,399.40L80.88,403.20L81.53,403.20L81.58,399.40Q81.68,398.40 82.48,398.40Z" fill="url(#sg)"/>
<path d="M79.88,398.40Q80.68,398.40 80.78,399.40L80.88,403.20" fill="none" stroke="url(#sl)" stroke-width="0.5"/>
<path d="M83.21,398.40Q84.01,398.40 84.11,399.40L84.21,403.00L84.86,403.00L84.91,399.40Q85.01,398.40 85.81,398.40Z" fill="url(#sg)"/>
<path d="M83.21,398.40Q84.01,398.40 84.11,399.40L84.21,403.00" fill="none" stroke="url(#sl)" stroke-width="0.5"/>
<path d="M86.54,398.40Q87.34,398.40 87.44,399.40L87.54,402.90L88.19,402.90L88.24,399.40Q88.34,398.40 89.14,398.40Z" fill="url(#sg)"/>
<path d="M86.54,398.40Q87.34,398.40 87.44,399.40L87.54,402.90" fill="none" stroke="url(#sl)" stroke-width="0.5"/>
<path d="M89.87,398.40Q90.67,398.40 90.77,399.40L90.87,402.90L91.52,402.90L91.57,399.40Q91.67,398.40 92.47,398.40Z" fill="url(#sg)"/>
<path d="M89.87,398.40Q90.67,398.40 90.77,399.40L90.87,402.90" fill="none" stroke="url(#sl)" stroke-width="0.5"/>
<path d="M93.20,398.40Q94.00,398.40 94.10,399.40L94.20,402.90L94.85,402.90L94.90,399.40Q95.00,398.40 95.80,398.40Z" fill="url(#sg)"/>
<path d="M93.20,398.40Q94.00,398.40 94.10,399.40L94.20,402.90" fill="none" stroke="url(#sl)" stroke-width="0.5"/>
<path d="M96.53,398.40Q97.33,398.40 97.43,399.40L97.53,402.90L98.18,402.90L98.23,399.40Q98.33,398.40 99.13,398.40Z" fill="url(#sg)"/>
<path d="M96.53,398.40Q97.33,398.40 97.43,399.40L97.53,402.90" fill="none" stroke="url(#sl)" stroke-width="0.5"/>
<path d="M99.86,398.40Q100.66,398.40 100.76,399.40L100.86,402.90L101.51,402.90L101.56,399.40Q101.66,398.40 102.46,398.40Z" fill="url(#sg)"/>
<path d="M99.86,398.40Q100.66,398.40 100.76,399.40L100.86,402.90" fill="none" stroke="url(#sl)" stroke-width="0.5"/>
<path d="M21.3,398.3L21.6,398.4L21.9,398.5L22.2,398.4L22.5,398.4L22.8,398.4L23.1,398.4L23.4,398.5L23.7,398.3L24.0,398.3L24.3,398.4L24.6,398.3L24.9,398.4L25.2,398.4L25.5,398.4L25.8,398.4L26.1,398.4L26.4,398.4L26.7,398.4L27.0,398.4L27.3,398.5L27.6,398.4L27.9,398.4L28.2,398.4L28.5,398.4L28.8,398.3L29.1,398.4L29.4,398.4L29.7,398.3L30.0,398.4L30.3,398.4L30.6,398.3L30.9,398.4L31.2,398.4L31.5,398.4L31.8,398.3L32.1,398.4L32.4,398.4L32.7,398.4L33.0,398.4L33.3,398.4L33.6,398.4L33.9,398.4L34.2,398.4L34.5,398.4L34.8,398.4L35.1,398.4L35.4,398.4L35.7,398.4L36.0,398.4L36.3,398.4L36.6,398.3L36.9,398.4L37.2,398.4L37.5,398.4L37.8,398.5L38.1,398.4L38.4,398.4L38.7,398.4L39.0,398.4L39.3,398.3L39.6,398.3L39.9,398.4L40.2,398.4L40.5,398.3L40.8,398.4L41.1,398.4L41.4,398.4L41.7,398.4L42.0,398.4L42.3,398.3L42.6,398.4L42.9,398.5L43.2,398.3L43.5,398.4L43.8,398.4L44.1,398.4L44.4,398.4L44.7,398.4L45.0,398.3L45.3,398.4L45.6,398.4L45.9,398.4L46.2,398.4L46.5,398.4L46.8,398.4L47.1,398.4L47.4,398.4L47.7,398.4L48.0,398.3L48.3,398.3L48.6,398.4L48.9,398.5L49.2,398.3L49.5,398.4L49.8,398.4L50.1,398.4L50.4,398.4L50.7,398.5L51.0,398.4L51.3,398.4L51.6,398.4L51.9,398.4L52.2,398.4L52.5,398.4L52.8,398.4L53.1,398.4L53.4,398.4L53.7,398.3L54.0,398.4L54.3,398.3L54.6,398.4L54.9,398.4L55.2,398.4L55.5,398.4L55.8,398.3L56.1,398.5L56.4,398.4L56.7,398.4L57.0,398.4L57.3,398.4L57.6,398.5L57.9,398.4L58.2,398.3L58.5,398.4L58.8,398.5L59.1,398.4L59.4,398.4L59.7,398.4L60.0,398.4L60.3,398.4L60.6,398.3L60.9,398.4L61.2,398.4L61.5,398.4L61.8,398.4L62.1,398.5L62.4,398.4L62.7,398.4L63.0,398.4L63.3,398.4L63.6,398.4L63.9,398.3L64.2,398.3L64.5,398.5L64.8,398.4L65.1,398.4L65.4,398.4L65.7,398.4L66.0,398.4L66.3,398.4L66.6,398.3L66.9,398.4L67.2,398.4L67.5,398.4L67.8,398.5L68.1,398.4L68.4,398.5L68.7,398.4L69.0,398.4L69.3,398.4L69.6,398.4L69.9,398.4L70.2,398.4L70.5,398.4L70.8,398.3L71.1,398.4L71.4,398.4L71.7,398.4L72.0,398.4L72.3,398.3L72.6,398.4L72.9,398.4L73.2,398.4L73.5,398.4L73.8,398.5L74.1,398.4L74.4,398.3L74.7,398.4L75.0,398.4L75.3,398.4L75.6,398.3L75.9,398.4L76.2,398.4L76.5,398.4L76.8,398.3L77.1,398.4L77.4,398.4L77.7,398.5L78.0,398.4L78.3,398.3L78.6,398.4L78.9,398.4L79.2,398.4L79.5,398.3L79.8,398.4L80.1,398.4L80.4,398.4L80.7,398.4L81.0,398.4L81.3,398.4L81.6,398.4L81.9,398.4L82.2,398.4L82.5,398.3L82.8,398.4L83.1,398.5L83.4,398.4L83.7,398.4L84.0,398.4L84.3,398.4L84.6,398.3L84.9,398.4L85.2,398.4L85.5,398.4L85.8,398.4L86.1,398.4L86.4,398.4L86.7,398.4L87.0,398.4L87.3,398.4L87.6,398.4L87.9,398.4L88.2,398.4L88.5,398.4L88.8,398.3L89.1,398.4L89.4,398.3L89.7,398.5L90.0,398.4L90.3,398.4L90.6,398.4L90.9,398.3L91.2,398.4L91.5,398.4L91.8,398.4L92.1,398.4L92.4,398.4L92.7,398.4L93.0,398.4L93.3,398.3L93.6,398.4L93.9,398.4L94.2,398.4L94.5,398.5L94.8,398.5L95.1,398.4L95.4,398.4L95.7,398.5L96.0,398.4L96.3,398.4L96.6,398.4L96.9,398.4L97.2,398.4L97.5,398.4L97.8,398.4L98.1,398.4L98.4,398.4L98.7,398.4L99.0,398.5L99.3,398.4L99.6,398.3L99.9,398.4L100.2,398.4L100.5,398.5L100.8,398.4L101.1,398.4L101.4,398.4L101.7,398.4L102.0,398.4L102.3,398.4L102.6,398.4L102.9,398.4L103.2,398.4L103.5,398.4L103.8,398.3L104.1,398.4L104.4,398.4L104.7,398.4L105.0,398.4L105.3,398.5L105.6,398.4L105.9,398.4L106.2,398.4L106.5,398.5" fill="none" stroke="#33628f" stroke-width="1.0" stroke-linejoin="round" stroke-linecap="round"/>
<text x="7.58" y="425.70" font-size="4.4" fill="#8c8c8c" text-anchor="middle" stroke="#8c8c8c" stroke-width="0.1" transform="rotate(-90 7.58 425.70)">DP (μW)</text>
<text x="62.40" y="466.86" font-size="4.6" fill="#8c8c8c" text-anchor="middle" stroke="#8c8c8c" stroke-width="0.1">Time (min)</text>
<line x1="21.00" y1="472.00" x2="21.00" y2="533.30" stroke="#777" stroke-width="0.5"/>
<line x1="21.00" y1="533.30" x2="110.60" y2="533.30" stroke="#777" stroke-width="0.5"/>
<line x1="19.70" y1="485.60" x2="21.00" y2="485.60" stroke="#777" stroke-width="0.5"/>
<text x="19.20" y="487.22" font-size="4.5" fill="#333" text-anchor="end" stroke="#333" stroke-width="0.06">-10</text>
<line x1="19.70" y1="497.70" x2="21.00" y2="497.70" stroke="#777" stroke-width="0.5"/>
<text x="19.20" y="499.32" font-size="4.5" fill="#333" text-anchor="end" stroke="#333" stroke-width="0.06">-20</text>
<line x1="19.70" y1="509.80" x2="21.00" y2="509.80" stroke="#777" stroke-width="0.5"/>
<text x="19.20" y="511.42" font-size="4.5" fill="#333" text-anchor="end" stroke="#333" stroke-width="0.06">-30</text>
<line x1="19.70" y1="521.90" x2="21.00" y2="521.90" stroke="#777" stroke-width="0.5"/>
<text x="19.20" y="523.52" font-size="4.5" fill="#333" text-anchor="end" stroke="#333" stroke-width="0.06">-40</text>
<line x1="20.20" y1="479.55" x2="21.00" y2="479.55" stroke="#777" stroke-width="0.4"/>
<line x1="20.20" y1="491.65" x2="21.00" y2="491.65" stroke="#777" stroke-width="0.4"/>
<line x1="20.20" y1="503.75" x2="21.00" y2="503.75" stroke="#777" stroke-width="0.4"/>
<line x1="20.20" y1="515.85" x2="21.00" y2="515.85" stroke="#777" stroke-width="0.4"/>
<line x1="20.20" y1="527.95" x2="21.00" y2="527.95" stroke="#777" stroke-width="0.4"/>
<line x1="21.00" y1="533.30" x2="21.00" y2="534.60" stroke="#777" stroke-width="0.5"/>
<text x="21.00" y="539.85" font-size="4.3" fill="#333" text-anchor="middle" stroke="#333" stroke-width="0.06">0</text>
<line x1="28.74" y1="533.30" x2="28.74" y2="534.60" stroke="#777" stroke-width="0.5"/>
<text x="28.74" y="539.85" font-size="4.3" fill="#333" text-anchor="middle" stroke="#333" stroke-width="0.06">0.2</text>
<line x1="36.48" y1="533.30" x2="36.48" y2="534.60" stroke="#777" stroke-width="0.5"/>
<text x="36.48" y="539.85" font-size="4.3" fill="#333" text-anchor="middle" stroke="#333" stroke-width="0.06">0.4</text>
<line x1="44.22" y1="533.30" x2="44.22" y2="534.60" stroke="#777" stroke-width="0.5"/>
<text x="44.22" y="539.85" font-size="4.3" fill="#333" text-anchor="middle" stroke="#333" stroke-width="0.06">0.6</text>
<line x1="51.96" y1="533.30" x2="51.96" y2="534.60" stroke="#777" stroke-width="0.5"/>
<text x="51.96" y="539.85" font-size="4.3" fill="#333" text-anchor="middle" stroke="#333" stroke-width="0.06">0.8</text>
<line x1="59.70" y1="533.30" x2="59.70" y2="534.60" stroke="#777" stroke-width="0.5"/>
<text x="59.70" y="539.85" font-size="4.3" fill="#333" text-anchor="middle" stroke="#333" stroke-width="0.06">1</text>
<line x1="67.44" y1="533.30" x2="67.44" y2="534.60" stroke="#777" stroke-width="0.5"/>
<text x="67.44" y="539.85" font-size="4.3" fill="#333" text-anchor="middle" stroke="#333" stroke-width="0.06">1.2</text>
<line x1="75.18" y1="533.30" x2="75.18" y2="534.60" stroke="#777" stroke-width="0.5"/>
<text x="75.18" y="539.85" font-size="4.3" fill="#333" text-anchor="middle" stroke="#333" stroke-width="0.06">1.4</text>
<line x1="82.92" y1="533.30" x2="82.92" y2="534.60" stroke="#777" stroke-width="0.5"/>
<text x="82.92" y="539.85" font-size="4.3" fill="#333" text-anchor="middle" stroke="#333" stroke-width="0.06">1.6</text>
<line x1="90.66" y1="533.30" x2="90.66" y2="534.60" stroke="#777" stroke-width="0.5"/>
<text x="90.66" y="539.85" font-size="4.3" fill="#333" text-anchor="middle" stroke="#333" stroke-width="0.06">1.8</text>
<line x1="98.40" y1="533.30" x2="98.40" y2="534.60" stroke="#777" stroke-width="0.5"/>
<text x="98.40" y="539.85" font-size="4.3" fill="#333" text-anchor="middle" stroke="#333" stroke-width="0.06">2</text>
<line x1="106.14" y1="533.30" x2="106.14" y2="534.60" stroke="#777" stroke-width="0.5"/>
<text x="106.14" y="539.85" font-size="4.3" fill="#333" text-anchor="middle" stroke="#333" stroke-width="0.06">2.2</text>
<line x1="24.87" y1="533.30" x2="24.87" y2="534.10" stroke="#777" stroke-width="0.4"/>
<line x1="32.61" y1="533.30" x2="32.61" y2="534.10" stroke="#777" stroke-width="0.4"/>
<line x1="40.35" y1="533.30" x2="40.35" y2="534.10" stroke="#777" stroke-width="0.4"/>
<line x1="48.09" y1="533.30" x2="48.09" y2="534.10" stroke="#777" stroke-width="0.4"/>
<line x1="55.83" y1="533.30" x2="55.83" y2="534.10" stroke="#777" stroke-width="0.4"/>
<line x1="63.57" y1="533.30" x2="63.57" y2="534.10" stroke="#777" stroke-width="0.4"/>
<line x1="71.31" y1="533.30" x2="71.31" y2="534.10" stroke="#777" stroke-width="0.4"/>
<line x1="79.05" y1="533.30" x2="79.05" y2="534.10" stroke="#777" stroke-width="0.4"/>
<line x1="86.79" y1="533.30" x2="86.79" y2="534.10" stroke="#777" stroke-width="0.4"/>
<line x1="94.53" y1="533.30" x2="94.53" y2="534.10" stroke="#777" stroke-width="0.4"/>
<line x1="102.27" y1="533.30" x2="102.27" y2="534.10" stroke="#777" stroke-width="0.4"/>
<path d="M21.9,529.3L22.3,529.3L22.8,529.3L23.2,529.3L23.6,529.3L24.0,529.3L24.5,529.3L24.9,529.3L25.3,529.3L25.7,529.2L26.2,529.2L26.6,529.2L27.0,529.2L27.4,529.2L27.9,529.2L28.3,529.2L28.7,529.1L29.1,529.1L29.6,529.1L30.0,529.1L30.4,529.1L30.8,529.0L31.3,529.0L31.7,529.0L32.1,529.0L32.5,529.0L33.0,528.9L33.4,528.9L33.8,528.9L34.2,528.8L34.7,528.8L35.1,528.8L35.5,528.8L35.9,528.7L36.4,528.7L36.8,528.6L37.2,528.6L37.6,528.5L38.1,528.5L38.5,528.4L38.9,528.4L39.4,528.3L39.8,528.2L40.2,528.1L40.6,528.0L41.1,527.9L41.5,527.8L41.9,527.7L42.3,527.6L42.8,527.5L43.2,527.4L43.6,527.2L44.0,527.1L44.5,526.9L44.9,526.6L45.3,526.3L45.7,525.9L46.2,525.5L46.6,525.1L47.0,524.6L47.4,524.2L47.9,523.7L48.3,523.1L48.7,522.5L49.1,521.7L49.6,520.9L50.0,520.1L50.4,519.1L50.8,518.2L51.3,517.1L51.7,515.9L52.1,514.6L52.5,513.4L53.0,512.1L53.4,510.9L53.8,509.6L54.2,508.4L54.7,507.2L55.1,505.8L55.5,504.4L56.0,502.8L56.4,501.0L56.8,499.1L57.2,497.1L57.7,495.3L58.1,493.6L58.5,492.2L58.9,491.0L59.4,489.8L59.8,488.7L60.2,487.7L60.6,486.7L61.1,485.9L61.5,485.1L61.9,484.5L62.3,484.0L62.8,483.6L63.2,483.1L63.6,482.8L64.0,482.4L64.5,482.1L64.9,481.8L65.3,481.5L65.7,481.3L66.2,481.0L66.6,480.8L67.0,480.6L67.4,480.4L67.9,480.1L68.3,479.9L68.7,479.7L69.1,479.5L69.6,479.3L70.0,479.2L70.4,479.0L70.8,478.9L71.3,478.8L71.7,478.7L72.1,478.6L72.5,478.6L73.0,478.6L73.4,478.6L73.8,478.5L74.3,478.5L74.7,478.5L75.1,478.5L75.5,478.5L76.0,478.4L76.4,478.4L76.8,478.4L77.2,478.4L77.7,478.4L78.1,478.4L78.5,478.3L78.9,478.3L79.4,478.3L79.8,478.3L80.2,478.3L80.6,478.3L81.1,478.3L81.5,478.2L81.9,478.2L82.3,478.2L82.8,478.2L83.2,478.2L83.6,478.2L84.0,478.2L84.5,478.2L84.9,478.1L85.3,478.1L85.7,478.1L86.2,478.1L86.6,478.1L87.0,478.1L87.4,478.1L87.9,478.1L88.3,478.1L88.7,478.1L89.1,478.0L89.6,478.0L90.0,478.0L90.4,478.0L90.9,478.0L91.3,478.0L91.7,478.0L92.1,478.0L92.6,478.0L93.0,478.0L93.4,478.0L93.8,478.0L94.3,478.0L94.7,478.0L95.1,478.0L95.5,478.0L96.0,477.9L96.4,477.9L96.8,477.9L97.2,477.9L97.7,477.9L98.1,477.9L98.5,477.9L98.9,477.9L99.4,477.9L99.8,477.9L100.2,477.9L100.6,477.9L101.1,477.9L101.5,477.9L101.9,477.9L102.3,477.9L102.8,477.9L103.2,477.9L103.6,477.9L104.0,477.9L104.5,477.9L104.9,477.9L105.3,477.9L105.7,477.9L106.2,477.9L106.6,477.9" fill="none" stroke="#35a3c3" stroke-width="0.95" stroke-linejoin="round" stroke-linecap="round"/>
<rect x="24.70" y="524.80" width="1.4" height="1.4" fill="#1d3a66"/>
<rect x="27.60" y="529.10" width="1.4" height="1.4" fill="#1d3a66"/>
<rect x="31.10" y="529.10" width="1.4" height="1.4" fill="#1d3a66"/>
<rect x="34.30" y="530.00" width="1.4" height="1.4" fill="#1d3a66"/>
<rect x="37.80" y="527.90" width="1.4" height="1.4" fill="#1d3a66"/>
<rect x="40.90" y="527.40" width="1.4" height="1.4" fill="#1d3a66"/>
<rect x="44.40" y="525.60" width="1.4" height="1.4" fill="#1d3a66"/>
<rect x="47.90" y="523.00" width="1.4" height="1.4" fill="#1d3a66"/>
<rect x="51.40" y="516.90" width="1.4" height="1.4" fill="#1d3a66"/>
<rect x="54.90" y="503.80" width="1.4" height="1.4" fill="#1d3a66"/>
<rect x="58.40" y="490.70" width="1.4" height="1.4" fill="#1d3a66"/>
<rect x="61.60" y="482.80" width="1.4" height="1.4" fill="#1d3a66"/>
<rect x="65.10" y="480.20" width="1.4" height="1.4" fill="#1d3a66"/>
<rect x="68.60" y="479.30" width="1.4" height="1.4" fill="#1d3a66"/>
<rect x="71.80" y="477.90" width="1.4" height="1.4" fill="#1d3a66"/>
<rect x="75.30" y="477.50" width="1.4" height="1.4" fill="#1d3a66"/>
<rect x="78.80" y="477.20" width="1.4" height="1.4" fill="#1d3a66"/>
<rect x="82.30" y="477.50" width="1.4" height="1.4" fill="#1d3a66"/>
<rect x="86.70" y="477.90" width="1.4" height="1.4" fill="#1d3a66"/>
<rect x="90.20" y="477.90" width="1.4" height="1.4" fill="#1d3a66"/>
<rect x="94.20" y="476.10" width="1.4" height="1.4" fill="#1d3a66"/>
<rect x="97.70" y="477.50" width="1.4" height="1.4" fill="#1d3a66"/>
<rect x="101.50" y="477.90" width="1.4" height="1.4" fill="#1d3a66"/>
<rect x="105.00" y="477.20" width="1.4" height="1.4" fill="#1d3a66"/>
<text x="8.36" y="505.70" font-size="4.6" fill="#8c8c8c" text-anchor="middle" stroke="#8c8c8c" stroke-width="0.1" transform="rotate(-90 8.36 505.70)">ΔH (kJ/mol)</text>
<text x="63.30" y="546.36" font-size="4.6" fill="#8c8c8c" text-anchor="middle" stroke="#8c8c8c" stroke-width="0.1">Molar Ratio</text>
<text x="118.90" y="397.90" font-size="10.8" fill="#000" stroke="#000" stroke-width="0.35">I</text>
<text x="177.75" y="393.38" font-size="6.9" fill="#000" text-anchor="middle" stroke="#000" stroke-width="0.03">LaM8 to mCherry-LaM3</text>
<line x1="135.10" y1="394.10" x2="135.10" y2="453.80" stroke="#777" stroke-width="0.5"/>
<line x1="135.10" y1="453.80" x2="222.00" y2="453.80" stroke="#777" stroke-width="0.5"/>
<line x1="133.80" y1="400.00" x2="135.10" y2="400.00" stroke="#777" stroke-width="0.5"/>
<text x="133.30" y="401.62" font-size="4.5" fill="#333" text-anchor="end" stroke="#333" stroke-width="0.06">0</text>
<line x1="133.80" y1="415.30" x2="135.10" y2="415.30" stroke="#777" stroke-width="0.5"/>
<text x="133.30" y="416.92" font-size="4.5" fill="#333" text-anchor="end" stroke="#333" stroke-width="0.06">-0.2</text>
<line x1="133.80" y1="430.60" x2="135.10" y2="430.60" stroke="#777" stroke-width="0.5"/>
<text x="133.30" y="432.22" font-size="4.5" fill="#333" text-anchor="end" stroke="#333" stroke-width="0.06">-0.4</text>
<line x1="133.80" y1="445.90" x2="135.10" y2="445.90" stroke="#777" stroke-width="0.5"/>
<text x="133.30" y="447.52" font-size="4.5" fill="#333" text-anchor="end" stroke="#333" stroke-width="0.06">-0.6</text>
<line x1="134.30" y1="407.65" x2="135.10" y2="407.65" stroke="#777" stroke-width="0.4"/>
<line x1="134.30" y1="422.95" x2="135.10" y2="422.95" stroke="#777" stroke-width="0.4"/>
<line x1="134.30" y1="438.25" x2="135.10" y2="438.25" stroke="#777" stroke-width="0.4"/>
<line x1="135.40" y1="453.80" x2="135.40" y2="455.10" stroke="#777" stroke-width="0.5"/>
<text x="135.40" y="460.35" font-size="4.3" fill="#333" text-anchor="middle" stroke="#333" stroke-width="0.06">0</text>
<line x1="146.20" y1="453.80" x2="146.20" y2="455.10" stroke="#777" stroke-width="0.5"/>
<text x="146.20" y="460.35" font-size="4.3" fill="#333" text-anchor="middle" stroke="#333" stroke-width="0.06">5</text>
<line x1="157.00" y1="453.80" x2="157.00" y2="455.10" stroke="#777" stroke-width="0.5"/>
<text x="157.00" y="460.35" font-size="4.3" fill="#333" text-anchor="middle" stroke="#333" stroke-width="0.06">10</text>
<line x1="167.80" y1="453.80" x2="167.80" y2="455.10" stroke="#777" stroke-width="0.5"/>
<text x="167.80" y="460.35" font-size="4.3" fill="#333" text-anchor="middle" stroke="#333" stroke-width="0.06">15</text>
<line x1="178.60" y1="453.80" x2="178.60" y2="455.10" stroke="#777" stroke-width="0.5"/>
<text x="178.60" y="460.35" font-size="4.3" fill="#333" text-anchor="middle" stroke="#333" stroke-width="0.06">20</text>
<line x1="189.40" y1="453.80" x2="189.40" y2="455.10" stroke="#777" stroke-width="0.5"/>
<text x="189.40" y="460.35" font-size="4.3" fill="#333" text-anchor="middle" stroke="#333" stroke-width="0.06">25</text>
<line x1="200.20" y1="453.80" x2="200.20" y2="455.10" stroke="#777" stroke-width="0.5"/>
<text x="200.20" y="460.35" font-size="4.3" fill="#333" text-anchor="middle" stroke="#333" stroke-width="0.06">30</text>
<line x1="211.00" y1="453.80" x2="211.00" y2="455.10" stroke="#777" stroke-width="0.5"/>
<text x="211.00" y="460.35" font-size="4.3" fill="#333" text-anchor="middle" stroke="#333" stroke-width="0.06">35</text>
<line x1="221.80" y1="453.80" x2="221.80" y2="455.10" stroke="#777" stroke-width="0.5"/>
<text x="221.80" y="460.35" font-size="4.3" fill="#333" text-anchor="middle" stroke="#333" stroke-width="0.06">40</text>
<line x1="140.80" y1="453.80" x2="140.80" y2="454.60" stroke="#777" stroke-width="0.4"/>
<line x1="151.60" y1="453.80" x2="151.60" y2="454.60" stroke="#777" stroke-width="0.4"/>
<line x1="162.40" y1="453.80" x2="162.40" y2="454.60" stroke="#777" stroke-width="0.4"/>
<line x1="173.20" y1="453.80" x2="173.20" y2="454.60" stroke="#777" stroke-width="0.4"/>
<line x1="184.00" y1="453.80" x2="184.00" y2="454.60" stroke="#777" stroke-width="0.4"/>
<line x1="194.80" y1="453.80" x2="194.80" y2="454.60" stroke="#777" stroke-width="0.4"/>
<line x1="205.60" y1="453.80" x2="205.60" y2="454.60" stroke="#777" stroke-width="0.4"/>
<line x1="216.40" y1="453.80" x2="216.40" y2="454.60" stroke="#777" stroke-width="0.4"/>
<path d="M136.30,400.00L136.90,399.00L137.50,400.40L138.00,400.00" fill="none" stroke="#33628f" stroke-width="0.7" stroke-linejoin="round"/>
<path d="M138.30,400.00L138.90,399.40L139.50,400.40L140.00,400.00" fill="none" stroke="#33628f" stroke-width="0.7" stroke-linejoin="round"/>
<path d="M140.10,400.00Q140.90,400.00 141.00,401.00L141.10,448.90L141.75,448.90L141.80,401.00Q141.90,400.00 142.70,400.00Z" fill="url(#sg)"/>
<path d="M140.10,400.00Q140.90,400.00 141.00,401.00L141.10,448.90" fill="none" stroke="url(#sl)" stroke-width="0.5"/>
<path d="M143.40,400.00Q144.20,400.00 144.30,401.00L144.40,451.80L145.05,451.80L145.10,401.00Q145.20,400.00 146.00,400.00Z" fill="url(#sg)"/>
<path d="M143.40,400.00Q144.20,400.00 144.30,401.00L144.40,451.80" fill="none" stroke="url(#sl)" stroke-width="0.5"/>
<path d="M146.70,400.00Q147.50,400.00 147.60,401.00L147.70,448.90L148.35,448.90L148.40,401.00Q148.50,400.00 149.30,400.00Z" fill="url(#sg)"/>
<path d="M146.70,400.00Q147.50,400.00 147.60,401.00L147.70,448.90" fill="none" stroke="url(#sl)" stroke-width="0.5"/>
<path d="M150.00,400.00Q150.80,400.00 150.90,401.00L151.00,445.20L151.65,445.20L151.70,401.00Q151.80,400.00 152.60,400.00Z" fill="url(#sg)"/>
<path d="M150.00,400.00Q150.80,400.00 150.90,401.00L151.00,445.20" fill="none" stroke="url(#sl)" stroke-width="0.5"/>
<path d="M153.30,400.00Q154.10,400.00 154.20,401.00L154.30,440.80L154.95,440.80L155.00,401.00Q155.10,400.00 155.90,400.00Z" fill="url(#sg)"/>
<path d="M153.30,400.00Q154.10,400.00 154.20,401.00L154.30,440.80" fill="none" stroke="url(#sl)" stroke-width="0.5"/>
<path d="M156.60,400.00Q157.40,400.00 157.50,401.00L157.60,436.50L158.25,436.50L158.30,401.00Q158.40,400.00 159.20,400.00Z" fill="url(#sg)"/>
<path d="M156.60,400.00Q157.40,400.00 157.50,401.00L157.60,436.50" fill="none" stroke="url(#sl)" stroke-width="0.5"/>
<path d="M159.90,400.00Q160.70,400.00 160.80,401.00L160.90,430.60L161.55,430.60L161.60,401.00Q161.70,400.00 162.50,400.00Z" fill="url(#sg)"/>
<path d="M159.90,400.00Q160.70,400.00 160.80,401.00L160.90,430.60" fill="none" stroke="url(#sl)" stroke-width="0.5"/>
<path d="M163.20,400.00Q164.00,400.00 164.10,401.00L164.20,423.30L164.85,423.30L164.90,401.00Q165.00,400.00 165.80,400.00Z" fill="url(#sg)"/>
<path d="M163.20,400.00Q164.00,400.00 164.10,401.00L164.20,423.30" fill="none" stroke="url(#sl)" stroke-width="0.5"/>
<path d="M166.50,400.00Q167.30,400.00 167.40,401.00L167.50,417.50L168.15,417.50L168.20,401.00Q168.30,400.00 169.10,400.00Z" fill="url(#sg)"/>
<path d="M166.50,400.00Q167.30,400.00 167.40,401.00L167.50,417.50" fill="none" stroke="url(#sl)" stroke-width="0.5"/>
<path d="M169.80,400.00Q170.60,400.00 170.70,401.00L170.80,414.40L171.45,414.40L171.50,401.00Q171.60,400.00 172.40,400.00Z" fill="url(#sg)"/>
<path d="M169.80,400.00Q170.60,400.00 170.70,401.00L170.80,414.40" fill="none" stroke="url(#sl)" stroke-width="0.5"/>
<path d="M173.10,400.00Q173.90,400.00 174.00,401.00L174.10,412.20L174.75,412.20L174.80,401.00Q174.90,400.00 175.70,400.00Z" fill="url(#sg)"/>
<path d="M173.10,400.00Q173.90,400.00 174.00,401.00L174.10,412.20" fill="none" stroke="url(#sl)" stroke-width="0.5"/>
<path d="M176.40,400.00Q177.20,400.00 177.30,401.00L177.40,411.20L178.05,411.20L178.10,401.00Q178.20,400.00 179.00,400.00Z" fill="url(#sg)"/>
<path d="M176.40,400.00Q177.20,400.00 177.30,401.00L177.40,411.20" fill="none" stroke="url(#sl)" stroke-width="0.5"/>
<path d="M179.70,400.00Q180.50,400.00 180.60,401.00L180.70,410.50L181.35,410.50L181.40,401.00Q181.50,400.00 182.30,400.00Z" fill="url(#sg)"/>
<path d="M179.70,400.00Q180.50,400.00 180.60,401.00L180.70,410.50" fill="none" stroke="url(#sl)" stroke-width="0.5"/>
<path d="M183.00,400.00Q183.80,400.00 183.90,401.00L184.00,410.00L184.65,410.00L184.70,401.00Q184.80,400.00 185.60,400.00Z" fill="url(#sg)"/>
<path d="M183.00,400.00Q183.80,400.00 183.90,401.00L184.00,410.00" fill="none" stroke="url(#sl)" stroke-width="0.5"/>
<path d="M186.30,400.00Q187.10,400.00 187.20,401.00L187.30,409.50L187.95,409.50L188.00,401.00Q188.10,400.00 188.90,400.00Z" fill="url(#sg)"/>
<path d="M186.30,400.00Q187.10,400.00 187.20,401.00L187.30,409.50" fill="none" stroke="url(#sl)" stroke-width="0.5"/>
<path d="M189.60,400.00Q190.40,400.00 190.50,401.00L190.60,409.00L191.25,409.00L191.30,401.00Q191.40,400.00 192.20,400.00Z" fill="url(#sg)"/>
<path d="M189.60,400.00Q190.40,400.00 190.50,401.00L190.60,409.00" fill="none" stroke="url(#sl)" stroke-width="0.5"/>
<path d="M192.90,400.00Q193.70,400.00 193.80,401.00L193.90,408.50L194.55,408.50L194.60,401.00Q194.70,400.00 195.50,400.00Z" fill="url(#sg)"/>
<path d="M192.90,400.00Q193.70,400.00 193.80,401.00L193.90,408.50" fill="none" stroke="url(#sl)" stroke-width="0.5"/>
<path d="M196.20,400.00Q197.00,400.00 197.10,401.00L197.20,408.50L197.85,408.50L197.90,401.00Q198.00,400.00 198.80,400.00Z" fill="url(#sg)"/>
<path d="M196.20,400.00Q197.00,400.00 197.10,401.00L197.20,408.50" fill="none" stroke="url(#sl)" stroke-width="0.5"/>
<path d="M199.50,400.00Q200.30,400.00 200.40,401.00L200.50,408.00L201.15,408.00L201.20,401.00Q201.30,400.00 202.10,400.00Z" fill="url(#sg)"/>
<path d="M199.50,400.00Q200.30,400.00 200.40,401.00L200.50,408.00" fill="none" stroke="url(#sl)" stroke-width="0.5"/>
<path d="M202.80,400.00Q203.60,400.00 203.70,401.00L203.80,408.00L204.45,408.00L204.50,401.00Q204.60,400.00 205.40,400.00Z" fill="url(#sg)"/>
<path d="M202.80,400.00Q203.60,400.00 203.70,401.00L203.80,408.00" fill="none" stroke="url(#sl)" stroke-width="0.5"/>
<path d="M206.10,400.00Q206.90,400.00 207.00,401.00L207.10,407.50L207.75,407.50L207.80,401.00Q207.90,400.00 208.70,400.00Z" fill="url(#sg)"/>
<path d="M206.10,400.00Q206.90,400.00 207.00,401.00L207.10,407.50" fill="none" stroke="url(#sl)" stroke-width="0.5"/>
<path d="M209.40,400.00Q210.20,400.00 210.30,401.00L210.40,407.50L211.05,407.50L211.10,401.00Q211.20,400.00 212.00,400.00Z" fill="url(#sg)"/>
<path d="M209.40,400.00Q210.20,400.00 210.30,401.00L210.40,407.50" fill="none" stroke="url(#sl)" stroke-width="0.5"/>
<path d="M212.70,400.00Q213.50,400.00 213.60,401.00L213.70,407.50L214.35,407.50L214.40,401.00Q214.50,400.00 215.30,400.00Z" fill="url(#sg)"/>
<path d="M212.70,400.00Q213.50,400.00 213.60,401.00L213.70,407.50" fill="none" stroke="url(#sl)" stroke-width="0.5"/>
<path d="M135.4,400.0L135.7,400.0L136.0,400.0L136.3,400.0L136.6,400.0L136.9,400.0L137.2,400.0L137.5,400.0L137.8,400.0L138.1,399.9L138.4,400.0L138.7,400.0L139.0,399.9L139.3,400.0L139.6,400.0L139.9,400.0L140.2,400.0L140.5,400.0L140.8,400.0L141.1,400.0L141.4,400.0L141.7,400.0L142.0,400.0L142.3,400.0L142.6,400.0L142.9,400.0L143.2,400.0L143.5,400.0L143.8,400.0L144.1,400.1L144.4,400.0L144.7,400.0L145.0,400.0L145.3,400.1L145.6,399.9L145.9,400.0L146.2,400.0L146.5,400.0L146.8,400.1L147.1,400.0L147.4,400.0L147.7,400.0L148.0,400.0L148.3,400.0L148.6,400.0L148.9,400.0L149.2,400.0L149.5,400.0L149.8,400.1L150.1,400.0L150.4,400.0L150.7,399.9L151.0,400.0L151.3,400.0L151.6,400.0L151.9,400.0L152.2,400.0L152.5,400.0L152.8,400.0L153.1,400.0L153.4,400.0L153.7,400.0L154.0,399.9L154.3,400.0L154.6,400.0L154.9,399.9L155.2,400.0L155.5,400.0L155.8,400.0L156.1,400.0L156.4,400.0L156.7,400.0L157.0,399.9L157.3,400.0L157.6,400.0L157.9,400.1L158.2,400.0L158.5,399.9L158.8,400.0L159.1,400.0L159.4,400.0L159.7,400.0L160.0,400.0L160.3,400.0L160.6,400.0L160.9,400.0L161.2,400.0L161.5,400.0L161.8,400.0L162.1,400.0L162.4,400.0L162.7,400.0L163.0,400.0L163.3,400.0L163.6,400.0L163.9,400.0L164.2,400.0L164.5,400.0L164.8,400.0L165.1,400.0L165.4,400.0L165.7,400.0L166.0,400.0L166.3,400.1L166.6,400.0L166.9,399.9L167.2,400.0L167.5,400.0L167.8,400.0L168.1,400.0L168.4,400.0L168.7,400.0L169.0,400.0L169.3,400.0L169.6,400.0L169.9,400.0L170.2,400.0L170.5,400.0L170.8,400.0L171.1,400.0L171.4,400.0L171.7,400.0L172.0,399.9L172.3,400.0L172.6,400.0L172.9,400.0L173.2,400.0L173.5,400.0L173.8,400.0L174.1,399.9L174.4,400.0L174.7,400.0L175.0,400.0L175.3,400.0L175.6,400.0L175.9,400.0L176.2,400.1L176.5,400.0L176.8,400.0L177.1,400.0L177.4,400.0L177.7,400.1L178.0,400.0L178.3,400.0L178.6,400.0L178.9,400.0L179.2,400.0L179.5,400.0L179.8,399.9L180.1,400.0L180.4,400.0L180.7,400.0L181.0,399.9L181.3,400.0L181.6,399.9L181.9,400.1L182.2,400.0L182.5,399.9L182.8,400.0L183.1,400.0L183.4,400.0L183.7,400.0L184.0,400.0L184.3,400.0L184.6,399.9L184.9,400.1L185.2,400.0L185.5,400.0L185.8,399.9L186.1,400.1L186.4,400.1L186.7,399.9L187.0,400.1L187.3,400.0L187.6,400.0L187.9,400.0L188.2,400.0L188.5,400.1L188.8,400.0L189.1,399.9L189.4,400.1L189.7,400.0L190.0,400.0L190.3,400.0L190.6,400.0L190.9,400.0L191.2,400.0L191.5,400.0L191.8,400.0L192.1,400.0L192.4,400.0L192.7,400.0L193.0,400.1L193.3,400.0L193.6,400.0L193.9,400.0L194.2,400.0L194.5,400.1L194.8,400.0L195.1,400.0L195.4,400.0L195.7,400.0L196.0,399.9L196.3,400.1L196.6,400.0L196.9,400.0L197.2,400.1L197.5,400.1L197.8,400.0L198.1,400.0L198.4,400.1L198.7,400.1L199.0,400.0L199.3,400.0L199.6,400.0L199.9,400.0L200.2,399.9L200.5,400.0L200.8,400.0L201.1,400.0L201.4,400.1L201.7,400.0L202.0,400.0L202.3,400.0L202.6,400.0L202.9,400.0L203.2,400.0L203.5,400.0L203.8,400.1L204.1,400.0L204.4,400.0L204.7,399.9L205.0,400.0L205.3,400.0L205.6,400.1L205.9,400.0L206.2,400.0L206.5,400.1L206.8,400.1L207.1,400.0L207.4,400.0L207.7,399.9L208.0,400.0L208.3,400.0L208.6,400.0L208.9,400.0L209.2,399.9L209.5,400.1L209.8,400.0L210.1,400.0L210.4,400.0L210.7,399.9L211.0,400.0L211.3,400.0L211.6,400.0L211.9,400.0L212.2,400.0L212.5,399.9L212.8,400.1L213.1,400.0L213.4,400.0L213.7,400.0L214.0,400.0L214.3,400.1L214.6,399.9L214.9,400.0L215.2,399.9L215.5,400.0L215.8,400.0L216.1,400.1L216.4,400.0L216.7,400.0L217.0,400.0L217.3,400.0L217.6,399.9L217.9,400.0L218.2,400.0L218.5,400.0L218.8,400.0L219.1,400.0L219.4,400.1" fill="none" stroke="#33628f" stroke-width="1.0" stroke-linejoin="round" stroke-linecap="round"/>
<text x="121.28" y="425.50" font-size="4.4" fill="#8c8c8c" text-anchor="middle" stroke="#8c8c8c" stroke-width="0.1" transform="rotate(-90 121.28 425.50)">DP (μW)</text>
<text x="176.20" y="466.86" font-size="4.6" fill="#8c8c8c" text-anchor="middle" stroke="#8c8c8c" stroke-width="0.1">Time (min)</text>
<line x1="136.20" y1="472.00" x2="136.20" y2="533.30" stroke="#777" stroke-width="0.5"/>
<line x1="136.20" y1="533.30" x2="221.80" y2="533.30" stroke="#777" stroke-width="0.5"/>
<line x1="134.90" y1="480.30" x2="136.20" y2="480.30" stroke="#777" stroke-width="0.5"/>
<text x="134.40" y="481.92" font-size="4.5" fill="#333" text-anchor="end" stroke="#333" stroke-width="0.06">0</text>
<line x1="134.90" y1="492.40" x2="136.20" y2="492.40" stroke="#777" stroke-width="0.5"/>
<text x="134.40" y="494.02" font-size="4.5" fill="#333" text-anchor="end" stroke="#333" stroke-width="0.06">-10</text>
<line x1="134.90" y1="504.50" x2="136.20" y2="504.50" stroke="#777" stroke-width="0.5"/>
<text x="134.40" y="506.12" font-size="4.5" fill="#333" text-anchor="end" stroke="#333" stroke-width="0.06">-20</text>
<line x1="134.90" y1="516.60" x2="136.20" y2="516.60" stroke="#777" stroke-width="0.5"/>
<text x="134.40" y="518.22" font-size="4.5" fill="#333" text-anchor="end" stroke="#333" stroke-width="0.06">-30</text>
<line x1="134.90" y1="528.70" x2="136.20" y2="528.70" stroke="#777" stroke-width="0.5"/>
<text x="134.40" y="530.32" font-size="4.5" fill="#333" text-anchor="end" stroke="#333" stroke-width="0.06">-40</text>
<line x1="135.40" y1="474.25" x2="136.20" y2="474.25" stroke="#777" stroke-width="0.4"/>
<line x1="135.40" y1="486.35" x2="136.20" y2="486.35" stroke="#777" stroke-width="0.4"/>
<line x1="135.40" y1="498.45" x2="136.20" y2="498.45" stroke="#777" stroke-width="0.4"/>
<line x1="135.40" y1="510.55" x2="136.20" y2="510.55" stroke="#777" stroke-width="0.4"/>
<line x1="135.40" y1="522.65" x2="136.20" y2="522.65" stroke="#777" stroke-width="0.4"/>
<line x1="135.40" y1="534.75" x2="136.20" y2="534.75" stroke="#777" stroke-width="0.4"/>
<line x1="136.60" y1="533.30" x2="136.60" y2="534.60" stroke="#777" stroke-width="0.5"/>
<text x="136.60" y="539.85" font-size="4.3" fill="#333" text-anchor="middle" stroke="#333" stroke-width="0.06">0</text>
<line x1="144.19" y1="533.30" x2="144.19" y2="534.60" stroke="#777" stroke-width="0.5"/>
<text x="144.19" y="539.85" font-size="4.3" fill="#333" text-anchor="middle" stroke="#333" stroke-width="0.06">0.2</text>
<line x1="151.78" y1="533.30" x2="151.78" y2="534.60" stroke="#777" stroke-width="0.5"/>
<text x="151.78" y="539.85" font-size="4.3" fill="#333" text-anchor="middle" stroke="#333" stroke-width="0.06">0.4</text>
<line x1="159.37" y1="533.30" x2="159.37" y2="534.60" stroke="#777" stroke-width="0.5"/>
<text x="159.37" y="539.85" font-size="4.3" fill="#333" text-anchor="middle" stroke="#333" stroke-width="0.06">0.6</text>
<line x1="166.96" y1="533.30" x2="166.96" y2="534.60" stroke="#777" stroke-width="0.5"/>
<text x="166.96" y="539.85" font-size="4.3" fill="#333" text-anchor="middle" stroke="#333" stroke-width="0.06">0.8</text>
<line x1="174.55" y1="533.30" x2="174.55" y2="534.60" stroke="#777" stroke-width="0.5"/>
<text x="174.55" y="539.85" font-size="4.3" fill="#333" text-anchor="middle" stroke="#333" stroke-width="0.06">1</text>
<line x1="182.14" y1="533.30" x2="182.14" y2="534.60" stroke="#777" stroke-width="0.5"/>
<text x="182.14" y="539.85" font-size="4.3" fill="#333" text-anchor="middle" stroke="#333" stroke-width="0.06">1.2</text>
<line x1="189.73" y1="533.30" x2="189.73" y2="534.60" stroke="#777" stroke-width="0.5"/>
<text x="189.73" y="539.85" font-size="4.3" fill="#333" text-anchor="middle" stroke="#333" stroke-width="0.06">1.4</text>
<line x1="197.32" y1="533.30" x2="197.32" y2="534.60" stroke="#777" stroke-width="0.5"/>
<text x="197.32" y="539.85" font-size="4.3" fill="#333" text-anchor="middle" stroke="#333" stroke-width="0.06">1.6</text>
<line x1="204.91" y1="533.30" x2="204.91" y2="534.60" stroke="#777" stroke-width="0.5"/>
<text x="204.91" y="539.85" font-size="4.3" fill="#333" text-anchor="middle" stroke="#333" stroke-width="0.06">1.8</text>
<line x1="212.50" y1="533.30" x2="212.50" y2="534.60" stroke="#777" stroke-width="0.5"/>
<text x="212.50" y="539.85" font-size="4.3" fill="#333" text-anchor="middle" stroke="#333" stroke-width="0.06">2</text>
<line x1="220.09" y1="533.30" x2="220.09" y2="534.60" stroke="#777" stroke-width="0.5"/>
<text x="220.09" y="539.85" font-size="4.3" fill="#333" text-anchor="middle" stroke="#333" stroke-width="0.06">2.2</text>
<line x1="140.39" y1="533.30" x2="140.39" y2="534.10" stroke="#777" stroke-width="0.4"/>
<line x1="147.98" y1="533.30" x2="147.98" y2="534.10" stroke="#777" stroke-width="0.4"/>
<line x1="155.57" y1="533.30" x2="155.57" y2="534.10" stroke="#777" stroke-width="0.4"/>
<line x1="163.16" y1="533.30" x2="163.16" y2="534.10" stroke="#777" stroke-width="0.4"/>
<line x1="170.75" y1="533.30" x2="170.75" y2="534.10" stroke="#777" stroke-width="0.4"/>
<line x1="178.34" y1="533.30" x2="178.34" y2="534.10" stroke="#777" stroke-width="0.4"/>
<line x1="185.94" y1="533.30" x2="185.94" y2="534.10" stroke="#777" stroke-width="0.4"/>
<line x1="193.53" y1="533.30" x2="193.53" y2="534.10" stroke="#777" stroke-width="0.4"/>
<line x1="201.12" y1="533.30" x2="201.12" y2="534.10" stroke="#777" stroke-width="0.4"/>
<line x1="208.70" y1="533.30" x2="208.70" y2="534.10" stroke="#777" stroke-width="0.4"/>
<line x1="216.30" y1="533.30" x2="216.30" y2="534.10" stroke="#777" stroke-width="0.4"/>
<path d="M137.1,530.7L137.5,530.7L137.9,530.7L138.3,530.6L138.8,530.6L139.2,530.6L139.6,530.5L140.0,530.5L140.4,530.4L140.8,530.4L141.2,530.3L141.6,530.3L142.1,530.2L142.5,530.2L142.9,530.1L143.3,530.1L143.7,530.0L144.1,529.9L144.5,529.9L144.9,529.8L145.4,529.7L145.8,529.7L146.2,529.6L146.6,529.5L147.0,529.5L147.4,529.4L147.8,529.3L148.2,529.2L148.7,529.1L149.1,529.0L149.5,528.9L149.9,528.8L150.3,528.7L150.7,528.5L151.1,528.4L151.5,528.3L152.0,528.1L152.4,528.0L152.8,527.8L153.2,527.5L153.6,527.3L154.0,527.0L154.4,526.7L154.8,526.4L155.3,526.1L155.7,525.8L156.1,525.4L156.5,525.1L156.9,524.6L157.3,524.2L157.7,523.7L158.1,523.1L158.6,522.6L159.0,522.0L159.4,521.5L159.8,520.8L160.2,520.2L160.6,519.5L161.0,518.7L161.4,518.0L161.9,517.3L162.3,516.5L162.7,515.7L163.1,515.0L163.5,514.1L163.9,513.3L164.3,512.5L164.7,511.6L165.2,510.6L165.6,509.6L166.0,508.6L166.4,507.4L166.8,506.2L167.2,505.1L167.6,503.9L168.0,502.7L168.5,501.5L168.9,500.4L169.3,499.4L169.7,498.5L170.1,497.7L170.5,497.0L170.9,496.3L171.3,495.6L171.8,495.0L172.2,494.4L172.6,493.8L173.0,493.2L173.4,492.7L173.8,492.2L174.2,491.7L174.6,491.3L175.1,490.9L175.5,490.5L175.9,490.2L176.3,489.8L176.7,489.5L177.1,489.2L177.5,488.8L177.9,488.5L178.4,488.2L178.8,488.0L179.2,487.7L179.6,487.4L180.0,487.2L180.4,487.0L180.8,486.8L181.2,486.6L181.7,486.4L182.1,486.2L182.5,486.1L182.9,486.0L183.3,485.9L183.7,485.8L184.1,485.6L184.5,485.5L185.0,485.4L185.4,485.3L185.8,485.3L186.2,485.2L186.6,485.1L187.0,485.0L187.4,484.9L187.8,484.9L188.3,484.8L188.7,484.7L189.1,484.7L189.5,484.6L189.9,484.6L190.3,484.5L190.7,484.5L191.1,484.4L191.6,484.4L192.0,484.3L192.4,484.3L192.8,484.2L193.2,484.2L193.6,484.1L194.0,484.1L194.4,484.1L194.9,484.0L195.3,484.0L195.7,483.9L196.1,483.9L196.5,483.9L196.9,483.8L197.3,483.8L197.7,483.7L198.2,483.7L198.6,483.7L199.0,483.6L199.4,483.6L199.8,483.6L200.2,483.5L200.6,483.5L201.0,483.4L201.5,483.4L201.9,483.4L202.3,483.3L202.7,483.3L203.1,483.3L203.5,483.3L203.9,483.2L204.3,483.2L204.8,483.2L205.2,483.1L205.6,483.1L206.0,483.1L206.4,483.0L206.8,483.0L207.2,483.0L207.6,483.0L208.1,482.9L208.5,482.9L208.9,482.9L209.3,482.9L209.7,482.9L210.1,482.8L210.5,482.8L210.9,482.8L211.4,482.8L211.8,482.8L212.2,482.7L212.6,482.7L213.0,482.7L213.4,482.7L213.8,482.7L214.2,482.7L214.7,482.7L215.1,482.7L215.5,482.6L215.9,482.6L216.3,482.6L216.7,482.6L217.1,482.6L217.5,482.6L218.0,482.6L218.4,482.6L218.8,482.6L219.2,482.6" fill="none" stroke="#35a3c3" stroke-width="0.95" stroke-linejoin="round" stroke-linecap="round"/>
<rect x="139.90" y="524.80" width="1.4" height="1.4" fill="#1d3a66"/>
<rect x="142.90" y="528.30" width="1.4" height="1.4" fill="#1d3a66"/>
<rect x="146.00" y="527.90" width="1.4" height="1.4" fill="#1d3a66"/>
<rect x="149.50" y="527.40" width="1.4" height="1.4" fill="#1d3a66"/>
<rect x="152.70" y="528.60" width="1.4" height="1.4" fill="#1d3a66"/>
<rect x="156.20" y="528.30" width="1.4" height="1.4" fill="#1d3a66"/>
<rect x="159.70" y="522.70" width="1.4" height="1.4" fill="#1d3a66"/>
<rect x="162.60" y="514.60" width="1.4" height="1.4" fill="#1d3a66"/>
<rect x="165.70" y="504.70" width="1.4" height="1.4" fill="#1d3a66"/>
<rect x="169.20" y="495.40" width="1.4" height="1.4" fill="#1d3a66"/>
<rect x="172.70" y="494.70" width="1.4" height="1.4" fill="#1d3a66"/>
<rect x="175.70" y="499.40" width="1.4" height="1.4" fill="#1d3a66"/>
<rect x="179.20" y="488.40" width="1.4" height="1.4" fill="#1d3a66"/>
<rect x="182.70" y="484.50" width="1.4" height="1.4" fill="#1d3a66"/>
<rect x="186.20" y="485.40" width="1.4" height="1.4" fill="#1d3a66"/>
<rect x="189.70" y="485.40" width="1.4" height="1.4" fill="#1d3a66"/>
<rect x="193.20" y="481.40" width="1.4" height="1.4" fill="#1d3a66"/>
<rect x="196.70" y="484.90" width="1.4" height="1.4" fill="#1d3a66"/>
<rect x="200.20" y="483.70" width="1.4" height="1.4" fill="#1d3a66"/>
<rect x="204.20" y="481.00" width="1.4" height="1.4" fill="#1d3a66"/>
<rect x="207.70" y="479.60" width="1.4" height="1.4" fill="#1d3a66"/>
<rect x="211.20" y="480.20" width="1.4" height="1.4" fill="#1d3a66"/>
<rect x="215.00" y="486.60" width="1.4" height="1.4" fill="#1d3a66"/>
<rect x="218.90" y="476.10" width="1.4" height="1.4" fill="#1d3a66"/>
<text x="121.36" y="505.40" font-size="4.6" fill="#8c8c8c" text-anchor="middle" stroke="#8c8c8c" stroke-width="0.1" transform="rotate(-90 121.36 505.40)">ΔH (kJ/mol)</text>
<text x="176.80" y="546.36" font-size="4.6" fill="#8c8c8c" text-anchor="middle" stroke="#8c8c8c" stroke-width="0.1">Molar Ratio</text>
<text x="231.20" y="398.60" font-size="10.8" fill="#000" stroke="#000" stroke-width="0.4">J</text>
<line x1="256.50" y1="395.00" x2="256.50" y2="529.00" stroke="#111" stroke-width="0.6"/>
<line x1="256.50" y1="529.00" x2="334.60" y2="529.00" stroke="#111" stroke-width="0.6"/>
<line x1="255.00" y1="522.30" x2="256.50" y2="522.30" stroke="#111" stroke-width="0.5"/>
<text x="253.70" y="524.53" font-size="6.2" fill="#111" text-anchor="end" stroke="#111" stroke-width="0.05">0</text>
<line x1="255.00" y1="490.55" x2="256.50" y2="490.55" stroke="#111" stroke-width="0.5"/>
<text x="253.70" y="492.78" font-size="6.2" fill="#111" text-anchor="end" stroke="#111" stroke-width="0.05">500</text>
<line x1="255.00" y1="458.80" x2="256.50" y2="458.80" stroke="#111" stroke-width="0.5"/>
<text x="253.70" y="461.03" font-size="6.2" fill="#111" text-anchor="end" stroke="#111" stroke-width="0.05">1000</text>
<line x1="255.00" y1="427.05" x2="256.50" y2="427.05" stroke="#111" stroke-width="0.5"/>
<text x="253.70" y="429.28" font-size="6.2" fill="#111" text-anchor="end" stroke="#111" stroke-width="0.05">1500</text>
<line x1="255.00" y1="395.30" x2="256.50" y2="395.30" stroke="#111" stroke-width="0.5"/>
<text x="253.70" y="397.53" font-size="6.2" fill="#111" text-anchor="end" stroke="#111" stroke-width="0.05">2000</text>
<line x1="255.80" y1="506.42" x2="256.50" y2="506.42" stroke="#111" stroke-width="0.4"/>
<line x1="255.80" y1="474.67" x2="256.50" y2="474.67" stroke="#111" stroke-width="0.4"/>
<line x1="255.80" y1="442.92" x2="256.50" y2="442.92" stroke="#111" stroke-width="0.4"/>
<line x1="255.80" y1="411.17" x2="256.50" y2="411.17" stroke="#111" stroke-width="0.4"/>
<line x1="256.50" y1="529.00" x2="256.50" y2="530.50" stroke="#111" stroke-width="0.5"/>
<text x="256.50" y="536.53" font-size="6.2" fill="#111" text-anchor="middle" stroke="#111" stroke-width="0.05">580</text>
<line x1="282.00" y1="529.00" x2="282.00" y2="530.50" stroke="#111" stroke-width="0.5"/>
<text x="282.00" y="536.53" font-size="6.2" fill="#111" text-anchor="middle" stroke="#111" stroke-width="0.05">620</text>
<line x1="307.50" y1="529.00" x2="307.50" y2="530.50" stroke="#111" stroke-width="0.5"/>
<text x="307.50" y="536.53" font-size="6.2" fill="#111" text-anchor="middle" stroke="#111" stroke-width="0.05">660</text>
<line x1="333.00" y1="529.00" x2="333.00" y2="530.50" stroke="#111" stroke-width="0.5"/>
<text x="333.00" y="536.53" font-size="6.2" fill="#111" text-anchor="middle" stroke="#111" stroke-width="0.05">700</text>
<line x1="269.25" y1="529.00" x2="269.25" y2="529.90" stroke="#111" stroke-width="0.4"/>
<line x1="294.75" y1="529.00" x2="294.75" y2="529.90" stroke="#111" stroke-width="0.4"/>
<line x1="320.25" y1="529.00" x2="320.25" y2="529.90" stroke="#111" stroke-width="0.4"/>
<text x="295.30" y="543.40" font-size="8.6" fill="#000" text-anchor="middle" stroke="#000" stroke-width="0.12">Wavelength (nm)</text>
<text x="237.57" y="462.00" font-size="8.8" fill="#000" text-anchor="middle" stroke="#000" stroke-width="0.12" transform="rotate(-90 237.57 462.00)">Fluorescence Intensity</text>
<path d="M256.5,516.9L256.9,516.6L257.3,516.2L257.7,515.8L258.0,515.3L258.4,514.8L258.8,514.3L259.2,513.7L259.6,513.1L260.0,512.4L260.3,511.7L260.7,511.0L261.1,510.2L261.5,509.5L261.9,508.7L262.3,507.8L262.7,506.9L263.0,505.8L263.4,504.7L263.8,503.6L264.2,502.4L264.6,501.2L265.0,499.9L265.3,498.6L265.7,497.3L266.1,495.9L266.5,494.6L266.9,493.2L267.3,491.6L267.6,490.0L268.0,488.3L268.4,486.6L268.8,484.9L269.2,483.2L269.6,481.4L270.0,479.8L270.3,478.2L270.7,476.6L271.1,475.2L271.5,473.8L271.9,472.4L272.3,471.0L272.6,469.6L273.0,468.3L273.4,466.9L273.8,465.6L274.2,464.4L274.6,463.2L275.0,462.2L275.3,461.2L275.7,460.4L276.1,459.7L276.5,459.1L276.9,458.5L277.3,458.0L277.6,457.4L278.0,456.9L278.4,456.5L278.8,456.1L279.2,455.7L279.6,455.4L279.9,455.2L280.3,455.0L280.7,455.0L281.1,455.0L281.5,455.2L281.9,455.4L282.3,455.8L282.6,456.2L283.0,456.6L283.4,457.1L283.8,457.6L284.2,458.2L284.6,458.8L284.9,459.4L285.3,460.0L285.7,460.7L286.1,461.5L286.5,462.4L286.9,463.4L287.3,464.5L287.6,465.6L288.0,466.8L288.4,468.0L288.8,469.2L289.2,470.4L289.6,471.5L289.9,472.7L290.3,473.7L290.7,474.9L291.1,476.0L291.5,477.2L291.9,478.4L292.3,479.6L292.6,480.8L293.0,482.0L293.4,483.2L293.8,484.3L294.2,485.5L294.6,486.5L294.9,487.6L295.3,488.6L295.7,489.5L296.1,490.3L296.5,491.2L296.9,492.0L297.2,492.8L297.6,493.6L298.0,494.4L298.4,495.1L298.8,495.8L299.2,496.6L299.6,497.2L299.9,497.9L300.3,498.6L300.7,499.2L301.1,499.8L301.5,500.4L301.9,500.9L302.2,501.5L302.6,502.0L303.0,502.5L303.4,502.9L303.8,503.4L304.2,503.8L304.6,504.2L304.9,504.6L305.3,505.0L305.7,505.4L306.1,505.8L306.5,506.1L306.9,506.5L307.2,506.8L307.6,507.2L308.0,507.5L308.4,507.8L308.8,508.2L309.2,508.5L309.6,508.8L309.9,509.1L310.3,509.4L310.7,509.7L311.1,510.0L311.5,510.3L311.9,510.6L312.2,510.8L312.6,511.1L313.0,511.4L313.4,511.6L313.8,511.9L314.2,512.1L314.5,512.4L314.9,512.6L315.3,512.9L315.7,513.1L316.1,513.4L316.5,513.6L316.9,513.8L317.2,514.1L317.6,514.3L318.0,514.5L318.4,514.7L318.8,515.0L319.2,515.2L319.5,515.4L319.9,515.6L320.3,515.8L320.7,516.0L321.1,516.2L321.5,516.4L321.9,516.6L322.2,516.7L322.6,516.9L323.0,517.1L323.4,517.2L323.8,517.3L324.2,517.5L324.5,517.6L324.9,517.8L325.3,517.9L325.7,518.1L326.1,518.2L326.5,518.3L326.8,518.4L327.2,518.6L327.6,518.7L328.0,518.8L328.4,518.9L328.8,519.0L329.2,519.2L329.5,519.3L329.9,519.4L330.3,519.5L330.7,519.6L331.1,519.6L331.5,519.7L331.8,519.8L332.2,519.9L332.6,519.9L333.0,520.0" fill="none" stroke="#e7a3cf" stroke-width="1.1" stroke-linejoin="round" stroke-linecap="round"/>
<path d="M256.5,516.8L256.9,516.5L257.3,516.1L257.7,515.7L258.0,515.2L258.4,514.6L258.8,514.1L259.2,513.4L259.6,512.8L260.0,512.1L260.3,511.4L260.7,510.6L261.1,509.8L261.5,509.1L261.9,508.2L262.3,507.3L262.7,506.3L263.0,505.2L263.4,504.0L263.8,502.8L264.2,501.5L264.6,500.2L265.0,498.9L265.3,497.5L265.7,496.1L266.1,494.7L266.5,493.3L266.9,491.9L267.3,490.3L267.6,488.7L268.0,487.1L268.4,485.4L268.8,483.8L269.2,482.1L269.6,480.4L270.0,478.7L270.3,477.1L270.7,475.5L271.1,473.9L271.5,472.4L271.9,470.9L272.3,469.3L272.6,467.7L273.0,466.1L273.4,464.5L273.8,462.9L274.2,461.5L274.6,460.1L275.0,458.8L275.3,457.6L275.7,456.5L276.1,455.6L276.5,454.9L276.9,454.1L277.3,453.4L277.6,452.6L278.0,452.0L278.4,451.3L278.8,450.8L279.2,450.3L279.6,449.9L279.9,449.5L280.3,449.3L280.7,449.3L281.1,449.3L281.5,449.5L281.9,449.7L282.3,450.0L282.6,450.4L283.0,450.9L283.4,451.4L283.8,451.9L284.2,452.5L284.6,453.1L284.9,453.7L285.3,454.3L285.7,455.0L286.1,455.8L286.5,456.7L286.9,457.7L287.3,458.8L287.6,459.9L288.0,461.1L288.4,462.3L288.8,463.5L289.2,464.6L289.6,465.8L289.9,466.9L290.3,468.0L290.7,469.1L291.1,470.3L291.5,471.5L291.9,472.6L292.3,473.8L292.6,475.0L293.0,476.2L293.4,477.3L293.8,478.5L294.2,479.6L294.6,480.7L294.9,481.8L295.3,482.8L295.7,483.7L296.1,484.7L296.5,485.6L296.9,486.5L297.2,487.3L297.6,488.2L298.0,489.1L298.4,489.9L298.8,490.7L299.2,491.5L299.6,492.3L299.9,493.1L300.3,493.8L300.7,494.5L301.1,495.2L301.5,495.9L301.9,496.5L302.2,497.2L302.6,497.8L303.0,498.4L303.4,498.9L303.8,499.5L304.2,500.0L304.6,500.5L304.9,501.0L305.3,501.5L305.7,502.0L306.1,502.5L306.5,502.9L306.9,503.3L307.2,503.7L307.6,504.1L308.0,504.5L308.4,504.9L308.8,505.3L309.2,505.6L309.6,506.0L309.9,506.3L310.3,506.6L310.7,506.9L311.1,507.2L311.5,507.6L311.9,507.8L312.2,508.1L312.6,508.4L313.0,508.7L313.4,509.0L313.8,509.3L314.2,509.5L314.5,509.8L314.9,510.1L315.3,510.3L315.7,510.6L316.1,510.9L316.5,511.1L316.9,511.4L317.2,511.7L317.6,511.9L318.0,512.2L318.4,512.4L318.8,512.7L319.2,512.9L319.5,513.1L319.9,513.4L320.3,513.6L320.7,513.8L321.1,514.0L321.5,514.2L321.9,514.4L322.2,514.6L322.6,514.8L323.0,515.0L323.4,515.2L323.8,515.3L324.2,515.5L324.5,515.7L324.9,515.8L325.3,516.0L325.7,516.1L326.1,516.3L326.5,516.4L326.8,516.6L327.2,516.7L327.6,516.9L328.0,517.0L328.4,517.1L328.8,517.2L329.2,517.4L329.5,517.5L329.9,517.6L330.3,517.7L330.7,517.8L331.1,517.9L331.5,518.0L331.8,518.1L332.2,518.2L332.6,518.3L333.0,518.4" fill="none" stroke="#7fd47c" stroke-width="1.1" stroke-linejoin="round" stroke-linecap="round"/>
<path d="M256.5,516.5L256.9,516.1L257.3,515.6L257.7,515.1L258.0,514.6L258.4,514.0L258.8,513.3L259.2,512.6L259.6,511.9L260.0,511.2L260.3,510.4L260.7,509.6L261.1,508.8L261.5,507.9L261.9,507.0L262.3,506.1L262.7,505.0L263.0,503.9L263.4,502.8L263.8,501.5L264.2,500.3L264.6,498.9L265.0,497.6L265.3,496.2L265.7,494.8L266.1,493.4L266.5,492.0L266.9,490.6L267.3,489.0L267.6,487.3L268.0,485.6L268.4,483.9L268.8,482.2L269.2,480.4L269.6,478.7L270.0,477.0L270.3,475.4L270.7,473.8L271.1,472.3L271.5,470.9L271.9,469.4L272.3,468.0L272.6,466.5L273.0,465.0L273.4,463.5L273.8,462.2L274.2,460.9L274.6,459.6L275.0,458.5L275.3,457.6L275.7,456.8L276.1,456.1L276.5,455.7L276.9,455.2L277.3,454.8L277.6,454.4L278.0,454.1L278.4,453.8L278.8,453.5L279.2,453.3L279.6,453.2L279.9,453.1L280.3,453.1L280.7,453.2L281.1,453.4L281.5,453.7L281.9,454.0L282.3,454.5L282.6,454.9L283.0,455.4L283.4,456.0L283.8,456.6L284.2,457.2L284.6,457.8L284.9,458.4L285.3,459.0L285.7,459.8L286.1,460.6L286.5,461.6L286.9,462.6L287.3,463.7L287.6,464.9L288.0,466.1L288.4,467.3L288.8,468.5L289.2,469.7L289.6,470.9L289.9,472.0L290.3,473.1L290.7,474.2L291.1,475.4L291.5,476.6L291.9,477.8L292.3,478.9L292.6,480.1L293.0,481.3L293.4,482.5L293.8,483.6L294.2,484.7L294.6,485.8L294.9,486.8L295.3,487.7L295.7,488.6L296.1,489.5L296.5,490.3L296.9,491.1L297.2,491.9L297.6,492.7L298.0,493.5L298.4,494.2L298.8,494.9L299.2,495.6L299.6,496.3L299.9,497.0L300.3,497.6L300.7,498.2L301.1,498.8L301.5,499.4L301.9,500.0L302.2,500.5L302.6,501.0L303.0,501.5L303.4,502.0L303.8,502.5L304.2,502.9L304.6,503.4L304.9,503.8L305.3,504.2L305.7,504.6L306.1,505.0L306.5,505.4L306.9,505.7L307.2,506.1L307.6,506.4L308.0,506.7L308.4,507.1L308.8,507.4L309.2,507.7L309.6,508.0L309.9,508.3L310.3,508.6L310.7,508.9L311.1,509.1L311.5,509.4L311.9,509.7L312.2,509.9L312.6,510.2L313.0,510.4L313.4,510.7L313.8,510.9L314.2,511.2L314.5,511.4L314.9,511.7L315.3,511.9L315.7,512.2L316.1,512.4L316.5,512.7L316.9,512.9L317.2,513.1L317.6,513.4L318.0,513.6L318.4,513.8L318.8,514.1L319.2,514.3L319.5,514.5L319.9,514.7L320.3,515.0L320.7,515.2L321.1,515.4L321.5,515.6L321.9,515.8L322.2,515.9L322.6,516.1L323.0,516.3L323.4,516.4L323.8,516.6L324.2,516.7L324.5,516.9L324.9,517.0L325.3,517.2L325.7,517.3L326.1,517.5L326.5,517.6L326.8,517.8L327.2,517.9L327.6,518.0L328.0,518.1L328.4,518.3L328.8,518.4L329.2,518.5L329.5,518.6L329.9,518.7L330.3,518.8L330.7,518.9L331.1,519.0L331.5,519.1L331.8,519.2L332.2,519.3L332.6,519.4L333.0,519.4" fill="none" stroke="#f9b06a" stroke-width="1.1" stroke-linejoin="round" stroke-linecap="round"/>
<path d="M256.5,516.8L256.9,516.4L257.3,516.0L257.7,515.6L258.0,515.1L258.4,514.5L258.8,514.0L259.2,513.3L259.6,512.7L260.0,512.0L260.3,511.2L260.7,510.5L261.1,509.7L261.5,508.9L261.9,508.1L262.3,507.2L262.7,506.2L263.0,505.1L263.4,504.0L263.8,502.8L264.2,501.6L264.6,500.3L265.0,499.0L265.3,497.7L265.7,496.3L266.1,495.0L266.5,493.6L266.9,492.2L267.3,490.7L267.6,489.2L268.0,487.6L268.4,486.0L268.8,484.4L269.2,482.7L269.6,481.0L270.0,479.4L270.3,477.7L270.7,476.1L271.1,474.6L271.5,473.0L271.9,471.4L272.3,469.7L272.6,468.1L273.0,466.4L273.4,464.7L273.8,463.1L274.2,461.5L274.6,460.0L275.0,458.6L275.3,457.2L275.7,456.1L276.1,455.0L276.5,454.2L276.9,453.3L277.3,452.4L277.6,451.5L278.0,450.7L278.4,449.9L278.8,449.2L279.2,448.6L279.6,448.1L279.9,447.7L280.3,447.5L280.7,447.4L281.1,447.4L281.5,447.6L281.9,447.8L282.3,448.2L282.6,448.6L283.0,449.1L283.4,449.6L283.8,450.1L284.2,450.7L284.6,451.3L284.9,451.9L285.3,452.6L285.7,453.3L286.1,454.1L286.5,455.1L286.9,456.1L287.3,457.3L287.6,458.4L288.0,459.6L288.4,460.9L288.8,462.1L289.2,463.3L289.6,464.5L289.9,465.7L290.3,466.8L290.7,467.9L291.1,469.0L291.5,470.2L291.9,471.4L292.3,472.5L292.6,473.7L293.0,474.8L293.4,476.0L293.8,477.1L294.2,478.2L294.6,479.3L294.9,480.4L295.3,481.4L295.7,482.3L296.1,483.3L296.5,484.2L296.9,485.1L297.2,486.0L297.6,486.9L298.0,487.8L298.4,488.6L298.8,489.5L299.2,490.3L299.6,491.1L299.9,491.9L300.3,492.7L300.7,493.4L301.1,494.1L301.5,494.8L301.9,495.5L302.2,496.1L302.6,496.8L303.0,497.4L303.4,498.0L303.8,498.5L304.2,499.1L304.6,499.6L304.9,500.2L305.3,500.7L305.7,501.2L306.1,501.7L306.5,502.1L306.9,502.6L307.2,503.0L307.6,503.4L308.0,503.8L308.4,504.2L308.8,504.5L309.2,504.9L309.6,505.2L309.9,505.6L310.3,505.9L310.7,506.2L311.1,506.6L311.5,506.9L311.9,507.2L312.2,507.5L312.6,507.8L313.0,508.1L313.4,508.3L313.8,508.6L314.2,508.9L314.5,509.2L314.9,509.4L315.3,509.7L315.7,510.0L316.1,510.3L316.5,510.5L316.9,510.8L317.2,511.1L317.6,511.3L318.0,511.6L318.4,511.8L318.8,512.1L319.2,512.3L319.5,512.6L319.9,512.8L320.3,513.0L320.7,513.3L321.1,513.5L321.5,513.7L321.9,513.9L322.2,514.1L322.6,514.3L323.0,514.5L323.4,514.7L323.8,514.8L324.2,515.0L324.5,515.2L324.9,515.3L325.3,515.5L325.7,515.6L326.1,515.8L326.5,516.0L326.8,516.1L327.2,516.3L327.6,516.4L328.0,516.5L328.4,516.7L328.8,516.8L329.2,516.9L329.5,517.1L329.9,517.2L330.3,517.3L330.7,517.4L331.1,517.5L331.5,517.6L331.8,517.7L332.2,517.8L332.6,517.9L333.0,518.0" fill="none" stroke="#4f86c6" stroke-width="1.1" stroke-linejoin="round" stroke-linecap="round"/>
<line x1="287.60" y1="406.20" x2="300.50" y2="406.20" stroke="#e7a3cf" stroke-width="0.9"/>
<text x="302.20" y="408.40" font-size="6.1" fill="#222" stroke="#222" stroke-width="0.04">mC</text>
<line x1="287.60" y1="413.40" x2="300.50" y2="413.40" stroke="#7fd47c" stroke-width="0.9"/>
<text x="302.20" y="415.60" font-size="6.1" fill="#222" stroke="#222" stroke-width="0.04">mC_LaM1</text>
<line x1="287.60" y1="421.30" x2="300.50" y2="421.30" stroke="#f9b06a" stroke-width="0.9"/>
<text x="302.20" y="423.50" font-size="6.1" fill="#222" stroke="#222" stroke-width="0.04">mC_LaM3</text>
<line x1="287.60" y1="428.60" x2="300.50" y2="428.60" stroke="#4f86c6" stroke-width="0.9"/>
<text x="302.20" y="430.80" font-size="6.1" fill="#222" stroke="#222" stroke-width="0.04">mC_LaM8</text>
</svg>
</body></html>
